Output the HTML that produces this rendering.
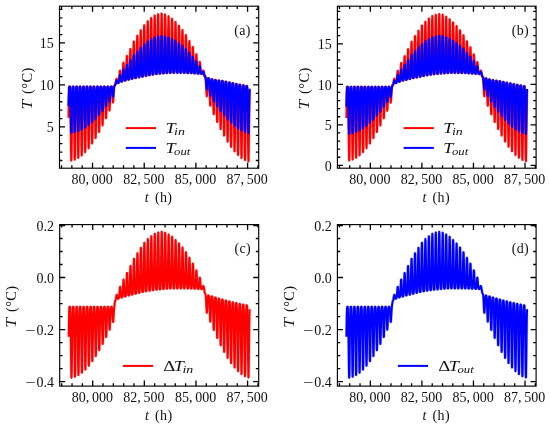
<!DOCTYPE html>
<html lang="en"><head><meta charset="utf-8"><title>Inlet and outlet temperatures</title>
<style>html,body{margin:0;padding:0;background:#fff;}svg{display:block;}text{font-family:"Liberation Serif", "DejaVu Serif", serif;font-size:14px;fill:#111;}.i{font-style:italic;}.ln{fill:none;stroke-width:2;stroke-linejoin:round;stroke-linecap:butt;}.halo{fill:none;stroke-width:3;stroke-opacity:0.22;stroke-linejoin:round;stroke-linecap:butt;}.fr{fill:none;stroke:#000;stroke-width:1.15;}.tk{stroke:#000;stroke-width:1.3;fill:none;}</style></head><body>
<svg width="550" height="428" viewBox="0 0 550 428">
<rect x="0" y="0" width="550" height="428" fill="#ffffff"/>
<defs><clipPath id="cpa"><rect x="59.50" y="6.20" width="199.20" height="162.00"/></clipPath><clipPath id="cpb"><rect x="337.40" y="6.20" width="198.70" height="162.00"/></clipPath><clipPath id="cpc"><rect x="59.70" y="224.60" width="199.00" height="161.50"/></clipPath><clipPath id="cpd"><rect x="337.40" y="224.60" width="198.70" height="161.50"/></clipPath></defs>
<g clip-path="url(#cpa)">
<polyline class="halo" stroke="#ff0000" points="68.55,117.84 68.68,108.13 68.80,100.11 68.93,94.12 69.05,90.17 69.17,87.95 69.30,86.96 69.42,86.66 69.55,86.62 69.67,86.63 69.79,86.71 69.92,87.18 70.04,88.53 70.17,91.27 70.29,95.87 70.42,102.54 70.54,111.17 70.66,121.27 70.79,132.04 70.91,142.42 71.04,151.30 71.16,157.63 71.28,160.67 71.41,160.03 71.53,155.79 71.66,148.48 71.78,138.96 71.90,128.32 72.03,117.68 72.15,108.01 72.28,100.03 72.40,94.08 72.52,90.15 72.65,87.94 72.77,86.95 72.90,86.66 73.02,86.62 73.14,86.63 73.27,86.71 73.39,87.18 73.52,88.51 73.64,91.23 73.76,95.78 73.89,102.37 74.01,110.90 74.14,120.88 74.26,131.50 74.38,141.74 74.51,150.49 74.63,156.72 74.76,159.68 74.88,159.02 75.00,154.82 75.13,147.59 75.25,138.19 75.38,127.69 75.50,117.20 75.62,107.67 75.75,99.81 75.87,93.95 76.00,90.09 76.12,87.92 76.24,86.95 76.37,86.66 76.49,86.62 76.62,86.63 76.74,86.71 76.86,87.17 76.99,88.47 77.11,91.13 77.24,95.59 77.36,102.04 77.49,110.37 77.61,120.12 77.73,130.50 77.86,140.49 77.98,149.01 78.11,155.07 78.23,157.94 78.35,157.27 78.48,153.14 78.60,146.06 78.73,136.88 78.85,126.63 78.97,116.40 79.10,107.11 79.22,99.45 79.35,93.75 79.47,89.99 79.59,87.88 79.72,86.94 79.84,86.66 79.97,86.62 80.09,86.62 80.21,86.71 80.34,87.15 80.46,88.41 80.59,90.99 80.71,95.30 80.83,101.54 80.96,109.60 81.08,119.02 81.21,129.04 81.33,138.67 81.45,146.88 81.58,152.70 81.70,155.44 81.83,154.76 81.95,150.75 82.07,143.90 82.20,135.03 82.32,125.15 82.45,115.28 82.57,106.34 82.69,98.96 82.82,93.47 82.94,89.86 83.07,87.83 83.19,86.93 83.31,86.66 83.44,86.62 83.56,86.62 83.69,86.70 83.81,87.13 83.93,88.34 84.06,90.80 84.18,94.92 84.31,100.88 84.43,108.58 84.56,117.56 84.68,127.11 84.80,136.28 84.93,144.08 85.05,149.61 85.18,152.19 85.30,151.51 85.42,147.66 85.55,141.12 85.67,132.65 85.80,123.24 85.92,113.85 86.04,105.34 86.17,98.33 86.29,93.12 86.42,89.69 86.54,87.77 86.66,86.91 86.79,86.65 86.91,86.62 87.04,86.62 87.16,86.70 87.28,87.10 87.41,88.24 87.53,90.57 87.66,94.45 87.78,100.07 87.90,107.31 88.03,115.76 88.15,124.73 88.28,133.34 88.40,140.65 88.52,145.81 88.65,148.20 88.77,147.53 88.90,143.89 89.02,137.72 89.14,129.76 89.27,120.91 89.39,112.10 89.52,104.13 89.64,97.57 89.76,92.70 89.89,89.49 90.01,87.69 90.14,86.89 90.26,86.65 90.38,86.62 90.51,86.62 90.63,86.69 90.76,87.07 90.88,88.13 91.00,90.29 91.13,93.89 91.25,99.10 91.38,105.80 91.50,113.62 91.63,121.91 91.75,129.85 91.87,136.58 92.00,141.32 92.12,143.49 92.25,142.84 92.37,139.44 92.49,133.72 92.62,126.35 92.74,118.19 92.87,110.06 92.99,102.72 93.11,96.68 93.24,92.20 93.36,89.25 93.49,87.60 93.61,86.87 93.73,86.65 93.86,86.62 93.98,86.62 94.11,86.69 94.23,87.03 94.35,87.99 94.48,89.96 94.60,93.24 94.73,97.97 94.85,104.06 94.97,111.15 95.10,118.66 95.22,125.84 95.35,131.91 95.47,136.16 95.59,138.09 95.72,137.46 95.84,134.35 95.97,129.14 96.09,122.46 96.21,115.07 96.34,107.73 96.46,101.11 96.59,95.66 96.71,91.63 96.83,88.98 96.96,87.50 97.08,86.84 97.21,86.65 97.33,86.62 97.45,86.62 97.58,86.68 97.70,86.99 97.83,87.84 97.95,89.60 98.07,92.51 98.20,96.71 98.32,102.10 98.45,108.37 98.57,115.00 98.70,121.33 98.82,126.66 98.94,130.38 99.07,132.04 99.19,131.43 99.32,128.64 99.44,124.02 99.56,118.12 99.69,111.59 99.81,105.13 99.94,99.31 100.06,94.53 100.18,91.00 100.31,88.68 100.43,87.39 100.56,86.81 100.68,86.64 100.80,86.62 100.93,86.62 101.05,86.67 101.18,86.94 101.30,87.68 101.42,89.19 101.55,91.70 101.67,95.31 101.80,99.94 101.92,105.31 102.04,110.97 102.17,116.36 102.29,120.89 102.42,124.02 102.54,125.38 102.66,124.81 102.79,122.38 102.91,118.40 103.04,113.35 103.16,107.78 103.28,102.28 103.41,97.34 103.53,93.30 103.66,90.31 103.78,88.36 103.90,87.27 104.03,86.78 104.15,86.64 104.28,86.62 104.40,86.62 104.52,86.66 104.65,86.88 104.77,87.50 104.90,88.75 105.02,90.82 105.14,93.79 105.27,97.59 105.39,101.99 105.52,106.61 105.64,110.99 105.77,114.64 105.89,117.14 106.01,118.19 106.14,117.66 106.26,115.63 106.39,112.34 106.51,108.20 106.63,103.67 106.76,99.21 106.88,95.22 107.01,91.96 107.13,89.57 107.25,88.00 107.38,87.13 107.50,86.75 107.63,86.64 107.75,86.62 107.87,86.62 108.00,86.66 108.12,86.83 108.25,87.31 108.37,88.28 108.49,89.88 108.62,92.17 108.74,95.09 108.87,98.45 108.99,101.96 109.11,105.26 109.24,107.98 109.36,109.81 109.49,110.53 109.61,110.05 109.73,108.44 109.86,105.91 109.98,102.75 110.11,99.31 110.23,95.96 110.35,92.97 110.48,90.55 110.60,88.78 110.73,87.63 110.85,86.99 110.97,86.72 111.10,86.63 111.22,86.62 111.35,86.62 111.47,86.65 111.59,86.77 111.72,87.10 111.84,87.78 111.97,88.89 112.09,90.47 112.21,92.46 112.34,94.73 112.46,97.07 112.59,99.24 112.71,101.00 112.83,102.14 112.96,102.51 113.08,102.09 113.21,100.93 113.33,99.17 113.46,97.04 113.58,94.76 113.70,92.56 113.83,90.63 113.95,89.04 114.08,87.81 114.20,86.93 114.32,86.33 114.45,85.93 114.57,85.64 114.70,85.40 114.82,85.18 114.94,85.00 115.07,84.84 115.19,84.68 115.32,84.45 115.44,84.12 115.56,83.67 115.69,83.08 115.81,82.38 115.94,81.59 116.06,80.78 116.18,80.01 116.31,79.36 116.43,78.90 116.56,78.67 116.68,78.70 116.80,78.99 116.93,79.48 117.05,80.12 117.18,80.81 117.30,81.49 117.42,82.07 117.55,82.52 117.67,82.81 117.80,82.95 117.92,82.99 118.04,82.96 118.17,82.90 118.29,82.85 118.42,82.78 118.54,82.67 118.66,82.45 118.79,82.05 118.91,81.39 119.04,80.43 119.16,79.17 119.28,77.65 119.41,75.96 119.53,74.27 119.66,72.73 119.78,71.52 119.90,70.77 120.03,70.59 120.15,70.98 120.28,71.91 120.40,73.25 120.53,74.84 120.65,76.51 120.77,78.07 120.90,79.39 121.02,80.40 121.15,81.07 121.27,81.43 121.39,81.57 121.52,81.58 121.64,81.55 121.77,81.50 121.89,81.44 122.01,81.30 122.14,80.97 122.26,80.33 122.39,79.26 122.51,77.70 122.63,75.66 122.76,73.23 122.88,70.58 123.01,67.95 123.13,65.62 123.25,63.85 123.38,62.85 123.50,62.74 123.63,63.55 123.75,65.16 123.87,67.38 124.00,69.95 124.12,72.58 124.25,75.02 124.37,77.06 124.49,78.60 124.62,79.62 124.74,80.19 124.87,80.42 124.99,80.47 125.11,80.44 125.24,80.41 125.36,80.35 125.49,80.18 125.61,79.74 125.73,78.89 125.86,77.46 125.98,75.38 126.11,72.67 126.23,69.45 126.35,65.96 126.48,62.53 126.60,59.51 126.73,57.26 126.85,56.03 126.97,55.98 127.10,57.13 127.22,59.31 127.35,62.29 127.47,65.70 127.60,69.17 127.72,72.38 127.84,75.06 127.97,77.08 128.09,78.41 128.22,79.16 128.34,79.48 128.46,79.56 128.59,79.54 128.71,79.51 128.84,79.45 128.96,79.24 129.08,78.71 129.21,77.63 129.33,75.83 129.46,73.19 129.58,69.76 129.70,65.69 129.83,61.29 129.95,56.98 130.08,53.21 130.20,50.40 130.32,48.90 130.45,48.89 130.57,50.38 130.70,53.17 130.82,56.95 130.94,61.26 131.07,65.65 131.19,69.69 131.32,73.06 131.44,75.60 131.56,77.28 131.69,78.23 131.81,78.64 131.94,78.74 132.06,78.73 132.18,78.70 132.31,78.63 132.43,78.38 132.56,77.73 132.68,76.40 132.80,74.17 132.93,70.93 133.05,66.70 133.18,61.71 133.30,56.32 133.42,51.07 133.55,46.49 133.67,43.13 133.80,41.38 133.92,41.46 134.04,43.37 134.17,46.86 134.29,51.52 134.42,56.80 134.54,62.15 134.67,67.05 134.79,71.13 134.91,74.18 135.04,76.20 135.16,77.34 135.29,77.83 135.41,77.96 135.53,77.95 135.66,77.93 135.78,77.85 135.91,77.57 136.03,76.82 136.15,75.29 136.28,72.74 136.40,69.04 136.53,64.22 136.65,58.54 136.77,52.45 136.90,46.52 137.02,41.38 137.15,37.63 137.27,35.71 137.39,35.87 137.52,38.08 137.64,42.07 137.77,47.37 137.89,53.36 138.01,59.41 138.14,64.94 138.26,69.54 138.39,72.98 138.51,75.26 138.63,76.53 138.76,77.09 138.88,77.25 139.01,77.24 139.13,77.22 139.25,77.14 139.38,76.83 139.50,75.99 139.63,74.29 139.75,71.45 139.87,67.32 140.00,61.95 140.12,55.63 140.25,48.86 140.37,42.27 140.49,36.57 140.62,32.42 140.74,30.31 140.87,30.52 140.99,33.00 141.11,37.46 141.24,43.37 141.36,50.03 141.49,56.76 141.61,62.90 141.74,68.01 141.86,71.83 141.98,74.35 142.11,75.77 142.23,76.39 142.36,76.56 142.48,76.56 142.60,76.53 142.73,76.45 142.85,76.11 142.98,75.19 143.10,73.32 143.22,70.19 143.35,65.65 143.47,59.75 143.60,52.81 143.72,45.37 143.84,38.16 143.97,31.93 144.09,27.42 144.22,25.16 144.34,25.43 144.46,28.20 144.59,33.12 144.71,39.62 144.84,46.93 144.96,54.29 145.08,61.00 145.21,66.56 145.33,70.72 145.46,73.46 145.58,75.00 145.70,75.67 145.83,75.86 145.95,75.86 146.08,75.83 146.20,75.74 146.32,75.38 146.45,74.39 146.57,72.39 146.70,69.04 146.82,64.19 146.94,57.91 147.07,50.52 147.19,42.63 147.32,34.98 147.44,28.40 147.56,23.65 147.69,21.29 147.81,21.62 147.94,24.59 148.06,29.85 148.18,36.75 148.31,44.51 148.43,52.31 148.56,59.42 148.68,65.30 148.81,69.70 148.93,72.60 149.05,74.22 149.18,74.93 149.30,75.13 149.43,75.13 149.55,75.10 149.67,75.01 149.80,74.63 149.92,73.60 150.05,71.50 150.17,68.00 150.29,62.91 150.42,56.33 150.54,48.61 150.67,40.35 150.79,32.36 150.91,25.50 151.04,20.55 151.16,18.11 151.29,18.48 151.41,21.62 151.53,27.13 151.66,34.36 151.78,42.48 151.91,50.64 152.03,58.06 152.15,64.21 152.28,68.80 152.40,71.83 152.53,73.52 152.65,74.27 152.77,74.48 152.90,74.49 153.02,74.47 153.15,74.38 153.27,73.99 153.39,72.93 153.52,70.75 153.64,67.12 153.77,61.85 153.89,55.04 154.01,47.04 154.14,38.50 154.26,30.25 154.39,23.17 154.51,18.09 154.63,15.61 154.76,16.04 154.88,19.32 155.01,25.06 155.13,32.56 155.25,40.97 155.38,49.40 155.50,57.07 155.63,63.41 155.75,68.14 155.88,71.26 156.00,73.01 156.12,73.79 156.25,74.01 156.37,74.02 156.50,74.00 156.62,73.92 156.74,73.53 156.87,72.44 156.99,70.23 157.12,66.53 157.24,61.17 157.36,54.24 157.49,46.11 157.61,37.44 157.74,29.07 157.86,21.90 157.98,16.76 158.11,14.27 158.23,14.74 158.36,18.10 158.48,23.94 158.60,31.57 158.73,40.11 158.85,48.66 158.98,56.44 159.10,62.87 159.22,67.67 159.35,70.83 159.47,72.60 159.60,73.39 159.72,73.62 159.84,73.63 159.97,73.62 160.09,73.54 160.22,73.14 160.34,72.05 160.46,69.82 160.59,66.09 160.71,60.70 160.84,53.71 160.96,45.53 161.08,36.81 161.21,28.40 161.33,21.20 161.46,16.05 161.58,13.56 161.70,14.06 161.83,17.47 161.95,23.37 162.08,31.06 162.20,39.66 162.32,48.26 162.45,56.08 162.57,62.53 162.70,67.34 162.82,70.51 162.95,72.28 163.07,73.07 163.19,73.30 163.32,73.32 163.44,73.31 163.57,73.23 163.69,72.84 163.81,71.76 163.94,69.56 164.06,65.88 164.19,60.56 164.31,53.68 164.43,45.64 164.56,37.08 164.68,28.84 164.81,21.81 164.93,16.80 165.05,14.41 165.18,14.95 165.30,18.34 165.43,24.17 165.55,31.73 165.67,40.17 165.80,48.60 165.92,56.24 166.05,62.55 166.17,67.24 166.29,70.33 166.42,72.07 166.54,72.84 166.67,73.06 166.79,73.08 166.91,73.07 167.04,73.00 167.16,72.62 167.29,71.57 167.41,69.44 167.53,65.89 167.66,60.75 167.78,54.11 167.91,46.35 168.03,38.11 168.15,30.18 168.28,23.42 168.40,18.63 168.53,16.36 168.65,16.91 168.77,20.20 168.90,25.83 169.02,33.12 169.15,41.24 169.27,49.35 169.39,56.70 169.52,62.75 169.64,67.26 169.77,70.23 169.89,71.89 170.02,72.63 170.14,72.84 170.26,72.86 170.39,72.85 170.51,72.78 170.64,72.42 170.76,71.42 170.88,69.39 171.01,65.99 171.13,61.07 171.26,54.73 171.38,47.32 171.50,39.45 171.63,31.88 171.75,25.45 171.88,20.89 172.00,18.76 172.12,19.31 172.25,22.47 172.37,27.86 172.50,34.83 172.62,42.59 172.74,50.32 172.87,57.32 172.99,63.09 173.12,67.37 173.24,70.19 173.36,71.77 173.49,72.47 173.61,72.68 173.74,72.70 173.86,72.70 173.98,72.63 174.11,72.30 174.23,71.36 174.36,69.44 174.48,66.25 174.60,61.64 174.73,55.69 174.85,48.75 174.98,41.38 175.10,34.31 175.22,28.31 175.35,24.07 175.47,22.10 175.60,22.64 175.72,25.63 175.84,30.69 175.97,37.22 176.09,44.49 176.22,51.72 176.34,58.27 176.46,63.66 176.59,67.67 176.71,70.30 176.84,71.78 176.96,72.44 177.09,72.64 177.21,72.66 177.33,72.66 177.46,72.61 177.58,72.30 177.71,71.43 177.83,69.65 177.95,66.67 178.08,62.38 178.20,56.84 178.33,50.38 178.45,43.53 178.57,36.96 178.70,31.39 178.82,27.46 178.95,25.65 179.07,26.19 179.19,28.99 179.32,33.72 179.44,39.81 179.57,46.56 179.69,53.29 179.81,59.37 179.94,64.37 180.06,68.08 180.19,70.53 180.31,71.90 180.43,72.51 180.56,72.69 180.68,72.72 180.81,72.72 180.93,72.67 181.05,72.39 181.18,71.59 181.30,69.96 181.43,67.24 181.55,63.32 181.67,58.27 181.80,52.39 181.92,46.16 182.05,40.21 182.17,35.16 182.29,31.63 182.42,30.03 182.54,30.55 182.67,33.13 182.79,37.45 182.91,43.00 183.04,49.14 183.16,55.24 183.29,60.75 183.41,65.27 183.53,68.63 183.66,70.83 183.78,72.07 183.91,72.62 184.03,72.79 184.16,72.81 184.28,72.81 184.40,72.77 184.53,72.52 184.65,71.81 184.78,70.36 184.90,67.93 185.02,64.44 185.15,59.95 185.27,54.72 185.40,49.20 185.52,43.93 185.64,39.49 185.77,36.39 185.89,35.02 186.02,35.53 186.14,37.86 186.26,41.71 186.39,46.64 186.51,52.09 186.64,57.48 186.76,62.34 186.88,66.32 187.01,69.26 187.13,71.20 187.26,72.28 187.38,72.76 187.50,72.90 187.63,72.93 187.75,72.93 187.88,72.89 188.00,72.68 188.12,72.07 188.25,70.82 188.37,68.75 188.50,65.77 188.62,61.95 188.74,57.51 188.87,52.84 188.99,48.40 189.12,44.67 189.24,42.10 189.36,40.98 189.49,41.46 189.61,43.48 189.74,46.77 189.86,50.95 189.98,55.55 190.11,60.10 190.23,64.19 190.36,67.54 190.48,70.01 190.60,71.63 190.73,72.54 190.85,72.95 190.98,73.07 191.10,73.09 191.23,73.10 191.35,73.07 191.47,72.90 191.60,72.40 191.72,71.37 191.85,69.66 191.97,67.20 192.09,64.06 192.22,60.42 192.34,56.60 192.47,52.98 192.59,49.96 192.71,47.89 192.84,47.04 192.96,47.49 193.09,49.19 193.21,51.92 193.33,55.37 193.46,59.13 193.58,62.84 193.71,66.15 193.83,68.86 193.95,70.85 194.08,72.15 194.20,72.87 194.33,73.20 194.45,73.30 194.57,73.32 194.70,73.33 194.82,73.31 194.95,73.18 195.07,72.79 195.19,72.01 195.32,70.71 195.44,68.86 195.57,66.50 195.69,63.79 195.81,60.97 195.94,58.32 196.06,56.15 196.19,54.70 196.31,54.16 196.43,54.58 196.56,55.91 196.68,57.99 196.81,60.55 196.93,63.33 197.05,66.04 197.18,68.44 197.30,70.39 197.43,71.81 197.55,72.74 197.67,73.25 197.80,73.48 197.92,73.55 198.05,73.57 198.17,73.58 198.30,73.57 198.42,73.49 198.54,73.23 198.67,72.72 198.79,71.87 198.92,70.67 199.04,69.16 199.16,67.45 199.29,65.70 199.41,64.10 199.54,62.84 199.66,62.06 199.78,61.87 199.91,62.30 200.03,63.27 200.16,64.67 200.28,66.32 200.40,68.03 200.53,69.64 200.65,71.02 200.78,72.11 200.90,72.87 201.02,73.35 201.15,73.61 201.27,73.73 201.40,73.77 201.52,73.78 201.64,73.79 201.77,73.79 201.89,73.77 202.02,73.68 202.14,73.52 202.26,73.24 202.39,72.87 202.51,72.42 202.64,71.92 202.76,71.43 202.88,70.98 203.01,70.64 203.13,70.46 203.26,70.45 203.38,70.63 203.50,70.96 203.63,71.41 203.75,71.92 203.88,72.49 204.00,73.12 204.12,73.73 204.25,74.31 204.37,74.84 204.50,76.03 204.62,75.97 204.74,76.10 204.87,76.31 204.99,76.53 205.12,76.69 205.24,76.80 205.37,76.96 205.49,77.31 205.61,77.97 205.74,79.04 205.86,80.61 205.99,82.68 206.11,85.15 206.23,87.86 206.36,90.57 206.48,92.99 206.61,94.87 206.73,95.98 206.85,96.18 206.98,95.45 207.10,93.88 207.23,91.66 207.35,89.06 207.47,86.37 207.60,83.86 207.72,81.75 207.85,80.15 207.97,79.09 208.09,78.51 208.22,78.27 208.34,78.23 208.47,78.26 208.59,78.31 208.71,78.38 208.84,78.58 208.96,79.06 209.09,80.00 209.21,81.57 209.33,83.87 209.46,86.87 209.58,90.45 209.71,94.33 209.83,98.17 209.95,101.56 210.08,104.11 210.20,105.52 210.33,105.62 210.45,104.39 210.57,101.98 210.70,98.68 210.82,94.89 210.95,91.00 211.07,87.41 211.19,84.40 211.32,82.13 211.44,80.63 211.57,79.78 211.69,79.42 211.81,79.33 211.94,79.35 212.06,79.38 212.19,79.44 212.31,79.67 212.43,80.28 212.56,81.50 212.68,83.55 212.81,86.53 212.93,90.44 213.06,95.07 213.18,100.07 213.30,104.97 213.43,109.27 213.55,112.46 213.68,114.17 213.80,114.17 213.92,112.47 214.05,109.27 214.17,104.96 214.30,100.03 214.42,95.02 214.54,90.41 214.67,86.56 214.79,83.67 214.92,81.75 215.04,80.66 215.16,80.19 215.29,80.06 215.41,80.06 215.54,80.08 215.66,80.15 215.78,80.42 215.91,81.15 216.03,82.63 216.16,85.13 216.28,88.77 216.40,93.51 216.53,99.13 216.65,105.17 216.78,111.08 216.90,116.23 217.02,120.02 217.15,121.99 217.27,121.91 217.40,119.77 217.52,115.84 217.64,110.59 217.77,104.62 217.89,98.57 218.02,93.02 218.14,88.39 218.26,84.92 218.39,82.62 218.51,81.32 218.64,80.75 218.76,80.59 218.88,80.58 219.01,80.60 219.13,80.67 219.26,80.98 219.38,81.83 219.50,83.56 219.63,86.48 219.75,90.72 219.88,96.25 220.00,102.77 220.13,109.78 220.25,116.61 220.37,122.54 220.50,126.88 220.62,129.10 220.75,128.94 220.87,126.40 220.99,121.80 221.12,115.69 221.24,108.77 221.37,101.78 221.49,95.38 221.61,90.05 221.74,86.06 221.86,83.42 221.99,81.93 222.11,81.27 222.23,81.08 222.36,81.08 222.48,81.10 222.61,81.18 222.73,81.53 222.85,82.50 222.98,84.46 223.10,87.76 223.23,92.56 223.35,98.79 223.47,106.14 223.60,114.02 223.72,121.69 223.85,128.32 223.97,133.16 224.09,135.61 224.22,135.38 224.34,132.48 224.47,127.29 224.59,120.41 224.71,112.64 224.84,104.81 224.96,97.65 225.09,91.70 225.21,87.25 225.33,84.31 225.46,82.65 225.58,81.93 225.71,81.73 225.83,81.73 225.95,81.76 226.08,81.85 226.20,82.24 226.33,83.32 226.45,85.49 226.57,89.13 226.70,94.42 226.82,101.28 226.95,109.36 227.07,118.01 227.20,126.42 227.32,133.67 227.44,138.94 227.57,141.59 227.69,141.29 227.82,138.08 227.94,132.36 228.06,124.80 228.19,116.28 228.31,107.70 228.44,99.87 228.56,93.37 228.68,88.51 228.81,85.30 228.93,83.50 229.06,82.71 229.18,82.49 229.30,82.48 229.43,82.51 229.55,82.61 229.68,83.04 229.80,84.19 229.92,86.54 230.05,90.47 230.17,96.18 230.30,103.58 230.42,112.28 230.54,121.59 230.67,130.63 230.79,138.41 230.92,144.04 231.04,146.85 231.16,146.49 231.29,143.00 231.41,136.81 231.54,128.67 231.66,119.50 231.78,110.27 231.91,101.86 232.03,94.89 232.16,89.69 232.28,86.25 232.40,84.32 232.53,83.47 232.65,83.23 232.78,83.22 232.90,83.25 233.02,83.35 233.15,83.80 233.27,85.03 233.40,87.53 233.52,91.70 233.64,97.76 233.77,105.61 233.89,114.83 234.02,124.70 234.14,134.25 234.27,142.47 234.39,148.40 234.51,151.34 234.64,150.92 234.76,147.19 234.89,140.61 235.01,131.97 235.13,122.27 235.26,112.51 235.38,103.62 235.51,96.26 235.63,90.76 235.75,87.14 235.88,85.10 236.00,84.21 236.13,83.95 236.25,83.95 236.37,83.97 236.50,84.08 236.62,84.55 236.75,85.84 236.87,88.45 236.99,92.82 237.12,99.16 237.24,107.37 237.37,117.01 237.49,127.31 237.61,137.28 237.74,145.84 237.86,152.01 237.99,155.04 238.11,154.57 238.23,150.64 238.36,143.75 238.48,134.72 238.61,124.58 238.73,114.41 238.85,105.14 238.98,97.47 239.10,91.75 239.23,87.97 239.35,85.85 239.47,84.92 239.60,84.66 239.72,84.65 239.85,84.68 239.97,84.78 240.09,85.27 240.22,86.60 240.34,89.30 240.47,93.82 240.59,100.38 240.71,108.86 240.84,118.81 240.96,129.43 241.09,139.70 241.21,148.52 241.34,154.85 241.46,157.95 241.58,157.43 241.71,153.35 241.83,146.23 241.96,136.90 242.08,126.44 242.20,115.96 242.33,106.41 242.45,98.52 242.58,92.63 242.70,88.75 242.82,86.57 242.95,85.61 243.07,85.34 243.20,85.33 243.32,85.36 243.44,85.47 243.57,85.96 243.69,87.32 243.82,90.09 243.94,94.71 244.06,101.40 244.19,110.07 244.31,120.22 244.44,131.06 244.56,141.52 244.68,150.50 244.81,156.93 244.93,160.06 245.06,159.50 245.18,155.32 245.30,148.03 245.43,138.51 245.55,127.85 245.68,117.16 245.80,107.44 245.92,99.41 246.05,93.42 246.17,89.47 246.30,87.26 246.42,86.28 246.54,86.00 246.67,85.99 246.79,86.02 246.92,86.13 247.04,86.63 247.16,88.00 247.29,90.80 247.41,95.48 247.54,102.24 247.66,111.00 247.78,121.25 247.91,132.18 248.03,142.74 248.16,151.78 248.28,158.25 248.41,161.38 248.53,160.78 248.65,156.54 248.78,149.16 248.90,139.55 249.03,128.79 249.15,118.01 249.27,108.22 249.40,100.13 249.52,94.10 249.65,90.13"/><polyline class="ln" stroke="#ff0000" points="68.55,117.84 68.68,108.13 68.80,100.11 68.93,94.12 69.05,90.17 69.17,87.95 69.30,86.96 69.42,86.66 69.55,86.62 69.67,86.63 69.79,86.71 69.92,87.18 70.04,88.53 70.17,91.27 70.29,95.87 70.42,102.54 70.54,111.17 70.66,121.27 70.79,132.04 70.91,142.42 71.04,151.30 71.16,157.63 71.28,160.67 71.41,160.03 71.53,155.79 71.66,148.48 71.78,138.96 71.90,128.32 72.03,117.68 72.15,108.01 72.28,100.03 72.40,94.08 72.52,90.15 72.65,87.94 72.77,86.95 72.90,86.66 73.02,86.62 73.14,86.63 73.27,86.71 73.39,87.18 73.52,88.51 73.64,91.23 73.76,95.78 73.89,102.37 74.01,110.90 74.14,120.88 74.26,131.50 74.38,141.74 74.51,150.49 74.63,156.72 74.76,159.68 74.88,159.02 75.00,154.82 75.13,147.59 75.25,138.19 75.38,127.69 75.50,117.20 75.62,107.67 75.75,99.81 75.87,93.95 76.00,90.09 76.12,87.92 76.24,86.95 76.37,86.66 76.49,86.62 76.62,86.63 76.74,86.71 76.86,87.17 76.99,88.47 77.11,91.13 77.24,95.59 77.36,102.04 77.49,110.37 77.61,120.12 77.73,130.50 77.86,140.49 77.98,149.01 78.11,155.07 78.23,157.94 78.35,157.27 78.48,153.14 78.60,146.06 78.73,136.88 78.85,126.63 78.97,116.40 79.10,107.11 79.22,99.45 79.35,93.75 79.47,89.99 79.59,87.88 79.72,86.94 79.84,86.66 79.97,86.62 80.09,86.62 80.21,86.71 80.34,87.15 80.46,88.41 80.59,90.99 80.71,95.30 80.83,101.54 80.96,109.60 81.08,119.02 81.21,129.04 81.33,138.67 81.45,146.88 81.58,152.70 81.70,155.44 81.83,154.76 81.95,150.75 82.07,143.90 82.20,135.03 82.32,125.15 82.45,115.28 82.57,106.34 82.69,98.96 82.82,93.47 82.94,89.86 83.07,87.83 83.19,86.93 83.31,86.66 83.44,86.62 83.56,86.62 83.69,86.70 83.81,87.13 83.93,88.34 84.06,90.80 84.18,94.92 84.31,100.88 84.43,108.58 84.56,117.56 84.68,127.11 84.80,136.28 84.93,144.08 85.05,149.61 85.18,152.19 85.30,151.51 85.42,147.66 85.55,141.12 85.67,132.65 85.80,123.24 85.92,113.85 86.04,105.34 86.17,98.33 86.29,93.12 86.42,89.69 86.54,87.77 86.66,86.91 86.79,86.65 86.91,86.62 87.04,86.62 87.16,86.70 87.28,87.10 87.41,88.24 87.53,90.57 87.66,94.45 87.78,100.07 87.90,107.31 88.03,115.76 88.15,124.73 88.28,133.34 88.40,140.65 88.52,145.81 88.65,148.20 88.77,147.53 88.90,143.89 89.02,137.72 89.14,129.76 89.27,120.91 89.39,112.10 89.52,104.13 89.64,97.57 89.76,92.70 89.89,89.49 90.01,87.69 90.14,86.89 90.26,86.65 90.38,86.62 90.51,86.62 90.63,86.69 90.76,87.07 90.88,88.13 91.00,90.29 91.13,93.89 91.25,99.10 91.38,105.80 91.50,113.62 91.63,121.91 91.75,129.85 91.87,136.58 92.00,141.32 92.12,143.49 92.25,142.84 92.37,139.44 92.49,133.72 92.62,126.35 92.74,118.19 92.87,110.06 92.99,102.72 93.11,96.68 93.24,92.20 93.36,89.25 93.49,87.60 93.61,86.87 93.73,86.65 93.86,86.62 93.98,86.62 94.11,86.69 94.23,87.03 94.35,87.99 94.48,89.96 94.60,93.24 94.73,97.97 94.85,104.06 94.97,111.15 95.10,118.66 95.22,125.84 95.35,131.91 95.47,136.16 95.59,138.09 95.72,137.46 95.84,134.35 95.97,129.14 96.09,122.46 96.21,115.07 96.34,107.73 96.46,101.11 96.59,95.66 96.71,91.63 96.83,88.98 96.96,87.50 97.08,86.84 97.21,86.65 97.33,86.62 97.45,86.62 97.58,86.68 97.70,86.99 97.83,87.84 97.95,89.60 98.07,92.51 98.20,96.71 98.32,102.10 98.45,108.37 98.57,115.00 98.70,121.33 98.82,126.66 98.94,130.38 99.07,132.04 99.19,131.43 99.32,128.64 99.44,124.02 99.56,118.12 99.69,111.59 99.81,105.13 99.94,99.31 100.06,94.53 100.18,91.00 100.31,88.68 100.43,87.39 100.56,86.81 100.68,86.64 100.80,86.62 100.93,86.62 101.05,86.67 101.18,86.94 101.30,87.68 101.42,89.19 101.55,91.70 101.67,95.31 101.80,99.94 101.92,105.31 102.04,110.97 102.17,116.36 102.29,120.89 102.42,124.02 102.54,125.38 102.66,124.81 102.79,122.38 102.91,118.40 103.04,113.35 103.16,107.78 103.28,102.28 103.41,97.34 103.53,93.30 103.66,90.31 103.78,88.36 103.90,87.27 104.03,86.78 104.15,86.64 104.28,86.62 104.40,86.62 104.52,86.66 104.65,86.88 104.77,87.50 104.90,88.75 105.02,90.82 105.14,93.79 105.27,97.59 105.39,101.99 105.52,106.61 105.64,110.99 105.77,114.64 105.89,117.14 106.01,118.19 106.14,117.66 106.26,115.63 106.39,112.34 106.51,108.20 106.63,103.67 106.76,99.21 106.88,95.22 107.01,91.96 107.13,89.57 107.25,88.00 107.38,87.13 107.50,86.75 107.63,86.64 107.75,86.62 107.87,86.62 108.00,86.66 108.12,86.83 108.25,87.31 108.37,88.28 108.49,89.88 108.62,92.17 108.74,95.09 108.87,98.45 108.99,101.96 109.11,105.26 109.24,107.98 109.36,109.81 109.49,110.53 109.61,110.05 109.73,108.44 109.86,105.91 109.98,102.75 110.11,99.31 110.23,95.96 110.35,92.97 110.48,90.55 110.60,88.78 110.73,87.63 110.85,86.99 110.97,86.72 111.10,86.63 111.22,86.62 111.35,86.62 111.47,86.65 111.59,86.77 111.72,87.10 111.84,87.78 111.97,88.89 112.09,90.47 112.21,92.46 112.34,94.73 112.46,97.07 112.59,99.24 112.71,101.00 112.83,102.14 112.96,102.51 113.08,102.09 113.21,100.93 113.33,99.17 113.46,97.04 113.58,94.76 113.70,92.56 113.83,90.63 113.95,89.04 114.08,87.81 114.20,86.93 114.32,86.33 114.45,85.93 114.57,85.64 114.70,85.40 114.82,85.18 114.94,85.00 115.07,84.84 115.19,84.68 115.32,84.45 115.44,84.12 115.56,83.67 115.69,83.08 115.81,82.38 115.94,81.59 116.06,80.78 116.18,80.01 116.31,79.36 116.43,78.90 116.56,78.67 116.68,78.70 116.80,78.99 116.93,79.48 117.05,80.12 117.18,80.81 117.30,81.49 117.42,82.07 117.55,82.52 117.67,82.81 117.80,82.95 117.92,82.99 118.04,82.96 118.17,82.90 118.29,82.85 118.42,82.78 118.54,82.67 118.66,82.45 118.79,82.05 118.91,81.39 119.04,80.43 119.16,79.17 119.28,77.65 119.41,75.96 119.53,74.27 119.66,72.73 119.78,71.52 119.90,70.77 120.03,70.59 120.15,70.98 120.28,71.91 120.40,73.25 120.53,74.84 120.65,76.51 120.77,78.07 120.90,79.39 121.02,80.40 121.15,81.07 121.27,81.43 121.39,81.57 121.52,81.58 121.64,81.55 121.77,81.50 121.89,81.44 122.01,81.30 122.14,80.97 122.26,80.33 122.39,79.26 122.51,77.70 122.63,75.66 122.76,73.23 122.88,70.58 123.01,67.95 123.13,65.62 123.25,63.85 123.38,62.85 123.50,62.74 123.63,63.55 123.75,65.16 123.87,67.38 124.00,69.95 124.12,72.58 124.25,75.02 124.37,77.06 124.49,78.60 124.62,79.62 124.74,80.19 124.87,80.42 124.99,80.47 125.11,80.44 125.24,80.41 125.36,80.35 125.49,80.18 125.61,79.74 125.73,78.89 125.86,77.46 125.98,75.38 126.11,72.67 126.23,69.45 126.35,65.96 126.48,62.53 126.60,59.51 126.73,57.26 126.85,56.03 126.97,55.98 127.10,57.13 127.22,59.31 127.35,62.29 127.47,65.70 127.60,69.17 127.72,72.38 127.84,75.06 127.97,77.08 128.09,78.41 128.22,79.16 128.34,79.48 128.46,79.56 128.59,79.54 128.71,79.51 128.84,79.45 128.96,79.24 129.08,78.71 129.21,77.63 129.33,75.83 129.46,73.19 129.58,69.76 129.70,65.69 129.83,61.29 129.95,56.98 130.08,53.21 130.20,50.40 130.32,48.90 130.45,48.89 130.57,50.38 130.70,53.17 130.82,56.95 130.94,61.26 131.07,65.65 131.19,69.69 131.32,73.06 131.44,75.60 131.56,77.28 131.69,78.23 131.81,78.64 131.94,78.74 132.06,78.73 132.18,78.70 132.31,78.63 132.43,78.38 132.56,77.73 132.68,76.40 132.80,74.17 132.93,70.93 133.05,66.70 133.18,61.71 133.30,56.32 133.42,51.07 133.55,46.49 133.67,43.13 133.80,41.38 133.92,41.46 134.04,43.37 134.17,46.86 134.29,51.52 134.42,56.80 134.54,62.15 134.67,67.05 134.79,71.13 134.91,74.18 135.04,76.20 135.16,77.34 135.29,77.83 135.41,77.96 135.53,77.95 135.66,77.93 135.78,77.85 135.91,77.57 136.03,76.82 136.15,75.29 136.28,72.74 136.40,69.04 136.53,64.22 136.65,58.54 136.77,52.45 136.90,46.52 137.02,41.38 137.15,37.63 137.27,35.71 137.39,35.87 137.52,38.08 137.64,42.07 137.77,47.37 137.89,53.36 138.01,59.41 138.14,64.94 138.26,69.54 138.39,72.98 138.51,75.26 138.63,76.53 138.76,77.09 138.88,77.25 139.01,77.24 139.13,77.22 139.25,77.14 139.38,76.83 139.50,75.99 139.63,74.29 139.75,71.45 139.87,67.32 140.00,61.95 140.12,55.63 140.25,48.86 140.37,42.27 140.49,36.57 140.62,32.42 140.74,30.31 140.87,30.52 140.99,33.00 141.11,37.46 141.24,43.37 141.36,50.03 141.49,56.76 141.61,62.90 141.74,68.01 141.86,71.83 141.98,74.35 142.11,75.77 142.23,76.39 142.36,76.56 142.48,76.56 142.60,76.53 142.73,76.45 142.85,76.11 142.98,75.19 143.10,73.32 143.22,70.19 143.35,65.65 143.47,59.75 143.60,52.81 143.72,45.37 143.84,38.16 143.97,31.93 144.09,27.42 144.22,25.16 144.34,25.43 144.46,28.20 144.59,33.12 144.71,39.62 144.84,46.93 144.96,54.29 145.08,61.00 145.21,66.56 145.33,70.72 145.46,73.46 145.58,75.00 145.70,75.67 145.83,75.86 145.95,75.86 146.08,75.83 146.20,75.74 146.32,75.38 146.45,74.39 146.57,72.39 146.70,69.04 146.82,64.19 146.94,57.91 147.07,50.52 147.19,42.63 147.32,34.98 147.44,28.40 147.56,23.65 147.69,21.29 147.81,21.62 147.94,24.59 148.06,29.85 148.18,36.75 148.31,44.51 148.43,52.31 148.56,59.42 148.68,65.30 148.81,69.70 148.93,72.60 149.05,74.22 149.18,74.93 149.30,75.13 149.43,75.13 149.55,75.10 149.67,75.01 149.80,74.63 149.92,73.60 150.05,71.50 150.17,68.00 150.29,62.91 150.42,56.33 150.54,48.61 150.67,40.35 150.79,32.36 150.91,25.50 151.04,20.55 151.16,18.11 151.29,18.48 151.41,21.62 151.53,27.13 151.66,34.36 151.78,42.48 151.91,50.64 152.03,58.06 152.15,64.21 152.28,68.80 152.40,71.83 152.53,73.52 152.65,74.27 152.77,74.48 152.90,74.49 153.02,74.47 153.15,74.38 153.27,73.99 153.39,72.93 153.52,70.75 153.64,67.12 153.77,61.85 153.89,55.04 154.01,47.04 154.14,38.50 154.26,30.25 154.39,23.17 154.51,18.09 154.63,15.61 154.76,16.04 154.88,19.32 155.01,25.06 155.13,32.56 155.25,40.97 155.38,49.40 155.50,57.07 155.63,63.41 155.75,68.14 155.88,71.26 156.00,73.01 156.12,73.79 156.25,74.01 156.37,74.02 156.50,74.00 156.62,73.92 156.74,73.53 156.87,72.44 156.99,70.23 157.12,66.53 157.24,61.17 157.36,54.24 157.49,46.11 157.61,37.44 157.74,29.07 157.86,21.90 157.98,16.76 158.11,14.27 158.23,14.74 158.36,18.10 158.48,23.94 158.60,31.57 158.73,40.11 158.85,48.66 158.98,56.44 159.10,62.87 159.22,67.67 159.35,70.83 159.47,72.60 159.60,73.39 159.72,73.62 159.84,73.63 159.97,73.62 160.09,73.54 160.22,73.14 160.34,72.05 160.46,69.82 160.59,66.09 160.71,60.70 160.84,53.71 160.96,45.53 161.08,36.81 161.21,28.40 161.33,21.20 161.46,16.05 161.58,13.56 161.70,14.06 161.83,17.47 161.95,23.37 162.08,31.06 162.20,39.66 162.32,48.26 162.45,56.08 162.57,62.53 162.70,67.34 162.82,70.51 162.95,72.28 163.07,73.07 163.19,73.30 163.32,73.32 163.44,73.31 163.57,73.23 163.69,72.84 163.81,71.76 163.94,69.56 164.06,65.88 164.19,60.56 164.31,53.68 164.43,45.64 164.56,37.08 164.68,28.84 164.81,21.81 164.93,16.80 165.05,14.41 165.18,14.95 165.30,18.34 165.43,24.17 165.55,31.73 165.67,40.17 165.80,48.60 165.92,56.24 166.05,62.55 166.17,67.24 166.29,70.33 166.42,72.07 166.54,72.84 166.67,73.06 166.79,73.08 166.91,73.07 167.04,73.00 167.16,72.62 167.29,71.57 167.41,69.44 167.53,65.89 167.66,60.75 167.78,54.11 167.91,46.35 168.03,38.11 168.15,30.18 168.28,23.42 168.40,18.63 168.53,16.36 168.65,16.91 168.77,20.20 168.90,25.83 169.02,33.12 169.15,41.24 169.27,49.35 169.39,56.70 169.52,62.75 169.64,67.26 169.77,70.23 169.89,71.89 170.02,72.63 170.14,72.84 170.26,72.86 170.39,72.85 170.51,72.78 170.64,72.42 170.76,71.42 170.88,69.39 171.01,65.99 171.13,61.07 171.26,54.73 171.38,47.32 171.50,39.45 171.63,31.88 171.75,25.45 171.88,20.89 172.00,18.76 172.12,19.31 172.25,22.47 172.37,27.86 172.50,34.83 172.62,42.59 172.74,50.32 172.87,57.32 172.99,63.09 173.12,67.37 173.24,70.19 173.36,71.77 173.49,72.47 173.61,72.68 173.74,72.70 173.86,72.70 173.98,72.63 174.11,72.30 174.23,71.36 174.36,69.44 174.48,66.25 174.60,61.64 174.73,55.69 174.85,48.75 174.98,41.38 175.10,34.31 175.22,28.31 175.35,24.07 175.47,22.10 175.60,22.64 175.72,25.63 175.84,30.69 175.97,37.22 176.09,44.49 176.22,51.72 176.34,58.27 176.46,63.66 176.59,67.67 176.71,70.30 176.84,71.78 176.96,72.44 177.09,72.64 177.21,72.66 177.33,72.66 177.46,72.61 177.58,72.30 177.71,71.43 177.83,69.65 177.95,66.67 178.08,62.38 178.20,56.84 178.33,50.38 178.45,43.53 178.57,36.96 178.70,31.39 178.82,27.46 178.95,25.65 179.07,26.19 179.19,28.99 179.32,33.72 179.44,39.81 179.57,46.56 179.69,53.29 179.81,59.37 179.94,64.37 180.06,68.08 180.19,70.53 180.31,71.90 180.43,72.51 180.56,72.69 180.68,72.72 180.81,72.72 180.93,72.67 181.05,72.39 181.18,71.59 181.30,69.96 181.43,67.24 181.55,63.32 181.67,58.27 181.80,52.39 181.92,46.16 182.05,40.21 182.17,35.16 182.29,31.63 182.42,30.03 182.54,30.55 182.67,33.13 182.79,37.45 182.91,43.00 183.04,49.14 183.16,55.24 183.29,60.75 183.41,65.27 183.53,68.63 183.66,70.83 183.78,72.07 183.91,72.62 184.03,72.79 184.16,72.81 184.28,72.81 184.40,72.77 184.53,72.52 184.65,71.81 184.78,70.36 184.90,67.93 185.02,64.44 185.15,59.95 185.27,54.72 185.40,49.20 185.52,43.93 185.64,39.49 185.77,36.39 185.89,35.02 186.02,35.53 186.14,37.86 186.26,41.71 186.39,46.64 186.51,52.09 186.64,57.48 186.76,62.34 186.88,66.32 187.01,69.26 187.13,71.20 187.26,72.28 187.38,72.76 187.50,72.90 187.63,72.93 187.75,72.93 187.88,72.89 188.00,72.68 188.12,72.07 188.25,70.82 188.37,68.75 188.50,65.77 188.62,61.95 188.74,57.51 188.87,52.84 188.99,48.40 189.12,44.67 189.24,42.10 189.36,40.98 189.49,41.46 189.61,43.48 189.74,46.77 189.86,50.95 189.98,55.55 190.11,60.10 190.23,64.19 190.36,67.54 190.48,70.01 190.60,71.63 190.73,72.54 190.85,72.95 190.98,73.07 191.10,73.09 191.23,73.10 191.35,73.07 191.47,72.90 191.60,72.40 191.72,71.37 191.85,69.66 191.97,67.20 192.09,64.06 192.22,60.42 192.34,56.60 192.47,52.98 192.59,49.96 192.71,47.89 192.84,47.04 192.96,47.49 193.09,49.19 193.21,51.92 193.33,55.37 193.46,59.13 193.58,62.84 193.71,66.15 193.83,68.86 193.95,70.85 194.08,72.15 194.20,72.87 194.33,73.20 194.45,73.30 194.57,73.32 194.70,73.33 194.82,73.31 194.95,73.18 195.07,72.79 195.19,72.01 195.32,70.71 195.44,68.86 195.57,66.50 195.69,63.79 195.81,60.97 195.94,58.32 196.06,56.15 196.19,54.70 196.31,54.16 196.43,54.58 196.56,55.91 196.68,57.99 196.81,60.55 196.93,63.33 197.05,66.04 197.18,68.44 197.30,70.39 197.43,71.81 197.55,72.74 197.67,73.25 197.80,73.48 197.92,73.55 198.05,73.57 198.17,73.58 198.30,73.57 198.42,73.49 198.54,73.23 198.67,72.72 198.79,71.87 198.92,70.67 199.04,69.16 199.16,67.45 199.29,65.70 199.41,64.10 199.54,62.84 199.66,62.06 199.78,61.87 199.91,62.30 200.03,63.27 200.16,64.67 200.28,66.32 200.40,68.03 200.53,69.64 200.65,71.02 200.78,72.11 200.90,72.87 201.02,73.35 201.15,73.61 201.27,73.73 201.40,73.77 201.52,73.78 201.64,73.79 201.77,73.79 201.89,73.77 202.02,73.68 202.14,73.52 202.26,73.24 202.39,72.87 202.51,72.42 202.64,71.92 202.76,71.43 202.88,70.98 203.01,70.64 203.13,70.46 203.26,70.45 203.38,70.63 203.50,70.96 203.63,71.41 203.75,71.92 203.88,72.49 204.00,73.12 204.12,73.73 204.25,74.31 204.37,74.84 204.50,76.03 204.62,75.97 204.74,76.10 204.87,76.31 204.99,76.53 205.12,76.69 205.24,76.80 205.37,76.96 205.49,77.31 205.61,77.97 205.74,79.04 205.86,80.61 205.99,82.68 206.11,85.15 206.23,87.86 206.36,90.57 206.48,92.99 206.61,94.87 206.73,95.98 206.85,96.18 206.98,95.45 207.10,93.88 207.23,91.66 207.35,89.06 207.47,86.37 207.60,83.86 207.72,81.75 207.85,80.15 207.97,79.09 208.09,78.51 208.22,78.27 208.34,78.23 208.47,78.26 208.59,78.31 208.71,78.38 208.84,78.58 208.96,79.06 209.09,80.00 209.21,81.57 209.33,83.87 209.46,86.87 209.58,90.45 209.71,94.33 209.83,98.17 209.95,101.56 210.08,104.11 210.20,105.52 210.33,105.62 210.45,104.39 210.57,101.98 210.70,98.68 210.82,94.89 210.95,91.00 211.07,87.41 211.19,84.40 211.32,82.13 211.44,80.63 211.57,79.78 211.69,79.42 211.81,79.33 211.94,79.35 212.06,79.38 212.19,79.44 212.31,79.67 212.43,80.28 212.56,81.50 212.68,83.55 212.81,86.53 212.93,90.44 213.06,95.07 213.18,100.07 213.30,104.97 213.43,109.27 213.55,112.46 213.68,114.17 213.80,114.17 213.92,112.47 214.05,109.27 214.17,104.96 214.30,100.03 214.42,95.02 214.54,90.41 214.67,86.56 214.79,83.67 214.92,81.75 215.04,80.66 215.16,80.19 215.29,80.06 215.41,80.06 215.54,80.08 215.66,80.15 215.78,80.42 215.91,81.15 216.03,82.63 216.16,85.13 216.28,88.77 216.40,93.51 216.53,99.13 216.65,105.17 216.78,111.08 216.90,116.23 217.02,120.02 217.15,121.99 217.27,121.91 217.40,119.77 217.52,115.84 217.64,110.59 217.77,104.62 217.89,98.57 218.02,93.02 218.14,88.39 218.26,84.92 218.39,82.62 218.51,81.32 218.64,80.75 218.76,80.59 218.88,80.58 219.01,80.60 219.13,80.67 219.26,80.98 219.38,81.83 219.50,83.56 219.63,86.48 219.75,90.72 219.88,96.25 220.00,102.77 220.13,109.78 220.25,116.61 220.37,122.54 220.50,126.88 220.62,129.10 220.75,128.94 220.87,126.40 220.99,121.80 221.12,115.69 221.24,108.77 221.37,101.78 221.49,95.38 221.61,90.05 221.74,86.06 221.86,83.42 221.99,81.93 222.11,81.27 222.23,81.08 222.36,81.08 222.48,81.10 222.61,81.18 222.73,81.53 222.85,82.50 222.98,84.46 223.10,87.76 223.23,92.56 223.35,98.79 223.47,106.14 223.60,114.02 223.72,121.69 223.85,128.32 223.97,133.16 224.09,135.61 224.22,135.38 224.34,132.48 224.47,127.29 224.59,120.41 224.71,112.64 224.84,104.81 224.96,97.65 225.09,91.70 225.21,87.25 225.33,84.31 225.46,82.65 225.58,81.93 225.71,81.73 225.83,81.73 225.95,81.76 226.08,81.85 226.20,82.24 226.33,83.32 226.45,85.49 226.57,89.13 226.70,94.42 226.82,101.28 226.95,109.36 227.07,118.01 227.20,126.42 227.32,133.67 227.44,138.94 227.57,141.59 227.69,141.29 227.82,138.08 227.94,132.36 228.06,124.80 228.19,116.28 228.31,107.70 228.44,99.87 228.56,93.37 228.68,88.51 228.81,85.30 228.93,83.50 229.06,82.71 229.18,82.49 229.30,82.48 229.43,82.51 229.55,82.61 229.68,83.04 229.80,84.19 229.92,86.54 230.05,90.47 230.17,96.18 230.30,103.58 230.42,112.28 230.54,121.59 230.67,130.63 230.79,138.41 230.92,144.04 231.04,146.85 231.16,146.49 231.29,143.00 231.41,136.81 231.54,128.67 231.66,119.50 231.78,110.27 231.91,101.86 232.03,94.89 232.16,89.69 232.28,86.25 232.40,84.32 232.53,83.47 232.65,83.23 232.78,83.22 232.90,83.25 233.02,83.35 233.15,83.80 233.27,85.03 233.40,87.53 233.52,91.70 233.64,97.76 233.77,105.61 233.89,114.83 234.02,124.70 234.14,134.25 234.27,142.47 234.39,148.40 234.51,151.34 234.64,150.92 234.76,147.19 234.89,140.61 235.01,131.97 235.13,122.27 235.26,112.51 235.38,103.62 235.51,96.26 235.63,90.76 235.75,87.14 235.88,85.10 236.00,84.21 236.13,83.95 236.25,83.95 236.37,83.97 236.50,84.08 236.62,84.55 236.75,85.84 236.87,88.45 236.99,92.82 237.12,99.16 237.24,107.37 237.37,117.01 237.49,127.31 237.61,137.28 237.74,145.84 237.86,152.01 237.99,155.04 238.11,154.57 238.23,150.64 238.36,143.75 238.48,134.72 238.61,124.58 238.73,114.41 238.85,105.14 238.98,97.47 239.10,91.75 239.23,87.97 239.35,85.85 239.47,84.92 239.60,84.66 239.72,84.65 239.85,84.68 239.97,84.78 240.09,85.27 240.22,86.60 240.34,89.30 240.47,93.82 240.59,100.38 240.71,108.86 240.84,118.81 240.96,129.43 241.09,139.70 241.21,148.52 241.34,154.85 241.46,157.95 241.58,157.43 241.71,153.35 241.83,146.23 241.96,136.90 242.08,126.44 242.20,115.96 242.33,106.41 242.45,98.52 242.58,92.63 242.70,88.75 242.82,86.57 242.95,85.61 243.07,85.34 243.20,85.33 243.32,85.36 243.44,85.47 243.57,85.96 243.69,87.32 243.82,90.09 243.94,94.71 244.06,101.40 244.19,110.07 244.31,120.22 244.44,131.06 244.56,141.52 244.68,150.50 244.81,156.93 244.93,160.06 245.06,159.50 245.18,155.32 245.30,148.03 245.43,138.51 245.55,127.85 245.68,117.16 245.80,107.44 245.92,99.41 246.05,93.42 246.17,89.47 246.30,87.26 246.42,86.28 246.54,86.00 246.67,85.99 246.79,86.02 246.92,86.13 247.04,86.63 247.16,88.00 247.29,90.80 247.41,95.48 247.54,102.24 247.66,111.00 247.78,121.25 247.91,132.18 248.03,142.74 248.16,151.78 248.28,158.25 248.41,161.38 248.53,160.78 248.65,156.54 248.78,149.16 248.90,139.55 249.03,128.79 249.15,118.01 249.27,108.22 249.40,100.13 249.52,94.10 249.65,90.13"/>
<polyline class="halo" stroke="#0000ff" points="68.55,106.13 68.68,100.07 68.80,95.05 68.93,91.31 69.05,88.84 69.17,87.45 69.30,86.83 69.42,86.65 69.55,86.62 69.67,86.62 69.79,86.68 69.92,86.97 70.04,87.81 70.17,89.53 70.29,92.40 70.42,96.57 70.54,101.96 70.66,108.28 70.79,115.01 70.91,121.50 71.04,127.04 71.16,131.00 71.28,132.90 71.41,132.50 71.53,129.85 71.66,125.28 71.78,119.33 71.90,112.68 72.03,106.03 72.15,99.99 72.28,95.00 72.40,91.28 72.52,88.83 72.65,87.45 72.77,86.83 72.90,86.65 73.02,86.62 73.14,86.62 73.27,86.68 73.39,86.97 73.52,87.80 73.64,89.50 73.76,92.34 73.89,96.47 74.01,101.79 74.14,108.03 74.26,114.67 74.38,121.07 74.51,126.54 74.63,130.43 74.76,132.29 74.88,131.87 75.00,129.25 75.13,124.72 75.25,118.85 75.38,112.29 75.50,105.73 75.62,99.78 75.75,94.86 75.87,91.20 76.00,88.79 76.12,87.43 76.24,86.83 76.37,86.65 76.49,86.62 76.62,86.62 76.74,86.68 76.86,86.96 76.99,87.78 77.11,89.44 77.24,92.23 77.36,96.26 77.49,101.47 77.61,107.56 77.73,114.05 77.86,120.29 77.98,125.62 78.11,129.40 78.23,131.20 78.35,130.78 78.48,128.20 78.60,123.77 78.73,118.03 78.85,111.63 78.97,105.23 79.10,99.43 79.22,94.64 79.35,91.08 79.47,88.73 79.59,87.41 79.72,86.82 79.84,86.64 79.97,86.62 80.09,86.62 80.21,86.68 80.34,86.95 80.46,87.74 80.59,89.35 80.71,92.05 80.83,95.95 80.96,100.98 81.08,106.87 81.21,113.13 81.33,119.15 81.45,124.28 81.58,127.92 81.70,129.63 81.83,129.21 81.95,126.70 82.07,122.42 82.20,116.88 82.32,110.70 82.45,104.53 82.57,98.94 82.69,94.33 82.82,90.91 82.94,88.65 83.07,87.38 83.19,86.81 83.31,86.64 83.44,86.62 83.56,86.62 83.69,86.67 83.81,86.94 83.93,87.69 84.06,89.24 84.18,91.81 84.31,95.54 84.43,100.34 84.56,105.96 84.68,111.93 84.80,117.66 84.93,122.54 85.05,125.99 85.18,127.60 85.30,127.18 85.42,124.77 85.55,120.68 85.67,115.39 85.80,109.51 85.92,103.64 86.04,98.32 86.17,93.94 86.29,90.69 86.42,88.54 86.54,87.34 86.66,86.80 86.79,86.64 86.91,86.62 87.04,86.62 87.16,86.67 87.28,86.92 87.41,87.63 87.53,89.09 87.66,91.52 87.78,95.03 87.90,99.55 88.03,104.83 88.15,110.44 88.28,115.82 88.40,120.39 88.52,123.61 88.65,125.11 88.77,124.69 88.90,122.41 89.02,118.56 89.14,113.58 89.27,108.05 89.39,102.55 89.52,97.57 89.64,93.47 89.76,90.42 89.89,88.41 90.01,87.29 90.14,86.79 90.26,86.64 90.38,86.62 90.51,86.62 90.63,86.67 90.76,86.90 90.88,87.56 91.00,88.91 91.13,91.17 91.25,94.42 91.38,98.61 91.50,103.49 91.63,108.67 91.75,113.64 91.87,117.85 92.00,120.81 92.12,122.17 92.25,121.76 92.37,119.63 92.49,116.06 92.62,111.45 92.74,106.35 92.87,101.27 92.99,96.68 93.11,92.91 93.24,90.11 93.36,88.27 93.49,87.24 93.61,86.78 93.73,86.64 93.86,86.62 93.98,86.62 94.11,86.66 94.23,86.88 94.35,87.48 94.48,88.71 94.60,90.76 94.73,93.72 94.85,97.52 94.97,101.95 95.10,106.64 95.22,111.13 95.35,114.93 95.47,117.59 95.59,118.79 95.72,118.39 95.84,116.45 95.97,113.20 96.09,109.02 96.21,104.40 96.34,99.82 96.46,95.67 96.59,92.27 96.71,89.75 96.83,88.10 96.96,87.17 97.08,86.76 97.21,86.64 97.33,86.62 97.45,86.62 97.58,86.66 97.70,86.85 97.83,87.39 97.95,88.48 98.07,90.30 98.20,92.93 98.32,96.30 98.45,100.22 98.57,104.36 98.70,108.31 98.82,111.65 98.94,113.97 99.07,115.01 99.19,114.63 99.32,112.89 99.44,110.00 99.56,106.31 99.69,102.23 99.81,98.19 99.94,94.55 100.06,91.57 100.18,89.36 100.31,87.91 100.43,87.10 100.56,86.74 100.68,86.64 100.80,86.62 100.93,86.62 101.05,86.65 101.18,86.82 101.30,87.28 101.42,88.23 101.55,89.80 101.67,92.05 101.80,94.95 101.92,98.30 102.04,101.84 102.17,105.21 102.29,108.04 102.42,110.00 102.54,110.85 102.66,110.49 102.79,108.97 102.91,106.49 103.04,103.33 103.16,99.85 103.28,96.41 103.41,93.32 103.53,90.79 103.66,88.93 103.78,87.71 103.90,87.02 104.03,86.72 104.15,86.63 104.28,86.62 104.40,86.62 104.52,86.65 104.65,86.79 104.77,87.17 104.90,87.95 105.02,89.25 105.14,91.10 105.27,93.48 105.39,96.23 105.52,99.11 105.64,101.85 105.77,104.13 105.89,105.69 106.01,106.35 106.14,106.02 106.26,104.75 106.39,102.70 106.51,100.11 106.63,97.28 106.76,94.49 106.88,92.00 107.01,89.96 107.13,88.46 107.25,87.49 107.38,86.94 107.50,86.70 107.63,86.63 107.75,86.62 107.87,86.62 108.00,86.64 108.12,86.75 108.25,87.05 108.37,87.66 108.49,88.66 108.62,90.09 108.74,91.92 108.87,94.01 108.99,96.21 109.11,98.27 109.24,99.97 109.36,101.12 109.49,101.57 109.61,101.27 109.73,100.26 109.86,98.68 109.98,96.70 110.11,94.55 110.23,92.46 110.35,90.59 110.48,89.08 110.60,87.97 110.73,87.25 110.85,86.85 110.97,86.68 111.10,86.63 111.22,86.62 111.35,86.62 111.47,86.64 111.59,86.71 111.72,86.92 111.84,87.35 111.97,88.04 112.09,89.03 112.21,90.27 112.34,91.69 112.46,93.15 112.59,94.51 112.71,95.61 112.83,96.32 112.96,96.55 113.08,96.29 113.21,95.56 113.33,94.47 113.46,93.13 113.58,91.71 113.70,90.33 113.83,89.13 113.95,88.12 114.08,87.31 114.20,86.70 114.32,86.25 114.45,85.91 114.57,85.64 114.70,85.40 114.82,85.18 114.94,85.00 115.07,84.85 115.19,84.71 115.32,84.53 115.44,84.29 115.56,83.97 115.69,83.57 115.81,83.10 115.94,82.57 116.06,82.03 116.18,81.52 116.31,81.08 116.43,80.76 116.56,80.59 116.68,80.58 116.80,80.73 116.93,81.01 117.05,81.38 117.18,81.79 117.30,82.19 117.42,82.53 117.55,82.78 117.67,82.94 117.80,83.00 117.92,83.00 118.04,82.96 118.17,82.90 118.29,82.85 118.42,82.78 118.54,82.69 118.66,82.54 118.79,82.26 118.91,81.83 119.04,81.22 119.16,80.41 119.28,79.44 119.41,78.37 119.53,77.29 119.66,76.31 119.78,75.53 119.90,75.05 120.03,74.92 120.15,75.15 120.28,75.71 120.40,76.53 120.53,77.51 120.65,78.53 120.77,79.49 120.90,80.30 121.02,80.91 121.15,81.31 121.27,81.52 121.39,81.60 121.52,81.59 121.64,81.55 121.77,81.50 121.89,81.45 122.01,81.34 122.14,81.12 122.26,80.70 122.39,80.02 122.51,79.03 122.63,77.74 122.76,76.20 122.88,74.53 123.01,72.87 123.13,71.40 123.25,70.28 123.38,69.64 123.50,69.56 123.63,70.05 123.75,71.04 123.87,72.41 124.00,74.01 124.12,75.64 124.25,77.15 124.37,78.41 124.49,79.36 124.62,79.98 124.74,80.32 124.87,80.46 124.99,80.47 125.11,80.44 125.24,80.41 125.36,80.36 125.49,80.24 125.61,79.95 125.73,79.41 125.86,78.50 125.98,77.19 126.11,75.48 126.23,73.45 126.35,71.26 126.48,69.11 126.60,67.21 126.73,65.79 126.85,65.01 126.97,64.97 127.10,65.67 127.22,67.03 127.35,68.87 127.47,70.99 127.60,73.15 127.72,75.14 127.84,76.81 127.97,78.06 128.09,78.88 128.22,79.34 128.34,79.53 128.46,79.56 128.59,79.54 128.71,79.51 128.84,79.46 128.96,79.32 129.08,78.98 129.21,78.29 129.33,77.15 129.46,75.50 129.58,73.34 129.70,70.79 129.83,68.03 129.95,65.32 130.08,62.95 130.20,61.19 130.32,60.24 130.45,60.22 130.57,61.14 130.70,62.88 130.82,65.22 130.94,67.91 131.07,70.64 131.19,73.15 131.32,75.25 131.44,76.83 131.56,77.87 131.69,78.45 131.81,78.70 131.94,78.75 132.06,78.73 132.18,78.70 132.31,78.65 132.43,78.48 132.56,78.06 132.68,77.22 132.80,75.82 132.93,73.78 133.05,71.13 133.18,67.99 133.30,64.62 133.42,61.32 133.55,58.45 133.67,56.34 133.80,55.24 133.92,55.28 134.04,56.46 134.17,58.63 134.29,61.53 134.42,64.82 134.54,68.16 134.67,71.21 134.79,73.75 134.91,75.65 135.04,76.90 135.16,77.60 135.29,77.90 135.41,77.97 135.53,77.95 135.66,77.93 135.78,77.87 135.91,77.69 136.03,77.20 136.15,76.24 136.28,74.64 136.40,72.31 136.53,69.29 136.65,65.73 136.77,61.92 136.90,58.20 137.02,54.98 137.15,52.62 137.27,51.42 137.39,51.50 137.52,52.88 137.64,55.36 137.77,58.66 137.89,62.40 138.01,66.17 138.14,69.62 138.26,72.48 138.39,74.63 138.51,76.04 138.63,76.83 138.76,77.17 138.88,77.25 139.01,77.24 139.13,77.22 139.25,77.16 139.38,76.96 139.50,76.42 139.63,75.35 139.75,73.57 139.87,70.98 140.00,67.61 140.12,63.65 140.25,59.41 140.37,55.28 140.49,51.71 140.62,49.11 140.74,47.78 140.87,47.90 140.99,49.44 141.11,52.22 141.24,55.90 141.36,60.06 141.49,64.26 141.61,68.09 141.74,71.27 141.86,73.65 141.98,75.22 142.11,76.09 142.23,76.47 142.36,76.57 142.48,76.56 142.60,76.53 142.73,76.47 142.85,76.25 142.98,75.67 143.10,74.49 143.22,72.53 143.35,69.67 143.47,65.98 143.60,61.63 143.72,56.98 143.84,52.46 143.97,48.56 144.09,45.73 144.22,44.30 144.34,44.46 144.46,46.19 144.59,49.26 144.71,53.30 144.84,57.86 144.96,62.45 145.08,66.64 145.21,70.11 145.33,72.69 145.46,74.40 145.58,75.35 145.70,75.76 145.83,75.87 145.95,75.86 146.08,75.83 146.20,75.76 146.32,75.53 146.45,74.90 146.57,73.64 146.70,71.54 146.82,68.50 146.94,64.56 147.07,59.94 147.19,54.99 147.32,50.20 147.44,46.08 147.56,43.10 147.69,41.61 147.81,41.81 147.94,43.66 148.06,46.93 148.18,51.24 148.31,56.08 148.43,60.94 148.56,65.38 148.68,69.05 148.81,71.78 148.93,73.58 149.05,74.59 149.18,75.03 149.30,75.14 149.43,75.13 149.55,75.11 149.67,75.04 149.80,74.79 149.92,74.14 150.05,72.82 150.17,70.62 150.29,67.43 150.42,63.31 150.54,58.47 150.67,53.30 150.79,48.30 150.91,44.00 151.04,40.90 151.16,39.37 151.29,39.59 151.41,41.54 151.53,44.98 151.66,49.49 151.78,54.56 151.91,59.65 152.03,64.28 152.15,68.11 152.28,70.97 152.40,72.86 152.53,73.91 152.65,74.37 152.77,74.49 152.90,74.49 153.02,74.47 153.15,74.41 153.27,74.16 153.39,73.48 153.52,72.12 153.64,69.84 153.77,66.54 153.89,62.28 154.01,57.27 154.14,51.93 154.26,46.76 154.39,42.33 154.51,39.15 154.63,37.60 154.76,37.86 154.88,39.91 155.01,43.48 155.13,48.17 155.25,53.41 155.38,58.68 155.50,63.46 155.63,67.42 155.75,70.37 155.88,72.32 156.00,73.41 156.12,73.88 156.25,74.02 156.37,74.02 156.50,74.00 156.62,73.95 156.74,73.70 156.87,73.01 156.99,71.62 157.12,69.31 157.24,65.95 157.36,61.61 157.49,56.53 157.61,51.10 157.74,45.87 157.86,41.38 157.98,38.16 158.11,36.60 158.23,36.89 158.36,38.98 158.48,42.63 158.60,47.39 158.73,52.72 158.85,58.07 158.98,62.92 159.10,66.94 159.22,69.93 159.35,71.90 159.47,73.00 159.60,73.49 159.72,73.63 159.84,73.63 159.97,73.62 160.09,73.56 160.22,73.31 160.34,72.62 160.46,71.23 160.59,68.89 160.71,65.52 160.84,61.15 160.96,56.03 161.08,50.58 161.21,45.31 161.33,40.81 161.46,37.58 161.58,36.03 161.70,36.33 161.83,38.46 161.95,42.14 162.08,46.95 162.20,52.32 162.32,57.69 162.45,62.57 162.57,66.60 162.70,69.60 162.82,71.58 162.95,72.68 163.07,73.17 163.19,73.31 163.32,73.32 163.44,73.31 163.57,73.26 163.69,73.01 163.81,72.33 163.94,70.95 164.06,68.65 164.19,65.32 164.31,61.02 164.43,55.99 164.56,50.64 164.68,45.48 164.81,41.08 164.93,37.95 165.05,36.46 165.18,36.79 165.30,38.91 165.43,42.54 165.55,47.27 165.67,52.54 165.80,57.80 165.92,62.58 166.05,66.52 166.17,69.45 166.29,71.38 166.42,72.46 166.54,72.93 166.67,73.07 166.79,73.08 166.91,73.07 167.04,73.02 167.16,72.78 167.29,72.13 167.41,70.79 167.53,68.57 167.66,65.35 167.78,61.20 167.91,56.35 168.03,51.19 168.15,46.23 168.28,42.01 168.40,39.01 168.53,37.59 168.65,37.93 168.77,39.98 168.90,43.50 169.02,48.05 169.15,53.12 169.27,58.19 169.39,62.78 169.52,66.56 169.64,69.37 169.77,71.23 169.89,72.26 170.02,72.72 170.14,72.85 170.26,72.86 170.39,72.85 170.51,72.81 170.64,72.58 170.76,71.95 170.88,70.68 171.01,68.55 171.13,65.47 171.26,61.51 171.38,56.87 171.50,51.95 171.63,47.22 171.75,43.20 171.88,40.35 172.00,39.01 172.12,39.35 172.25,41.33 172.37,44.70 172.50,49.05 172.62,53.89 172.74,58.73 172.87,63.10 172.99,66.70 173.12,69.38 173.24,71.14 173.36,72.13 173.49,72.56 173.61,72.69 173.74,72.70 173.86,72.70 173.98,72.66 174.11,72.45 174.23,71.86 174.36,70.66 174.48,68.66 174.60,65.78 174.73,62.06 174.85,57.72 174.98,53.11 175.10,48.70 175.22,44.94 175.35,42.29 175.47,41.06 175.60,41.40 175.72,43.27 175.84,46.43 175.97,50.51 176.09,55.05 176.22,59.57 176.34,63.67 176.46,67.04 176.59,69.54 176.71,71.19 176.84,72.11 176.96,72.53 177.09,72.65 177.21,72.66 177.33,72.66 177.46,72.63 177.58,72.44 177.71,71.89 177.83,70.78 177.95,68.92 178.08,66.24 178.20,62.78 178.33,58.74 178.45,54.46 178.57,50.35 178.70,46.87 178.82,44.42 178.95,43.29 179.07,43.62 179.19,45.38 179.32,48.33 179.44,52.14 179.57,56.36 179.69,60.57 179.81,64.37 179.94,67.49 180.06,69.82 180.19,71.34 180.31,72.20 180.43,72.58 180.56,72.70 180.68,72.72 180.81,72.72 180.93,72.69 181.05,72.51 181.18,72.02 181.30,71.00 181.43,69.30 181.55,66.85 181.67,63.70 181.80,60.02 181.92,56.13 182.05,52.41 182.17,49.26 182.29,47.05 182.42,46.05 182.54,46.38 182.67,48.00 182.79,50.70 182.91,54.16 183.04,58.00 183.16,61.82 183.29,65.26 183.41,68.09 183.53,70.19 183.66,71.57 183.78,72.34 183.91,72.69 184.03,72.80 184.16,72.81 184.28,72.81 184.40,72.79 184.53,72.64 184.65,72.19 184.78,71.28 184.90,69.77 185.02,67.59 185.15,64.78 185.27,61.52 185.40,58.07 185.52,54.78 185.64,52.00 185.77,50.07 185.89,49.21 186.02,49.53 186.14,50.99 186.26,53.40 186.39,56.48 186.51,59.89 186.64,63.26 186.76,66.30 186.88,68.79 187.01,70.63 187.13,71.84 187.26,72.52 187.38,72.82 187.50,72.91 187.63,72.93 187.75,72.93 187.88,72.91 188.00,72.78 188.12,72.40 188.25,71.62 188.37,70.33 188.50,68.47 188.62,66.08 188.74,63.31 188.87,60.39 188.99,57.62 189.12,55.29 189.24,53.68 189.36,52.99 189.49,53.29 189.61,54.55 189.74,56.61 189.86,59.23 189.98,62.11 190.11,64.95 190.23,67.51 190.36,69.61 190.48,71.15 190.60,72.17 190.73,72.74 190.85,73.00 190.98,73.08 191.10,73.09 191.23,73.10 191.35,73.09 191.47,72.98 191.60,72.67 191.72,72.03 191.85,70.96 191.97,69.43 192.09,67.47 192.22,65.20 192.34,62.81 192.47,60.55 192.59,58.67 192.71,57.38 192.84,56.85 192.96,57.13 193.09,58.20 193.21,59.91 193.33,62.07 193.46,64.42 193.58,66.74 193.71,68.82 193.83,70.51 193.95,71.76 194.08,72.57 194.20,73.03 194.33,73.24 194.45,73.30 194.57,73.32 194.70,73.33 194.82,73.32 194.95,73.24 195.07,73.00 195.19,72.52 195.32,71.71 195.44,70.55 195.57,69.08 195.69,67.39 195.81,65.63 195.94,63.98 196.06,62.63 196.19,61.73 196.31,61.39 196.43,61.66 196.56,62.49 196.68,63.79 196.81,65.40 196.93,67.14 197.05,68.84 197.18,70.34 197.30,71.56 197.43,72.45 197.55,73.04 197.67,73.36 197.80,73.51 197.92,73.56 198.05,73.57 198.17,73.58 198.30,73.58 198.42,73.53 198.54,73.37 198.67,73.05 198.79,72.52 198.92,71.78 199.04,70.84 199.16,69.77 199.29,68.68 199.41,67.69 199.54,66.90 199.66,66.41 199.78,66.30 199.91,66.57 200.03,67.18 200.16,68.05 200.28,69.08 200.40,70.16 200.53,71.17 200.65,72.03 200.78,72.71 200.90,73.19 201.02,73.50 201.15,73.66 201.27,73.74 201.40,73.77 201.52,73.78 201.64,73.79 201.77,73.80 201.89,73.78 202.02,73.74 202.14,73.64 202.26,73.47 202.39,73.24 202.51,72.97 202.64,72.66 202.76,72.36 202.88,72.08 203.01,71.88 203.13,71.77 203.26,71.78 203.38,71.90 203.50,72.11 203.63,72.40 203.75,72.73 203.88,73.12 204.00,73.56 204.12,74.03 204.25,74.49 204.37,74.93 204.50,75.80 204.62,75.88 204.74,76.07 204.87,76.31 204.99,76.53 205.12,76.69 205.24,76.79 205.37,76.92 205.49,77.16 205.61,77.60 205.74,78.29 205.86,79.30 205.99,80.61 206.11,82.18 206.23,83.90 206.36,85.61 206.48,87.15 206.61,88.35 206.73,89.06 206.85,89.21 206.98,88.77 207.10,87.81 207.23,86.44 207.35,84.84 207.47,83.18 207.60,81.63 207.72,80.33 207.85,79.35 207.97,78.71 208.09,78.36 208.22,78.23 208.34,78.22 208.47,78.26 208.59,78.31 208.71,78.37 208.84,78.51 208.96,78.83 209.09,79.43 209.21,80.43 209.33,81.88 209.46,83.78 209.58,86.03 209.71,88.47 209.83,90.89 209.95,93.02 210.08,94.63 210.20,95.52 210.33,95.60 210.45,94.84 210.57,93.35 210.70,91.31 210.82,88.95 210.95,86.53 211.07,84.30 211.19,82.43 211.32,81.03 211.44,80.10 211.57,79.58 211.69,79.37 211.81,79.32 211.94,79.35 212.06,79.38 212.19,79.43 212.31,79.58 212.43,79.97 212.56,80.75 212.68,82.04 212.81,83.92 212.93,86.37 213.06,89.27 213.18,92.40 213.30,95.48 213.43,98.18 213.55,100.18 213.68,101.25 213.80,101.27 213.92,100.21 214.05,98.22 214.17,95.54 214.30,92.47 214.42,89.35 214.54,86.47 214.67,84.08 214.79,82.28 214.92,81.08 215.04,80.41 215.16,80.12 215.29,80.05 215.41,80.06 215.54,80.08 215.66,80.13 215.78,80.31 215.91,80.77 216.03,81.71 216.16,83.27 216.28,85.55 216.40,88.53 216.53,92.04 216.65,95.83 216.78,99.53 216.90,102.75 217.02,105.13 217.15,106.37 217.27,106.32 217.40,104.99 217.52,102.54 217.64,99.27 217.77,95.54 217.89,91.77 218.02,88.31 218.14,85.43 218.26,83.26 218.39,81.83 218.51,81.02 218.64,80.67 218.76,80.58 218.88,80.58 219.01,80.60 219.13,80.65 219.26,80.85 219.38,81.39 219.50,82.48 219.63,84.30 219.75,86.96 219.88,90.42 220.00,94.51 220.13,98.89 220.25,103.17 220.37,106.88 220.50,109.60 220.62,111.00 220.75,110.90 220.87,109.32 220.99,106.45 221.12,102.64 221.24,98.32 221.37,93.96 221.49,89.97 221.61,86.64 221.74,84.16 221.86,82.51 221.99,81.59 222.11,81.18 222.23,81.08 222.36,81.08 222.48,81.10 222.61,81.16 222.73,81.38 222.85,81.99 222.98,83.23 223.10,85.30 223.23,88.30 223.35,92.21 223.47,96.81 223.60,101.74 223.72,106.54 223.85,110.70 223.97,113.73 224.09,115.27 224.22,115.13 224.34,113.34 224.47,110.10 224.59,105.81 224.71,100.96 224.84,96.07 224.96,91.61 225.09,87.90 225.21,85.13 225.33,83.30 225.46,82.27 225.58,81.83 225.71,81.72 225.83,81.73 225.95,81.76 226.08,81.82 226.20,82.08 226.33,82.76 226.45,84.13 226.57,86.41 226.70,89.73 226.82,94.03 226.95,99.09 227.07,104.51 227.20,109.77 227.32,114.32 227.44,117.62 227.57,119.28 227.69,119.11 227.82,117.11 227.94,113.54 228.06,108.83 228.19,103.52 228.31,98.16 228.44,93.28 228.56,89.23 228.68,86.20 228.81,84.20 228.93,83.09 229.06,82.60 229.18,82.48 229.30,82.48 229.43,82.51 229.55,82.58 229.68,82.86 229.80,83.59 229.92,85.07 230.05,87.54 230.17,91.11 230.30,95.75 230.42,101.20 230.54,107.03 230.67,112.68 230.79,117.56 230.92,121.09 231.04,122.85 231.16,122.64 231.29,120.46 231.41,116.61 231.54,111.53 231.66,105.81 231.78,100.05 231.91,94.81 232.03,90.46 232.16,87.21 232.28,85.07 232.40,83.88 232.53,83.36 232.65,83.22 232.78,83.22 232.90,83.25 233.02,83.33 233.15,83.62 233.27,84.39 233.40,85.96 233.52,88.58 233.64,92.38 233.77,97.29 233.89,103.07 234.02,109.24 234.14,115.22 234.27,120.37 234.39,124.09 234.51,125.93 234.64,125.68 234.76,123.36 234.89,119.26 235.01,113.87 235.13,107.81 235.26,101.72 235.38,96.18 235.51,91.59 235.63,88.16 235.75,85.90 235.88,84.64 236.00,84.09 236.13,83.94 236.25,83.95 236.37,83.97 236.50,84.05 236.62,84.35 236.75,85.17 236.87,86.81 236.99,89.55 237.12,93.52 237.24,98.66 237.37,104.70 237.49,111.14 237.61,117.38 237.74,122.74 237.86,126.61 237.99,128.51 238.11,128.22 238.23,125.78 238.36,121.49 238.48,115.85 238.61,109.52 238.73,103.17 238.85,97.39 238.98,92.61 239.10,89.04 239.23,86.69 239.35,85.37 239.47,84.80 239.60,84.65 239.72,84.65 239.85,84.67 239.97,84.75 240.09,85.06 240.22,85.90 240.34,87.60 240.47,90.44 240.59,94.54 240.71,99.85 240.84,106.08 240.96,112.73 241.09,119.16 241.21,124.68 241.34,128.65 241.46,130.59 241.58,130.27 241.71,127.74 241.83,123.29 241.96,117.47 242.08,110.95 242.20,104.40 242.33,98.44 242.45,93.52 242.58,89.85 242.70,87.43 242.82,86.08 242.95,85.49 243.07,85.33 243.20,85.33 243.32,85.36 243.44,85.43 243.57,85.75 243.69,86.61 243.82,88.35 243.94,91.25 244.06,95.44 244.19,100.86 244.31,107.22 244.44,114.00 244.56,120.55 244.68,126.17 244.81,130.20 244.93,132.16 245.06,131.82 245.18,129.22 245.30,124.67 245.43,118.73 245.55,112.07 245.68,105.40 245.80,99.34 245.92,94.32 246.05,90.59 246.17,88.13 246.30,86.76 246.42,86.15 246.54,85.99 246.67,85.99 246.79,86.02 246.92,86.09 247.04,86.41 247.16,87.28 247.29,89.04 247.41,91.97 247.54,96.21 247.66,101.69 247.78,108.11 247.91,114.95 248.03,121.55 248.16,127.21 248.28,131.26 248.41,133.23 248.53,132.86 248.65,130.22 248.78,125.62 248.90,119.62 249.03,112.90 249.15,106.18 249.27,100.06 249.40,95.02 249.52,91.26 249.65,88.78"/><polyline class="ln" stroke="#0000ff" points="68.55,106.13 68.68,100.07 68.80,95.05 68.93,91.31 69.05,88.84 69.17,87.45 69.30,86.83 69.42,86.65 69.55,86.62 69.67,86.62 69.79,86.68 69.92,86.97 70.04,87.81 70.17,89.53 70.29,92.40 70.42,96.57 70.54,101.96 70.66,108.28 70.79,115.01 70.91,121.50 71.04,127.04 71.16,131.00 71.28,132.90 71.41,132.50 71.53,129.85 71.66,125.28 71.78,119.33 71.90,112.68 72.03,106.03 72.15,99.99 72.28,95.00 72.40,91.28 72.52,88.83 72.65,87.45 72.77,86.83 72.90,86.65 73.02,86.62 73.14,86.62 73.27,86.68 73.39,86.97 73.52,87.80 73.64,89.50 73.76,92.34 73.89,96.47 74.01,101.79 74.14,108.03 74.26,114.67 74.38,121.07 74.51,126.54 74.63,130.43 74.76,132.29 74.88,131.87 75.00,129.25 75.13,124.72 75.25,118.85 75.38,112.29 75.50,105.73 75.62,99.78 75.75,94.86 75.87,91.20 76.00,88.79 76.12,87.43 76.24,86.83 76.37,86.65 76.49,86.62 76.62,86.62 76.74,86.68 76.86,86.96 76.99,87.78 77.11,89.44 77.24,92.23 77.36,96.26 77.49,101.47 77.61,107.56 77.73,114.05 77.86,120.29 77.98,125.62 78.11,129.40 78.23,131.20 78.35,130.78 78.48,128.20 78.60,123.77 78.73,118.03 78.85,111.63 78.97,105.23 79.10,99.43 79.22,94.64 79.35,91.08 79.47,88.73 79.59,87.41 79.72,86.82 79.84,86.64 79.97,86.62 80.09,86.62 80.21,86.68 80.34,86.95 80.46,87.74 80.59,89.35 80.71,92.05 80.83,95.95 80.96,100.98 81.08,106.87 81.21,113.13 81.33,119.15 81.45,124.28 81.58,127.92 81.70,129.63 81.83,129.21 81.95,126.70 82.07,122.42 82.20,116.88 82.32,110.70 82.45,104.53 82.57,98.94 82.69,94.33 82.82,90.91 82.94,88.65 83.07,87.38 83.19,86.81 83.31,86.64 83.44,86.62 83.56,86.62 83.69,86.67 83.81,86.94 83.93,87.69 84.06,89.24 84.18,91.81 84.31,95.54 84.43,100.34 84.56,105.96 84.68,111.93 84.80,117.66 84.93,122.54 85.05,125.99 85.18,127.60 85.30,127.18 85.42,124.77 85.55,120.68 85.67,115.39 85.80,109.51 85.92,103.64 86.04,98.32 86.17,93.94 86.29,90.69 86.42,88.54 86.54,87.34 86.66,86.80 86.79,86.64 86.91,86.62 87.04,86.62 87.16,86.67 87.28,86.92 87.41,87.63 87.53,89.09 87.66,91.52 87.78,95.03 87.90,99.55 88.03,104.83 88.15,110.44 88.28,115.82 88.40,120.39 88.52,123.61 88.65,125.11 88.77,124.69 88.90,122.41 89.02,118.56 89.14,113.58 89.27,108.05 89.39,102.55 89.52,97.57 89.64,93.47 89.76,90.42 89.89,88.41 90.01,87.29 90.14,86.79 90.26,86.64 90.38,86.62 90.51,86.62 90.63,86.67 90.76,86.90 90.88,87.56 91.00,88.91 91.13,91.17 91.25,94.42 91.38,98.61 91.50,103.49 91.63,108.67 91.75,113.64 91.87,117.85 92.00,120.81 92.12,122.17 92.25,121.76 92.37,119.63 92.49,116.06 92.62,111.45 92.74,106.35 92.87,101.27 92.99,96.68 93.11,92.91 93.24,90.11 93.36,88.27 93.49,87.24 93.61,86.78 93.73,86.64 93.86,86.62 93.98,86.62 94.11,86.66 94.23,86.88 94.35,87.48 94.48,88.71 94.60,90.76 94.73,93.72 94.85,97.52 94.97,101.95 95.10,106.64 95.22,111.13 95.35,114.93 95.47,117.59 95.59,118.79 95.72,118.39 95.84,116.45 95.97,113.20 96.09,109.02 96.21,104.40 96.34,99.82 96.46,95.67 96.59,92.27 96.71,89.75 96.83,88.10 96.96,87.17 97.08,86.76 97.21,86.64 97.33,86.62 97.45,86.62 97.58,86.66 97.70,86.85 97.83,87.39 97.95,88.48 98.07,90.30 98.20,92.93 98.32,96.30 98.45,100.22 98.57,104.36 98.70,108.31 98.82,111.65 98.94,113.97 99.07,115.01 99.19,114.63 99.32,112.89 99.44,110.00 99.56,106.31 99.69,102.23 99.81,98.19 99.94,94.55 100.06,91.57 100.18,89.36 100.31,87.91 100.43,87.10 100.56,86.74 100.68,86.64 100.80,86.62 100.93,86.62 101.05,86.65 101.18,86.82 101.30,87.28 101.42,88.23 101.55,89.80 101.67,92.05 101.80,94.95 101.92,98.30 102.04,101.84 102.17,105.21 102.29,108.04 102.42,110.00 102.54,110.85 102.66,110.49 102.79,108.97 102.91,106.49 103.04,103.33 103.16,99.85 103.28,96.41 103.41,93.32 103.53,90.79 103.66,88.93 103.78,87.71 103.90,87.02 104.03,86.72 104.15,86.63 104.28,86.62 104.40,86.62 104.52,86.65 104.65,86.79 104.77,87.17 104.90,87.95 105.02,89.25 105.14,91.10 105.27,93.48 105.39,96.23 105.52,99.11 105.64,101.85 105.77,104.13 105.89,105.69 106.01,106.35 106.14,106.02 106.26,104.75 106.39,102.70 106.51,100.11 106.63,97.28 106.76,94.49 106.88,92.00 107.01,89.96 107.13,88.46 107.25,87.49 107.38,86.94 107.50,86.70 107.63,86.63 107.75,86.62 107.87,86.62 108.00,86.64 108.12,86.75 108.25,87.05 108.37,87.66 108.49,88.66 108.62,90.09 108.74,91.92 108.87,94.01 108.99,96.21 109.11,98.27 109.24,99.97 109.36,101.12 109.49,101.57 109.61,101.27 109.73,100.26 109.86,98.68 109.98,96.70 110.11,94.55 110.23,92.46 110.35,90.59 110.48,89.08 110.60,87.97 110.73,87.25 110.85,86.85 110.97,86.68 111.10,86.63 111.22,86.62 111.35,86.62 111.47,86.64 111.59,86.71 111.72,86.92 111.84,87.35 111.97,88.04 112.09,89.03 112.21,90.27 112.34,91.69 112.46,93.15 112.59,94.51 112.71,95.61 112.83,96.32 112.96,96.55 113.08,96.29 113.21,95.56 113.33,94.47 113.46,93.13 113.58,91.71 113.70,90.33 113.83,89.13 113.95,88.12 114.08,87.31 114.20,86.70 114.32,86.25 114.45,85.91 114.57,85.64 114.70,85.40 114.82,85.18 114.94,85.00 115.07,84.85 115.19,84.71 115.32,84.53 115.44,84.29 115.56,83.97 115.69,83.57 115.81,83.10 115.94,82.57 116.06,82.03 116.18,81.52 116.31,81.08 116.43,80.76 116.56,80.59 116.68,80.58 116.80,80.73 116.93,81.01 117.05,81.38 117.18,81.79 117.30,82.19 117.42,82.53 117.55,82.78 117.67,82.94 117.80,83.00 117.92,83.00 118.04,82.96 118.17,82.90 118.29,82.85 118.42,82.78 118.54,82.69 118.66,82.54 118.79,82.26 118.91,81.83 119.04,81.22 119.16,80.41 119.28,79.44 119.41,78.37 119.53,77.29 119.66,76.31 119.78,75.53 119.90,75.05 120.03,74.92 120.15,75.15 120.28,75.71 120.40,76.53 120.53,77.51 120.65,78.53 120.77,79.49 120.90,80.30 121.02,80.91 121.15,81.31 121.27,81.52 121.39,81.60 121.52,81.59 121.64,81.55 121.77,81.50 121.89,81.45 122.01,81.34 122.14,81.12 122.26,80.70 122.39,80.02 122.51,79.03 122.63,77.74 122.76,76.20 122.88,74.53 123.01,72.87 123.13,71.40 123.25,70.28 123.38,69.64 123.50,69.56 123.63,70.05 123.75,71.04 123.87,72.41 124.00,74.01 124.12,75.64 124.25,77.15 124.37,78.41 124.49,79.36 124.62,79.98 124.74,80.32 124.87,80.46 124.99,80.47 125.11,80.44 125.24,80.41 125.36,80.36 125.49,80.24 125.61,79.95 125.73,79.41 125.86,78.50 125.98,77.19 126.11,75.48 126.23,73.45 126.35,71.26 126.48,69.11 126.60,67.21 126.73,65.79 126.85,65.01 126.97,64.97 127.10,65.67 127.22,67.03 127.35,68.87 127.47,70.99 127.60,73.15 127.72,75.14 127.84,76.81 127.97,78.06 128.09,78.88 128.22,79.34 128.34,79.53 128.46,79.56 128.59,79.54 128.71,79.51 128.84,79.46 128.96,79.32 129.08,78.98 129.21,78.29 129.33,77.15 129.46,75.50 129.58,73.34 129.70,70.79 129.83,68.03 129.95,65.32 130.08,62.95 130.20,61.19 130.32,60.24 130.45,60.22 130.57,61.14 130.70,62.88 130.82,65.22 130.94,67.91 131.07,70.64 131.19,73.15 131.32,75.25 131.44,76.83 131.56,77.87 131.69,78.45 131.81,78.70 131.94,78.75 132.06,78.73 132.18,78.70 132.31,78.65 132.43,78.48 132.56,78.06 132.68,77.22 132.80,75.82 132.93,73.78 133.05,71.13 133.18,67.99 133.30,64.62 133.42,61.32 133.55,58.45 133.67,56.34 133.80,55.24 133.92,55.28 134.04,56.46 134.17,58.63 134.29,61.53 134.42,64.82 134.54,68.16 134.67,71.21 134.79,73.75 134.91,75.65 135.04,76.90 135.16,77.60 135.29,77.90 135.41,77.97 135.53,77.95 135.66,77.93 135.78,77.87 135.91,77.69 136.03,77.20 136.15,76.24 136.28,74.64 136.40,72.31 136.53,69.29 136.65,65.73 136.77,61.92 136.90,58.20 137.02,54.98 137.15,52.62 137.27,51.42 137.39,51.50 137.52,52.88 137.64,55.36 137.77,58.66 137.89,62.40 138.01,66.17 138.14,69.62 138.26,72.48 138.39,74.63 138.51,76.04 138.63,76.83 138.76,77.17 138.88,77.25 139.01,77.24 139.13,77.22 139.25,77.16 139.38,76.96 139.50,76.42 139.63,75.35 139.75,73.57 139.87,70.98 140.00,67.61 140.12,63.65 140.25,59.41 140.37,55.28 140.49,51.71 140.62,49.11 140.74,47.78 140.87,47.90 140.99,49.44 141.11,52.22 141.24,55.90 141.36,60.06 141.49,64.26 141.61,68.09 141.74,71.27 141.86,73.65 141.98,75.22 142.11,76.09 142.23,76.47 142.36,76.57 142.48,76.56 142.60,76.53 142.73,76.47 142.85,76.25 142.98,75.67 143.10,74.49 143.22,72.53 143.35,69.67 143.47,65.98 143.60,61.63 143.72,56.98 143.84,52.46 143.97,48.56 144.09,45.73 144.22,44.30 144.34,44.46 144.46,46.19 144.59,49.26 144.71,53.30 144.84,57.86 144.96,62.45 145.08,66.64 145.21,70.11 145.33,72.69 145.46,74.40 145.58,75.35 145.70,75.76 145.83,75.87 145.95,75.86 146.08,75.83 146.20,75.76 146.32,75.53 146.45,74.90 146.57,73.64 146.70,71.54 146.82,68.50 146.94,64.56 147.07,59.94 147.19,54.99 147.32,50.20 147.44,46.08 147.56,43.10 147.69,41.61 147.81,41.81 147.94,43.66 148.06,46.93 148.18,51.24 148.31,56.08 148.43,60.94 148.56,65.38 148.68,69.05 148.81,71.78 148.93,73.58 149.05,74.59 149.18,75.03 149.30,75.14 149.43,75.13 149.55,75.11 149.67,75.04 149.80,74.79 149.92,74.14 150.05,72.82 150.17,70.62 150.29,67.43 150.42,63.31 150.54,58.47 150.67,53.30 150.79,48.30 150.91,44.00 151.04,40.90 151.16,39.37 151.29,39.59 151.41,41.54 151.53,44.98 151.66,49.49 151.78,54.56 151.91,59.65 152.03,64.28 152.15,68.11 152.28,70.97 152.40,72.86 152.53,73.91 152.65,74.37 152.77,74.49 152.90,74.49 153.02,74.47 153.15,74.41 153.27,74.16 153.39,73.48 153.52,72.12 153.64,69.84 153.77,66.54 153.89,62.28 154.01,57.27 154.14,51.93 154.26,46.76 154.39,42.33 154.51,39.15 154.63,37.60 154.76,37.86 154.88,39.91 155.01,43.48 155.13,48.17 155.25,53.41 155.38,58.68 155.50,63.46 155.63,67.42 155.75,70.37 155.88,72.32 156.00,73.41 156.12,73.88 156.25,74.02 156.37,74.02 156.50,74.00 156.62,73.95 156.74,73.70 156.87,73.01 156.99,71.62 157.12,69.31 157.24,65.95 157.36,61.61 157.49,56.53 157.61,51.10 157.74,45.87 157.86,41.38 157.98,38.16 158.11,36.60 158.23,36.89 158.36,38.98 158.48,42.63 158.60,47.39 158.73,52.72 158.85,58.07 158.98,62.92 159.10,66.94 159.22,69.93 159.35,71.90 159.47,73.00 159.60,73.49 159.72,73.63 159.84,73.63 159.97,73.62 160.09,73.56 160.22,73.31 160.34,72.62 160.46,71.23 160.59,68.89 160.71,65.52 160.84,61.15 160.96,56.03 161.08,50.58 161.21,45.31 161.33,40.81 161.46,37.58 161.58,36.03 161.70,36.33 161.83,38.46 161.95,42.14 162.08,46.95 162.20,52.32 162.32,57.69 162.45,62.57 162.57,66.60 162.70,69.60 162.82,71.58 162.95,72.68 163.07,73.17 163.19,73.31 163.32,73.32 163.44,73.31 163.57,73.26 163.69,73.01 163.81,72.33 163.94,70.95 164.06,68.65 164.19,65.32 164.31,61.02 164.43,55.99 164.56,50.64 164.68,45.48 164.81,41.08 164.93,37.95 165.05,36.46 165.18,36.79 165.30,38.91 165.43,42.54 165.55,47.27 165.67,52.54 165.80,57.80 165.92,62.58 166.05,66.52 166.17,69.45 166.29,71.38 166.42,72.46 166.54,72.93 166.67,73.07 166.79,73.08 166.91,73.07 167.04,73.02 167.16,72.78 167.29,72.13 167.41,70.79 167.53,68.57 167.66,65.35 167.78,61.20 167.91,56.35 168.03,51.19 168.15,46.23 168.28,42.01 168.40,39.01 168.53,37.59 168.65,37.93 168.77,39.98 168.90,43.50 169.02,48.05 169.15,53.12 169.27,58.19 169.39,62.78 169.52,66.56 169.64,69.37 169.77,71.23 169.89,72.26 170.02,72.72 170.14,72.85 170.26,72.86 170.39,72.85 170.51,72.81 170.64,72.58 170.76,71.95 170.88,70.68 171.01,68.55 171.13,65.47 171.26,61.51 171.38,56.87 171.50,51.95 171.63,47.22 171.75,43.20 171.88,40.35 172.00,39.01 172.12,39.35 172.25,41.33 172.37,44.70 172.50,49.05 172.62,53.89 172.74,58.73 172.87,63.10 172.99,66.70 173.12,69.38 173.24,71.14 173.36,72.13 173.49,72.56 173.61,72.69 173.74,72.70 173.86,72.70 173.98,72.66 174.11,72.45 174.23,71.86 174.36,70.66 174.48,68.66 174.60,65.78 174.73,62.06 174.85,57.72 174.98,53.11 175.10,48.70 175.22,44.94 175.35,42.29 175.47,41.06 175.60,41.40 175.72,43.27 175.84,46.43 175.97,50.51 176.09,55.05 176.22,59.57 176.34,63.67 176.46,67.04 176.59,69.54 176.71,71.19 176.84,72.11 176.96,72.53 177.09,72.65 177.21,72.66 177.33,72.66 177.46,72.63 177.58,72.44 177.71,71.89 177.83,70.78 177.95,68.92 178.08,66.24 178.20,62.78 178.33,58.74 178.45,54.46 178.57,50.35 178.70,46.87 178.82,44.42 178.95,43.29 179.07,43.62 179.19,45.38 179.32,48.33 179.44,52.14 179.57,56.36 179.69,60.57 179.81,64.37 179.94,67.49 180.06,69.82 180.19,71.34 180.31,72.20 180.43,72.58 180.56,72.70 180.68,72.72 180.81,72.72 180.93,72.69 181.05,72.51 181.18,72.02 181.30,71.00 181.43,69.30 181.55,66.85 181.67,63.70 181.80,60.02 181.92,56.13 182.05,52.41 182.17,49.26 182.29,47.05 182.42,46.05 182.54,46.38 182.67,48.00 182.79,50.70 182.91,54.16 183.04,58.00 183.16,61.82 183.29,65.26 183.41,68.09 183.53,70.19 183.66,71.57 183.78,72.34 183.91,72.69 184.03,72.80 184.16,72.81 184.28,72.81 184.40,72.79 184.53,72.64 184.65,72.19 184.78,71.28 184.90,69.77 185.02,67.59 185.15,64.78 185.27,61.52 185.40,58.07 185.52,54.78 185.64,52.00 185.77,50.07 185.89,49.21 186.02,49.53 186.14,50.99 186.26,53.40 186.39,56.48 186.51,59.89 186.64,63.26 186.76,66.30 186.88,68.79 187.01,70.63 187.13,71.84 187.26,72.52 187.38,72.82 187.50,72.91 187.63,72.93 187.75,72.93 187.88,72.91 188.00,72.78 188.12,72.40 188.25,71.62 188.37,70.33 188.50,68.47 188.62,66.08 188.74,63.31 188.87,60.39 188.99,57.62 189.12,55.29 189.24,53.68 189.36,52.99 189.49,53.29 189.61,54.55 189.74,56.61 189.86,59.23 189.98,62.11 190.11,64.95 190.23,67.51 190.36,69.61 190.48,71.15 190.60,72.17 190.73,72.74 190.85,73.00 190.98,73.08 191.10,73.09 191.23,73.10 191.35,73.09 191.47,72.98 191.60,72.67 191.72,72.03 191.85,70.96 191.97,69.43 192.09,67.47 192.22,65.20 192.34,62.81 192.47,60.55 192.59,58.67 192.71,57.38 192.84,56.85 192.96,57.13 193.09,58.20 193.21,59.91 193.33,62.07 193.46,64.42 193.58,66.74 193.71,68.82 193.83,70.51 193.95,71.76 194.08,72.57 194.20,73.03 194.33,73.24 194.45,73.30 194.57,73.32 194.70,73.33 194.82,73.32 194.95,73.24 195.07,73.00 195.19,72.52 195.32,71.71 195.44,70.55 195.57,69.08 195.69,67.39 195.81,65.63 195.94,63.98 196.06,62.63 196.19,61.73 196.31,61.39 196.43,61.66 196.56,62.49 196.68,63.79 196.81,65.40 196.93,67.14 197.05,68.84 197.18,70.34 197.30,71.56 197.43,72.45 197.55,73.04 197.67,73.36 197.80,73.51 197.92,73.56 198.05,73.57 198.17,73.58 198.30,73.58 198.42,73.53 198.54,73.37 198.67,73.05 198.79,72.52 198.92,71.78 199.04,70.84 199.16,69.77 199.29,68.68 199.41,67.69 199.54,66.90 199.66,66.41 199.78,66.30 199.91,66.57 200.03,67.18 200.16,68.05 200.28,69.08 200.40,70.16 200.53,71.17 200.65,72.03 200.78,72.71 200.90,73.19 201.02,73.50 201.15,73.66 201.27,73.74 201.40,73.77 201.52,73.78 201.64,73.79 201.77,73.80 201.89,73.78 202.02,73.74 202.14,73.64 202.26,73.47 202.39,73.24 202.51,72.97 202.64,72.66 202.76,72.36 202.88,72.08 203.01,71.88 203.13,71.77 203.26,71.78 203.38,71.90 203.50,72.11 203.63,72.40 203.75,72.73 203.88,73.12 204.00,73.56 204.12,74.03 204.25,74.49 204.37,74.93 204.50,75.80 204.62,75.88 204.74,76.07 204.87,76.31 204.99,76.53 205.12,76.69 205.24,76.79 205.37,76.92 205.49,77.16 205.61,77.60 205.74,78.29 205.86,79.30 205.99,80.61 206.11,82.18 206.23,83.90 206.36,85.61 206.48,87.15 206.61,88.35 206.73,89.06 206.85,89.21 206.98,88.77 207.10,87.81 207.23,86.44 207.35,84.84 207.47,83.18 207.60,81.63 207.72,80.33 207.85,79.35 207.97,78.71 208.09,78.36 208.22,78.23 208.34,78.22 208.47,78.26 208.59,78.31 208.71,78.37 208.84,78.51 208.96,78.83 209.09,79.43 209.21,80.43 209.33,81.88 209.46,83.78 209.58,86.03 209.71,88.47 209.83,90.89 209.95,93.02 210.08,94.63 210.20,95.52 210.33,95.60 210.45,94.84 210.57,93.35 210.70,91.31 210.82,88.95 210.95,86.53 211.07,84.30 211.19,82.43 211.32,81.03 211.44,80.10 211.57,79.58 211.69,79.37 211.81,79.32 211.94,79.35 212.06,79.38 212.19,79.43 212.31,79.58 212.43,79.97 212.56,80.75 212.68,82.04 212.81,83.92 212.93,86.37 213.06,89.27 213.18,92.40 213.30,95.48 213.43,98.18 213.55,100.18 213.68,101.25 213.80,101.27 213.92,100.21 214.05,98.22 214.17,95.54 214.30,92.47 214.42,89.35 214.54,86.47 214.67,84.08 214.79,82.28 214.92,81.08 215.04,80.41 215.16,80.12 215.29,80.05 215.41,80.06 215.54,80.08 215.66,80.13 215.78,80.31 215.91,80.77 216.03,81.71 216.16,83.27 216.28,85.55 216.40,88.53 216.53,92.04 216.65,95.83 216.78,99.53 216.90,102.75 217.02,105.13 217.15,106.37 217.27,106.32 217.40,104.99 217.52,102.54 217.64,99.27 217.77,95.54 217.89,91.77 218.02,88.31 218.14,85.43 218.26,83.26 218.39,81.83 218.51,81.02 218.64,80.67 218.76,80.58 218.88,80.58 219.01,80.60 219.13,80.65 219.26,80.85 219.38,81.39 219.50,82.48 219.63,84.30 219.75,86.96 219.88,90.42 220.00,94.51 220.13,98.89 220.25,103.17 220.37,106.88 220.50,109.60 220.62,111.00 220.75,110.90 220.87,109.32 220.99,106.45 221.12,102.64 221.24,98.32 221.37,93.96 221.49,89.97 221.61,86.64 221.74,84.16 221.86,82.51 221.99,81.59 222.11,81.18 222.23,81.08 222.36,81.08 222.48,81.10 222.61,81.16 222.73,81.38 222.85,81.99 222.98,83.23 223.10,85.30 223.23,88.30 223.35,92.21 223.47,96.81 223.60,101.74 223.72,106.54 223.85,110.70 223.97,113.73 224.09,115.27 224.22,115.13 224.34,113.34 224.47,110.10 224.59,105.81 224.71,100.96 224.84,96.07 224.96,91.61 225.09,87.90 225.21,85.13 225.33,83.30 225.46,82.27 225.58,81.83 225.71,81.72 225.83,81.73 225.95,81.76 226.08,81.82 226.20,82.08 226.33,82.76 226.45,84.13 226.57,86.41 226.70,89.73 226.82,94.03 226.95,99.09 227.07,104.51 227.20,109.77 227.32,114.32 227.44,117.62 227.57,119.28 227.69,119.11 227.82,117.11 227.94,113.54 228.06,108.83 228.19,103.52 228.31,98.16 228.44,93.28 228.56,89.23 228.68,86.20 228.81,84.20 228.93,83.09 229.06,82.60 229.18,82.48 229.30,82.48 229.43,82.51 229.55,82.58 229.68,82.86 229.80,83.59 229.92,85.07 230.05,87.54 230.17,91.11 230.30,95.75 230.42,101.20 230.54,107.03 230.67,112.68 230.79,117.56 230.92,121.09 231.04,122.85 231.16,122.64 231.29,120.46 231.41,116.61 231.54,111.53 231.66,105.81 231.78,100.05 231.91,94.81 232.03,90.46 232.16,87.21 232.28,85.07 232.40,83.88 232.53,83.36 232.65,83.22 232.78,83.22 232.90,83.25 233.02,83.33 233.15,83.62 233.27,84.39 233.40,85.96 233.52,88.58 233.64,92.38 233.77,97.29 233.89,103.07 234.02,109.24 234.14,115.22 234.27,120.37 234.39,124.09 234.51,125.93 234.64,125.68 234.76,123.36 234.89,119.26 235.01,113.87 235.13,107.81 235.26,101.72 235.38,96.18 235.51,91.59 235.63,88.16 235.75,85.90 235.88,84.64 236.00,84.09 236.13,83.94 236.25,83.95 236.37,83.97 236.50,84.05 236.62,84.35 236.75,85.17 236.87,86.81 236.99,89.55 237.12,93.52 237.24,98.66 237.37,104.70 237.49,111.14 237.61,117.38 237.74,122.74 237.86,126.61 237.99,128.51 238.11,128.22 238.23,125.78 238.36,121.49 238.48,115.85 238.61,109.52 238.73,103.17 238.85,97.39 238.98,92.61 239.10,89.04 239.23,86.69 239.35,85.37 239.47,84.80 239.60,84.65 239.72,84.65 239.85,84.67 239.97,84.75 240.09,85.06 240.22,85.90 240.34,87.60 240.47,90.44 240.59,94.54 240.71,99.85 240.84,106.08 240.96,112.73 241.09,119.16 241.21,124.68 241.34,128.65 241.46,130.59 241.58,130.27 241.71,127.74 241.83,123.29 241.96,117.47 242.08,110.95 242.20,104.40 242.33,98.44 242.45,93.52 242.58,89.85 242.70,87.43 242.82,86.08 242.95,85.49 243.07,85.33 243.20,85.33 243.32,85.36 243.44,85.43 243.57,85.75 243.69,86.61 243.82,88.35 243.94,91.25 244.06,95.44 244.19,100.86 244.31,107.22 244.44,114.00 244.56,120.55 244.68,126.17 244.81,130.20 244.93,132.16 245.06,131.82 245.18,129.22 245.30,124.67 245.43,118.73 245.55,112.07 245.68,105.40 245.80,99.34 245.92,94.32 246.05,90.59 246.17,88.13 246.30,86.76 246.42,86.15 246.54,85.99 246.67,85.99 246.79,86.02 246.92,86.09 247.04,86.41 247.16,87.28 247.29,89.04 247.41,91.97 247.54,96.21 247.66,101.69 247.78,108.11 247.91,114.95 248.03,121.55 248.16,127.21 248.28,131.26 248.41,133.23 248.53,132.86 248.65,130.22 248.78,125.62 248.90,119.62 249.03,112.90 249.15,106.18 249.27,100.06 249.40,95.02 249.52,91.26 249.65,88.78"/>
</g>
<g clip-path="url(#cpb)">
<polyline class="halo" stroke="#ff0000" points="346.43,117.92 346.56,108.26 346.68,100.27 346.80,94.32 346.93,90.39 347.05,88.17 347.17,87.19 347.30,86.89 347.42,86.85 347.55,86.86 347.67,86.94 347.79,87.41 347.92,88.75 348.04,91.48 348.16,96.06 348.29,102.70 348.41,111.28 348.54,121.34 348.66,132.05 348.78,142.38 348.91,151.21 349.03,157.52 349.15,160.54 349.28,159.90 349.40,155.69 349.52,148.41 349.65,138.94 349.77,128.35 349.90,117.76 350.02,108.14 350.14,100.19 350.27,94.27 350.39,90.36 350.51,88.16 350.64,87.18 350.76,86.89 350.89,86.85 351.01,86.86 351.13,86.94 351.26,87.41 351.38,88.73 351.50,91.44 351.63,95.96 351.75,102.53 351.88,111.01 352.00,120.94 352.12,131.52 352.25,141.71 352.37,150.41 352.49,156.61 352.62,159.56 352.74,158.91 352.87,154.72 352.99,147.52 353.11,138.17 353.24,127.72 353.36,117.28 353.48,107.80 353.61,99.98 353.73,94.15 353.86,90.30 353.98,88.14 354.10,87.18 354.23,86.89 354.35,86.85 354.47,86.86 354.60,86.94 354.72,87.40 354.85,88.69 354.97,91.34 355.09,95.78 355.22,102.20 355.34,110.49 355.46,120.19 355.59,130.52 355.71,140.46 355.83,148.94 355.96,154.97 356.08,157.83 356.21,157.16 356.33,153.05 356.45,146.01 356.58,136.87 356.70,126.67 356.82,116.49 356.95,107.25 357.07,99.62 357.20,93.95 357.32,90.21 357.44,88.11 357.57,87.17 357.69,86.89 357.81,86.85 357.94,86.86 358.06,86.94 358.19,87.38 358.31,88.63 358.43,91.20 358.56,95.49 358.68,101.70 358.80,109.72 358.93,119.09 359.05,129.06 359.18,138.65 359.30,146.82 359.42,152.61 359.55,155.34 359.67,154.67 359.79,150.67 359.92,143.86 360.04,135.03 360.17,125.19 360.29,115.37 360.41,106.47 360.54,99.13 360.66,93.67 360.78,90.08 360.91,88.06 361.03,87.16 361.15,86.89 361.28,86.85 361.40,86.86 361.53,86.93 361.65,87.36 361.77,88.56 361.90,91.01 362.02,95.11 362.14,101.05 362.27,108.70 362.39,117.64 362.52,127.14 362.64,136.27 362.76,144.04 362.89,149.54 363.01,152.11 363.13,151.43 363.26,147.60 363.38,141.09 363.51,132.66 363.63,123.29 363.75,113.95 363.88,105.48 364.00,98.51 364.12,93.32 364.25,89.91 364.37,87.99 364.50,87.14 364.62,86.88 364.74,86.85 364.87,86.86 364.99,86.93 365.11,87.33 365.24,88.46 365.36,90.78 365.49,94.65 365.61,100.23 365.73,107.44 365.86,115.85 365.98,124.78 366.10,133.34 366.23,140.62 366.35,145.76 366.48,148.14 366.60,147.47 366.72,143.84 366.85,137.70 366.97,129.78 367.09,120.98 367.22,112.21 367.34,104.28 367.46,97.75 367.59,92.90 367.71,89.71 367.84,87.92 367.96,87.12 368.08,86.88 368.21,86.85 368.33,86.86 368.45,86.92 368.58,87.30 368.70,88.35 368.83,90.50 368.95,94.09 369.07,99.27 369.20,105.94 369.32,113.72 369.44,121.97 369.57,129.87 369.69,136.57 369.82,141.29 369.94,143.45 370.06,142.80 370.19,139.41 370.31,133.72 370.43,126.39 370.56,118.26 370.68,110.18 370.81,102.87 370.93,96.86 371.05,92.40 371.18,89.47 371.30,87.83 371.42,87.10 371.55,86.88 371.67,86.85 371.80,86.86 371.92,86.92 372.04,87.26 372.17,88.22 372.29,90.18 372.41,93.44 372.54,98.15 372.66,104.21 372.78,111.26 372.91,118.73 373.03,125.88 373.16,131.92 373.28,136.16 373.40,138.07 373.53,137.44 373.65,134.35 373.77,129.17 373.90,122.52 374.02,115.17 374.15,107.86 374.27,101.27 374.39,95.85 374.52,91.84 374.64,89.20 374.76,87.73 374.89,87.07 375.01,86.88 375.14,86.85 375.26,86.86 375.38,86.91 375.51,87.21 375.63,88.07 375.75,89.81 375.88,92.71 376.00,96.89 376.13,102.26 376.25,108.50 376.37,115.10 376.50,121.39 376.62,126.70 376.74,130.40 376.87,132.05 376.99,131.45 377.12,128.67 377.24,124.07 377.36,118.20 377.49,111.70 377.61,105.27 377.73,99.48 377.86,94.73 377.98,91.21 378.11,88.90 378.23,87.62 378.35,87.04 378.48,86.87 378.60,86.85 378.72,86.85 378.85,86.90 378.97,87.17 379.09,87.90 379.22,89.41 379.34,91.91 379.47,95.50 379.59,100.11 379.71,105.45 379.84,111.09 379.96,116.45 380.08,120.95 380.21,124.07 380.33,125.42 380.46,124.86 380.58,122.44 380.70,118.48 380.83,113.45 380.95,107.91 381.07,102.44 381.20,97.52 381.32,93.49 381.45,90.52 381.57,88.58 381.69,87.49 381.82,87.01 381.94,86.87 382.06,86.85 382.19,86.85 382.31,86.89 382.44,87.11 382.56,87.73 382.68,88.97 382.81,91.03 382.93,93.99 383.05,97.77 383.18,102.15 383.30,106.74 383.43,111.10 383.55,114.73 383.67,117.22 383.80,118.26 383.92,117.74 384.04,115.72 384.17,112.45 384.29,108.33 384.41,103.82 384.54,99.38 384.66,95.41 384.79,92.17 384.91,89.78 385.03,88.23 385.16,87.36 385.28,86.98 385.40,86.87 385.53,86.85 385.65,86.85 385.78,86.89 385.90,87.06 386.02,87.53 386.15,88.50 386.27,90.10 386.39,92.38 386.52,95.28 386.64,98.62 386.77,102.11 386.89,105.40 387.01,108.11 387.14,109.93 387.26,110.65 387.38,110.17 387.51,108.57 387.63,106.05 387.76,102.90 387.88,99.48 388.00,96.15 388.13,93.17 388.25,90.76 388.37,89.00 388.50,87.86 388.62,87.22 388.75,86.95 388.87,86.86 388.99,86.85 389.12,86.85 389.24,86.88 389.36,87.00 389.49,87.33 389.61,88.01 389.74,89.11 389.86,90.68 389.98,92.66 390.11,94.92 390.23,97.25 390.35,99.41 390.48,101.16 390.60,102.29 390.72,102.67 390.85,102.25 390.97,101.09 391.10,99.34 391.22,97.22 391.34,94.95 391.47,92.76 391.59,90.84 391.71,89.26 391.84,88.02 391.96,87.13 392.09,86.52 392.21,86.10 392.33,85.79 392.46,85.54 392.58,85.31 392.70,85.11 392.83,84.95 392.95,84.79 393.08,84.56 393.20,84.23 393.32,83.78 393.45,83.20 393.57,82.50 393.69,81.71 393.82,80.90 393.94,80.14 394.07,79.49 394.19,79.03 394.31,78.80 394.44,78.83 394.56,79.11 394.68,79.60 394.81,80.24 394.93,80.93 395.06,81.60 395.18,82.19 395.30,82.63 395.43,82.92 395.55,83.06 395.67,83.10 395.80,83.07 395.92,83.01 396.04,82.95 396.17,82.89 396.29,82.77 396.42,82.56 396.54,82.16 396.66,81.50 396.79,80.55 396.91,79.29 397.03,77.78 397.16,76.10 397.28,74.41 397.41,72.88 397.53,71.68 397.65,70.94 397.78,70.75 397.90,71.15 398.02,72.07 398.15,73.40 398.27,74.99 398.40,76.64 398.52,78.20 398.64,79.52 398.77,80.52 398.89,81.18 399.01,81.54 399.14,81.69 399.26,81.70 399.39,81.66 399.51,81.62 399.63,81.56 399.76,81.42 399.88,81.09 400.00,80.45 400.13,79.39 400.25,77.84 400.38,75.81 400.50,73.39 400.62,70.75 400.75,68.13 400.87,65.81 400.99,64.05 401.12,63.06 401.24,62.95 401.37,63.75 401.49,65.35 401.61,67.57 401.74,70.12 401.86,72.74 401.98,75.17 402.11,77.20 402.23,78.73 402.35,79.75 402.48,80.31 402.60,80.55 402.73,80.59 402.85,80.57 402.97,80.53 403.10,80.47 403.22,80.30 403.34,79.87 403.47,79.02 403.59,77.60 403.72,75.53 403.84,72.83 403.96,69.62 404.09,66.15 404.21,62.74 404.33,59.74 404.46,57.49 404.58,56.27 404.71,56.22 404.83,57.36 404.95,59.54 405.08,62.50 405.20,65.89 405.32,69.35 405.45,72.54 405.57,75.21 405.70,77.21 405.82,78.54 405.94,79.29 406.07,79.61 406.19,79.68 406.31,79.67 406.44,79.64 406.56,79.58 406.69,79.37 406.81,78.84 406.93,77.76 407.06,75.97 407.18,73.35 407.30,69.93 407.43,65.88 407.55,61.50 407.67,57.21 407.80,53.46 407.92,50.66 408.05,49.17 408.17,49.16 408.29,50.64 408.42,53.42 408.54,57.18 408.66,61.47 408.79,65.84 408.91,69.86 409.04,73.22 409.16,75.74 409.28,77.42 409.41,78.36 409.53,78.77 409.65,78.87 409.78,78.86 409.90,78.83 410.03,78.76 410.15,78.51 410.27,77.86 410.40,76.54 410.52,74.32 410.64,71.09 410.77,66.89 410.89,61.91 411.02,56.56 411.14,51.32 411.26,46.77 411.39,43.43 411.51,41.69 411.63,41.77 411.76,43.66 411.88,47.14 412.01,51.77 412.13,57.03 412.25,62.36 412.38,67.23 412.50,71.29 412.62,74.33 412.75,76.34 412.87,77.47 413.00,77.96 413.12,78.09 413.24,78.08 413.37,78.05 413.49,77.98 413.61,77.70 413.74,76.95 413.86,75.43 413.98,72.89 414.11,69.20 414.23,64.41 414.36,58.76 414.48,52.70 414.60,46.79 414.73,41.68 414.85,37.95 414.97,36.04 415.10,36.19 415.22,38.39 415.35,42.36 415.47,47.64 415.59,53.60 415.72,59.62 415.84,65.13 415.96,69.70 416.09,73.13 416.21,75.39 416.34,76.66 416.46,77.22 416.58,77.37 416.71,77.37 416.83,77.34 416.95,77.26 417.08,76.95 417.20,76.12 417.33,74.43 417.45,71.60 417.57,67.49 417.70,62.15 417.82,55.86 417.94,49.11 418.07,42.55 418.19,36.88 418.32,32.75 418.44,30.66 418.56,30.86 418.69,33.33 418.81,37.77 418.93,43.65 419.06,50.28 419.18,56.98 419.30,63.09 419.43,68.17 419.55,71.97 419.68,74.48 419.80,75.89 419.92,76.51 420.05,76.68 420.17,76.68 420.29,76.66 420.42,76.57 420.54,76.24 420.67,75.32 420.79,73.46 420.91,70.34 421.04,65.82 421.16,59.95 421.28,53.04 421.41,45.64 421.53,38.46 421.66,32.27 421.78,27.77 421.90,25.52 422.03,25.79 422.15,28.55 422.27,33.45 422.40,39.91 422.52,47.19 422.65,54.51 422.77,61.19 422.89,66.73 423.02,70.86 423.14,73.59 423.26,75.13 423.39,75.80 423.51,75.98 423.64,75.98 423.76,75.95 423.88,75.86 424.01,75.50 424.13,74.52 424.25,72.53 424.38,69.20 424.50,64.37 424.63,58.12 424.75,50.77 424.87,42.91 425.00,35.30 425.12,28.75 425.24,24.02 425.37,21.68 425.49,22.01 425.61,24.97 425.74,30.19 425.86,37.06 425.99,44.79 426.11,52.55 426.23,59.62 426.36,65.48 426.48,69.85 426.60,72.74 426.73,74.35 426.85,75.06 426.98,75.26 427.10,75.26 427.22,75.23 427.35,75.15 427.47,74.77 427.59,73.74 427.72,71.65 427.84,68.16 427.97,63.10 428.09,56.55 428.21,48.87 428.34,40.65 428.46,32.70 428.58,25.87 428.71,20.94 428.83,18.52 428.96,18.89 429.08,22.01 429.20,27.50 429.33,34.69 429.45,42.77 429.57,50.89 429.70,58.28 429.82,64.40 429.95,68.96 430.07,71.98 430.19,73.67 430.32,74.41 430.44,74.62 430.56,74.63 430.69,74.61 430.81,74.52 430.93,74.13 431.06,73.07 431.18,70.91 431.31,67.29 431.43,62.05 431.55,55.27 431.68,47.31 431.80,38.81 431.92,30.60 432.05,23.55 432.17,18.50 432.30,16.03 432.42,16.46 432.54,19.73 432.67,25.43 432.79,32.90 432.91,41.26 433.04,49.65 433.16,57.29 433.29,63.60 433.41,68.31 433.53,71.41 433.66,73.15 433.78,73.93 433.90,74.15 434.03,74.16 434.15,74.14 434.28,74.06 434.40,73.67 434.52,72.59 434.65,70.38 434.77,66.70 434.89,61.37 435.02,54.47 435.14,46.38 435.27,37.76 435.39,29.42 435.51,22.29 435.64,17.17 435.76,14.70 435.88,15.16 436.01,18.51 436.13,24.32 436.26,31.91 436.38,40.41 436.50,48.92 436.63,56.67 436.75,63.07 436.87,67.84 437.00,70.98 437.12,72.75 437.24,73.53 437.37,73.76 437.49,73.77 437.62,73.76 437.74,73.68 437.86,73.29 437.99,72.20 438.11,69.98 438.23,66.27 438.36,60.90 438.48,53.95 438.61,45.81 438.73,37.13 438.85,28.76 438.98,21.59 439.10,16.46 439.22,13.99 439.35,14.48 439.47,17.88 439.60,23.75 439.72,31.40 439.84,39.96 439.97,48.52 440.09,56.30 440.21,62.72 440.34,67.51 440.46,70.66 440.59,72.43 440.71,73.21 440.83,73.44 440.96,73.46 441.08,73.45 441.20,73.37 441.33,72.98 441.45,71.91 441.58,69.72 441.70,66.06 441.82,60.76 441.95,53.92 442.07,45.91 442.19,37.40 442.32,29.19 442.44,22.19 442.57,17.21 442.69,14.84 442.81,15.37 442.94,18.75 443.06,24.55 443.18,32.07 443.31,40.47 443.43,48.86 443.55,56.47 443.68,62.74 443.80,67.41 443.93,70.49 444.05,72.21 444.17,72.98 444.30,73.20 444.42,73.22 444.54,73.21 444.67,73.14 444.79,72.76 444.92,71.72 445.04,69.60 445.16,66.06 445.29,60.95 445.41,54.34 445.53,46.62 445.66,38.42 445.78,30.53 445.91,23.80 446.03,19.03 446.15,16.78 446.28,17.32 446.40,20.60 446.52,26.20 446.65,33.45 446.77,41.53 446.90,49.60 447.02,56.91 447.14,62.94 447.27,67.43 447.39,70.38 447.51,72.04 447.64,72.77 447.76,72.98 447.89,73.00 448.01,72.99 448.13,72.92 448.26,72.57 448.38,71.57 448.50,69.54 448.63,66.16 448.75,61.27 448.87,54.95 449.00,47.58 449.12,39.75 449.25,32.22 449.37,25.82 449.49,21.28 449.62,19.16 449.74,19.71 449.86,22.86 449.99,28.22 450.11,35.15 450.24,42.87 450.36,50.57 450.48,57.54 450.61,63.28 450.73,67.54 450.85,70.35 450.98,71.92 451.10,72.62 451.23,72.82 451.35,72.84 451.47,72.84 451.60,72.78 451.72,72.44 451.84,71.51 451.97,69.60 452.09,66.42 452.22,61.83 452.34,55.91 452.46,49.00 452.59,41.67 452.71,34.64 452.83,28.66 452.96,24.44 453.08,22.49 453.21,23.03 453.33,26.00 453.45,31.04 453.58,37.54 453.70,44.77 453.82,51.96 453.95,58.48 454.07,63.85 454.20,67.83 454.32,70.46 454.44,71.93 454.57,72.59 454.69,72.78 454.81,72.81 454.94,72.81 455.06,72.75 455.18,72.45 455.31,71.58 455.43,69.80 455.56,66.85 455.68,62.57 455.80,57.06 455.93,50.63 456.05,43.81 456.17,37.27 456.30,31.73 456.42,27.82 456.55,26.02 456.67,26.55 456.79,29.34 456.92,34.05 457.04,40.11 457.16,46.83 457.29,53.52 457.41,59.58 457.54,64.55 457.66,68.25 457.78,70.68 457.91,72.04 458.03,72.65 458.15,72.83 458.28,72.86 458.40,72.86 458.53,72.81 458.65,72.53 458.77,71.74 458.90,70.12 459.02,67.41 459.14,63.51 459.27,58.48 459.39,52.63 459.52,46.43 459.64,40.50 459.76,35.49 459.89,31.97 460.01,30.37 460.13,30.89 460.26,33.46 460.38,37.76 460.50,43.28 460.63,49.39 460.75,55.46 460.88,60.94 461.00,65.45 461.12,68.79 461.25,70.98 461.37,72.21 461.49,72.76 461.62,72.93 461.74,72.95 461.87,72.95 461.99,72.91 462.11,72.66 462.24,71.95 462.36,70.51 462.48,68.09 462.61,64.62 462.73,60.15 462.86,54.95 462.98,49.45 463.10,44.21 463.23,39.79 463.35,36.71 463.47,35.34 463.60,35.84 463.72,38.16 463.85,42.00 463.97,46.91 464.09,52.32 464.22,57.69 464.34,62.52 464.46,66.48 464.59,69.42 464.71,71.34 464.84,72.42 464.96,72.89 465.08,73.04 465.21,73.06 465.33,73.07 465.45,73.03 465.58,72.82 465.70,72.21 465.83,70.97 465.95,68.91 466.07,65.94 466.20,62.14 466.32,57.72 466.44,53.07 466.57,48.65 466.69,44.94 466.81,42.38 466.94,41.27 467.06,41.75 467.19,43.75 467.31,47.03 467.43,51.19 467.56,55.77 467.68,60.30 467.80,64.37 467.93,67.70 468.05,70.16 468.18,71.77 468.30,72.68 468.42,73.08 468.55,73.21 468.67,73.23 468.79,73.23 468.92,73.21 469.04,73.03 469.17,72.53 469.29,71.51 469.41,69.81 469.54,67.36 469.66,64.23 469.78,60.61 469.91,56.81 470.03,53.21 470.16,50.20 470.28,48.15 470.40,47.30 470.53,47.74 470.65,49.44 470.77,52.16 470.90,55.58 471.02,59.33 471.15,63.02 471.27,66.32 471.39,69.01 471.52,70.99 471.64,72.28 471.76,73.00 471.89,73.33 472.01,73.43 472.13,73.45 472.26,73.46 472.38,73.44 472.51,73.31 472.63,72.93 472.75,72.15 472.88,70.86 473.00,69.01 473.12,66.66 473.25,63.97 473.37,61.15 473.50,58.52 473.62,56.36 473.74,54.92 473.87,54.38 473.99,54.80 474.11,56.13 474.24,58.19 474.36,60.74 474.49,63.51 474.61,66.20 474.73,68.59 474.86,70.53 474.98,71.95 475.10,72.87 475.23,73.38 475.35,73.61 475.48,73.68 475.60,73.70 475.72,73.71 475.85,73.70 475.97,73.61 476.09,73.36 476.22,72.84 476.34,72.00 476.47,70.81 476.59,69.30 476.71,67.60 476.84,65.87 476.96,64.28 477.08,63.02 477.21,62.24 477.33,62.06 477.46,62.48 477.58,63.45 477.70,64.84 477.83,66.48 477.95,68.18 478.07,69.78 478.20,71.16 478.32,72.24 478.44,73.00 478.57,73.48 478.69,73.74 478.82,73.85 478.94,73.89 479.06,73.90 479.19,73.91 479.31,73.92 479.43,73.89 479.56,73.81 479.68,73.64 479.81,73.37 479.93,73.00 480.05,72.55 480.18,72.06 480.30,71.56 480.42,71.11 480.55,70.78 480.67,70.60 480.80,70.59 480.92,70.77 481.04,71.10 481.17,71.54 481.29,72.06 481.41,72.63 481.54,73.25 481.66,73.87 481.79,74.45 481.91,74.98 482.03,76.17 482.16,76.12 482.28,76.25 482.40,76.47 482.53,76.70 482.65,76.86 482.78,76.97 482.90,77.13 483.02,77.48 483.15,78.13 483.27,79.20 483.39,80.77 483.52,82.82 483.64,85.28 483.76,87.98 483.89,90.67 484.01,93.09 484.14,94.96 484.26,96.06 484.38,96.26 484.51,95.53 484.63,93.97 484.75,91.76 484.88,89.18 485.00,86.50 485.13,84.01 485.25,81.90 485.37,80.31 485.50,79.26 485.62,78.68 485.74,78.44 485.87,78.40 485.99,78.43 486.12,78.48 486.24,78.55 486.36,78.75 486.49,79.22 486.61,80.16 486.73,81.72 486.86,84.01 486.98,87.00 487.11,90.56 487.23,94.42 487.35,98.24 487.48,101.61 487.60,104.15 487.72,105.56 487.85,105.65 487.97,104.43 488.10,102.03 488.22,98.75 488.34,94.97 488.47,91.11 488.59,87.53 488.71,84.54 488.84,82.28 488.96,80.78 489.09,79.94 489.21,79.58 489.33,79.49 489.46,79.50 489.58,79.54 489.70,79.60 489.83,79.83 489.95,80.43 490.07,81.65 490.20,83.69 490.32,86.66 490.45,90.55 490.57,95.15 490.69,100.13 490.82,105.01 490.94,109.29 491.06,112.47 491.19,114.16 491.31,114.16 491.44,112.47 491.56,109.29 491.68,105.00 491.81,100.10 491.93,95.11 492.05,90.53 492.18,86.70 492.30,83.82 492.43,81.90 492.55,80.83 492.67,80.35 492.80,80.22 492.92,80.23 493.04,80.25 493.17,80.32 493.29,80.58 493.42,81.31 493.54,82.79 493.66,85.27 493.79,88.90 493.91,93.62 494.03,99.21 494.16,105.23 494.28,111.11 494.41,116.23 494.53,120.00 494.65,121.97 494.78,121.88 494.90,119.76 495.02,115.84 495.15,110.62 495.27,104.68 495.39,98.66 495.52,93.14 495.64,88.54 495.77,85.08 495.89,82.79 496.01,81.50 496.14,80.93 496.26,80.77 496.38,80.76 496.51,80.78 496.63,80.85 496.76,81.16 496.88,82.01 497.00,83.73 497.13,86.63 497.25,90.86 497.37,96.36 497.50,102.85 497.62,109.83 497.75,116.63 497.87,122.53 497.99,126.84 498.12,129.06 498.24,128.90 498.36,126.37 498.49,121.80 498.61,115.72 498.74,108.83 498.86,101.87 498.98,95.50 499.11,90.20 499.23,86.23 499.35,83.60 499.48,82.12 499.60,81.46 499.73,81.28 499.85,81.28 499.97,81.30 500.10,81.38 500.22,81.73 500.34,82.69 500.47,84.65 500.59,87.93 500.72,92.70 500.84,98.91 500.96,106.22 501.09,114.06 501.21,121.69 501.33,128.30 501.46,133.11 501.58,135.55 501.70,135.32 501.83,132.44 501.95,127.27 502.08,120.43 502.20,112.70 502.32,104.90 502.45,97.77 502.57,91.85 502.69,87.42 502.82,84.50 502.94,82.85 503.07,82.13 503.19,81.93 503.31,81.93 503.44,81.96 503.56,82.05 503.68,82.45 503.81,83.51 503.93,85.68 504.06,89.30 504.18,94.56 504.30,101.39 504.43,109.43 504.55,118.04 504.67,126.41 504.80,133.63 504.92,138.87 505.05,141.51 505.17,141.21 505.29,138.02 505.42,132.32 505.54,124.80 505.66,116.32 505.79,107.78 505.91,99.99 506.04,93.52 506.16,88.69 506.28,85.49 506.41,83.70 506.53,82.91 506.65,82.69 506.78,82.69 506.90,82.72 507.02,82.82 507.15,83.24 507.27,84.39 507.40,86.73 507.52,90.64 507.64,96.32 507.77,103.68 507.89,112.34 508.01,121.61 508.14,130.60 508.26,138.35 508.39,143.95 508.51,146.75 508.63,146.39 508.76,142.91 508.88,136.76 509.00,128.65 509.13,119.53 509.25,110.35 509.38,101.98 509.50,95.04 509.62,89.86 509.75,86.44 509.87,84.52 509.99,83.67 510.12,83.44 510.24,83.43 510.37,83.46 510.49,83.56 510.61,84.01 510.74,85.23 510.86,87.72 510.98,91.87 511.11,97.90 511.23,105.71 511.36,114.89 511.48,124.70 511.60,134.21 511.73,142.39 511.85,148.30 511.97,151.22 512.10,150.80 512.22,147.09 512.35,140.54 512.47,131.95 512.59,122.29 512.72,112.58 512.84,103.73 512.96,96.41 513.09,90.94 513.21,87.33 513.33,85.30 513.46,84.41 513.58,84.16 513.71,84.15 513.83,84.18 513.95,84.29 514.08,84.75 514.20,86.03 514.32,88.64 514.45,92.99 514.57,99.30 514.70,107.47 514.82,117.06 514.94,127.31 515.07,137.23 515.19,145.75 515.31,151.89 515.44,154.91 515.56,154.43 515.69,150.53 515.81,143.67 515.93,134.69 516.06,124.60 516.18,114.47 516.30,105.25 516.43,97.62 516.55,91.92 516.68,88.16 516.80,86.06 516.92,85.13 517.05,84.87 517.17,84.86 517.29,84.88 517.42,84.99 517.54,85.47 517.67,86.80 517.79,89.49 517.91,93.99 518.04,100.51 518.16,108.95 518.28,118.85 518.41,129.42 518.53,139.65 518.65,148.42 518.78,154.72 518.90,157.81 519.03,157.29 519.15,153.23 519.27,146.14 519.40,136.86 519.52,126.45 519.64,116.02 519.77,106.52 519.89,98.66 520.02,92.80 520.14,88.94 520.26,86.77 520.39,85.82 520.51,85.55 520.63,85.54 520.76,85.56 520.88,85.67 521.01,86.17 521.13,87.52 521.25,90.27 521.38,94.87 521.50,101.53 521.62,110.16 521.75,120.26 521.87,131.04 522.00,141.46 522.12,150.39 522.24,156.80 522.37,159.91 522.49,159.35 522.61,155.19 522.74,147.94 522.86,138.47 522.99,127.85 523.11,117.22 523.23,107.54 523.36,99.55 523.48,93.59 523.60,89.66 523.73,87.46 523.85,86.49 523.98,86.21 524.10,86.20 524.22,86.22 524.35,86.33 524.47,86.83 524.59,88.20 524.72,90.99 524.84,95.64 524.96,102.37 525.09,111.08 525.21,121.29 525.34,132.17 525.46,142.67 525.58,151.67 525.71,158.11 525.83,161.22 525.95,160.63 526.08,156.40 526.20,149.07 526.33,139.50 526.45,128.79 526.57,118.07 526.70,108.32 526.82,100.27 526.94,94.27 527.07,90.32"/><polyline class="ln" stroke="#ff0000" points="346.43,117.92 346.56,108.26 346.68,100.27 346.80,94.32 346.93,90.39 347.05,88.17 347.17,87.19 347.30,86.89 347.42,86.85 347.55,86.86 347.67,86.94 347.79,87.41 347.92,88.75 348.04,91.48 348.16,96.06 348.29,102.70 348.41,111.28 348.54,121.34 348.66,132.05 348.78,142.38 348.91,151.21 349.03,157.52 349.15,160.54 349.28,159.90 349.40,155.69 349.52,148.41 349.65,138.94 349.77,128.35 349.90,117.76 350.02,108.14 350.14,100.19 350.27,94.27 350.39,90.36 350.51,88.16 350.64,87.18 350.76,86.89 350.89,86.85 351.01,86.86 351.13,86.94 351.26,87.41 351.38,88.73 351.50,91.44 351.63,95.96 351.75,102.53 351.88,111.01 352.00,120.94 352.12,131.52 352.25,141.71 352.37,150.41 352.49,156.61 352.62,159.56 352.74,158.91 352.87,154.72 352.99,147.52 353.11,138.17 353.24,127.72 353.36,117.28 353.48,107.80 353.61,99.98 353.73,94.15 353.86,90.30 353.98,88.14 354.10,87.18 354.23,86.89 354.35,86.85 354.47,86.86 354.60,86.94 354.72,87.40 354.85,88.69 354.97,91.34 355.09,95.78 355.22,102.20 355.34,110.49 355.46,120.19 355.59,130.52 355.71,140.46 355.83,148.94 355.96,154.97 356.08,157.83 356.21,157.16 356.33,153.05 356.45,146.01 356.58,136.87 356.70,126.67 356.82,116.49 356.95,107.25 357.07,99.62 357.20,93.95 357.32,90.21 357.44,88.11 357.57,87.17 357.69,86.89 357.81,86.85 357.94,86.86 358.06,86.94 358.19,87.38 358.31,88.63 358.43,91.20 358.56,95.49 358.68,101.70 358.80,109.72 358.93,119.09 359.05,129.06 359.18,138.65 359.30,146.82 359.42,152.61 359.55,155.34 359.67,154.67 359.79,150.67 359.92,143.86 360.04,135.03 360.17,125.19 360.29,115.37 360.41,106.47 360.54,99.13 360.66,93.67 360.78,90.08 360.91,88.06 361.03,87.16 361.15,86.89 361.28,86.85 361.40,86.86 361.53,86.93 361.65,87.36 361.77,88.56 361.90,91.01 362.02,95.11 362.14,101.05 362.27,108.70 362.39,117.64 362.52,127.14 362.64,136.27 362.76,144.04 362.89,149.54 363.01,152.11 363.13,151.43 363.26,147.60 363.38,141.09 363.51,132.66 363.63,123.29 363.75,113.95 363.88,105.48 364.00,98.51 364.12,93.32 364.25,89.91 364.37,87.99 364.50,87.14 364.62,86.88 364.74,86.85 364.87,86.86 364.99,86.93 365.11,87.33 365.24,88.46 365.36,90.78 365.49,94.65 365.61,100.23 365.73,107.44 365.86,115.85 365.98,124.78 366.10,133.34 366.23,140.62 366.35,145.76 366.48,148.14 366.60,147.47 366.72,143.84 366.85,137.70 366.97,129.78 367.09,120.98 367.22,112.21 367.34,104.28 367.46,97.75 367.59,92.90 367.71,89.71 367.84,87.92 367.96,87.12 368.08,86.88 368.21,86.85 368.33,86.86 368.45,86.92 368.58,87.30 368.70,88.35 368.83,90.50 368.95,94.09 369.07,99.27 369.20,105.94 369.32,113.72 369.44,121.97 369.57,129.87 369.69,136.57 369.82,141.29 369.94,143.45 370.06,142.80 370.19,139.41 370.31,133.72 370.43,126.39 370.56,118.26 370.68,110.18 370.81,102.87 370.93,96.86 371.05,92.40 371.18,89.47 371.30,87.83 371.42,87.10 371.55,86.88 371.67,86.85 371.80,86.86 371.92,86.92 372.04,87.26 372.17,88.22 372.29,90.18 372.41,93.44 372.54,98.15 372.66,104.21 372.78,111.26 372.91,118.73 373.03,125.88 373.16,131.92 373.28,136.16 373.40,138.07 373.53,137.44 373.65,134.35 373.77,129.17 373.90,122.52 374.02,115.17 374.15,107.86 374.27,101.27 374.39,95.85 374.52,91.84 374.64,89.20 374.76,87.73 374.89,87.07 375.01,86.88 375.14,86.85 375.26,86.86 375.38,86.91 375.51,87.21 375.63,88.07 375.75,89.81 375.88,92.71 376.00,96.89 376.13,102.26 376.25,108.50 376.37,115.10 376.50,121.39 376.62,126.70 376.74,130.40 376.87,132.05 376.99,131.45 377.12,128.67 377.24,124.07 377.36,118.20 377.49,111.70 377.61,105.27 377.73,99.48 377.86,94.73 377.98,91.21 378.11,88.90 378.23,87.62 378.35,87.04 378.48,86.87 378.60,86.85 378.72,86.85 378.85,86.90 378.97,87.17 379.09,87.90 379.22,89.41 379.34,91.91 379.47,95.50 379.59,100.11 379.71,105.45 379.84,111.09 379.96,116.45 380.08,120.95 380.21,124.07 380.33,125.42 380.46,124.86 380.58,122.44 380.70,118.48 380.83,113.45 380.95,107.91 381.07,102.44 381.20,97.52 381.32,93.49 381.45,90.52 381.57,88.58 381.69,87.49 381.82,87.01 381.94,86.87 382.06,86.85 382.19,86.85 382.31,86.89 382.44,87.11 382.56,87.73 382.68,88.97 382.81,91.03 382.93,93.99 383.05,97.77 383.18,102.15 383.30,106.74 383.43,111.10 383.55,114.73 383.67,117.22 383.80,118.26 383.92,117.74 384.04,115.72 384.17,112.45 384.29,108.33 384.41,103.82 384.54,99.38 384.66,95.41 384.79,92.17 384.91,89.78 385.03,88.23 385.16,87.36 385.28,86.98 385.40,86.87 385.53,86.85 385.65,86.85 385.78,86.89 385.90,87.06 386.02,87.53 386.15,88.50 386.27,90.10 386.39,92.38 386.52,95.28 386.64,98.62 386.77,102.11 386.89,105.40 387.01,108.11 387.14,109.93 387.26,110.65 387.38,110.17 387.51,108.57 387.63,106.05 387.76,102.90 387.88,99.48 388.00,96.15 388.13,93.17 388.25,90.76 388.37,89.00 388.50,87.86 388.62,87.22 388.75,86.95 388.87,86.86 388.99,86.85 389.12,86.85 389.24,86.88 389.36,87.00 389.49,87.33 389.61,88.01 389.74,89.11 389.86,90.68 389.98,92.66 390.11,94.92 390.23,97.25 390.35,99.41 390.48,101.16 390.60,102.29 390.72,102.67 390.85,102.25 390.97,101.09 391.10,99.34 391.22,97.22 391.34,94.95 391.47,92.76 391.59,90.84 391.71,89.26 391.84,88.02 391.96,87.13 392.09,86.52 392.21,86.10 392.33,85.79 392.46,85.54 392.58,85.31 392.70,85.11 392.83,84.95 392.95,84.79 393.08,84.56 393.20,84.23 393.32,83.78 393.45,83.20 393.57,82.50 393.69,81.71 393.82,80.90 393.94,80.14 394.07,79.49 394.19,79.03 394.31,78.80 394.44,78.83 394.56,79.11 394.68,79.60 394.81,80.24 394.93,80.93 395.06,81.60 395.18,82.19 395.30,82.63 395.43,82.92 395.55,83.06 395.67,83.10 395.80,83.07 395.92,83.01 396.04,82.95 396.17,82.89 396.29,82.77 396.42,82.56 396.54,82.16 396.66,81.50 396.79,80.55 396.91,79.29 397.03,77.78 397.16,76.10 397.28,74.41 397.41,72.88 397.53,71.68 397.65,70.94 397.78,70.75 397.90,71.15 398.02,72.07 398.15,73.40 398.27,74.99 398.40,76.64 398.52,78.20 398.64,79.52 398.77,80.52 398.89,81.18 399.01,81.54 399.14,81.69 399.26,81.70 399.39,81.66 399.51,81.62 399.63,81.56 399.76,81.42 399.88,81.09 400.00,80.45 400.13,79.39 400.25,77.84 400.38,75.81 400.50,73.39 400.62,70.75 400.75,68.13 400.87,65.81 400.99,64.05 401.12,63.06 401.24,62.95 401.37,63.75 401.49,65.35 401.61,67.57 401.74,70.12 401.86,72.74 401.98,75.17 402.11,77.20 402.23,78.73 402.35,79.75 402.48,80.31 402.60,80.55 402.73,80.59 402.85,80.57 402.97,80.53 403.10,80.47 403.22,80.30 403.34,79.87 403.47,79.02 403.59,77.60 403.72,75.53 403.84,72.83 403.96,69.62 404.09,66.15 404.21,62.74 404.33,59.74 404.46,57.49 404.58,56.27 404.71,56.22 404.83,57.36 404.95,59.54 405.08,62.50 405.20,65.89 405.32,69.35 405.45,72.54 405.57,75.21 405.70,77.21 405.82,78.54 405.94,79.29 406.07,79.61 406.19,79.68 406.31,79.67 406.44,79.64 406.56,79.58 406.69,79.37 406.81,78.84 406.93,77.76 407.06,75.97 407.18,73.35 407.30,69.93 407.43,65.88 407.55,61.50 407.67,57.21 407.80,53.46 407.92,50.66 408.05,49.17 408.17,49.16 408.29,50.64 408.42,53.42 408.54,57.18 408.66,61.47 408.79,65.84 408.91,69.86 409.04,73.22 409.16,75.74 409.28,77.42 409.41,78.36 409.53,78.77 409.65,78.87 409.78,78.86 409.90,78.83 410.03,78.76 410.15,78.51 410.27,77.86 410.40,76.54 410.52,74.32 410.64,71.09 410.77,66.89 410.89,61.91 411.02,56.56 411.14,51.32 411.26,46.77 411.39,43.43 411.51,41.69 411.63,41.77 411.76,43.66 411.88,47.14 412.01,51.77 412.13,57.03 412.25,62.36 412.38,67.23 412.50,71.29 412.62,74.33 412.75,76.34 412.87,77.47 413.00,77.96 413.12,78.09 413.24,78.08 413.37,78.05 413.49,77.98 413.61,77.70 413.74,76.95 413.86,75.43 413.98,72.89 414.11,69.20 414.23,64.41 414.36,58.76 414.48,52.70 414.60,46.79 414.73,41.68 414.85,37.95 414.97,36.04 415.10,36.19 415.22,38.39 415.35,42.36 415.47,47.64 415.59,53.60 415.72,59.62 415.84,65.13 415.96,69.70 416.09,73.13 416.21,75.39 416.34,76.66 416.46,77.22 416.58,77.37 416.71,77.37 416.83,77.34 416.95,77.26 417.08,76.95 417.20,76.12 417.33,74.43 417.45,71.60 417.57,67.49 417.70,62.15 417.82,55.86 417.94,49.11 418.07,42.55 418.19,36.88 418.32,32.75 418.44,30.66 418.56,30.86 418.69,33.33 418.81,37.77 418.93,43.65 419.06,50.28 419.18,56.98 419.30,63.09 419.43,68.17 419.55,71.97 419.68,74.48 419.80,75.89 419.92,76.51 420.05,76.68 420.17,76.68 420.29,76.66 420.42,76.57 420.54,76.24 420.67,75.32 420.79,73.46 420.91,70.34 421.04,65.82 421.16,59.95 421.28,53.04 421.41,45.64 421.53,38.46 421.66,32.27 421.78,27.77 421.90,25.52 422.03,25.79 422.15,28.55 422.27,33.45 422.40,39.91 422.52,47.19 422.65,54.51 422.77,61.19 422.89,66.73 423.02,70.86 423.14,73.59 423.26,75.13 423.39,75.80 423.51,75.98 423.64,75.98 423.76,75.95 423.88,75.86 424.01,75.50 424.13,74.52 424.25,72.53 424.38,69.20 424.50,64.37 424.63,58.12 424.75,50.77 424.87,42.91 425.00,35.30 425.12,28.75 425.24,24.02 425.37,21.68 425.49,22.01 425.61,24.97 425.74,30.19 425.86,37.06 425.99,44.79 426.11,52.55 426.23,59.62 426.36,65.48 426.48,69.85 426.60,72.74 426.73,74.35 426.85,75.06 426.98,75.26 427.10,75.26 427.22,75.23 427.35,75.15 427.47,74.77 427.59,73.74 427.72,71.65 427.84,68.16 427.97,63.10 428.09,56.55 428.21,48.87 428.34,40.65 428.46,32.70 428.58,25.87 428.71,20.94 428.83,18.52 428.96,18.89 429.08,22.01 429.20,27.50 429.33,34.69 429.45,42.77 429.57,50.89 429.70,58.28 429.82,64.40 429.95,68.96 430.07,71.98 430.19,73.67 430.32,74.41 430.44,74.62 430.56,74.63 430.69,74.61 430.81,74.52 430.93,74.13 431.06,73.07 431.18,70.91 431.31,67.29 431.43,62.05 431.55,55.27 431.68,47.31 431.80,38.81 431.92,30.60 432.05,23.55 432.17,18.50 432.30,16.03 432.42,16.46 432.54,19.73 432.67,25.43 432.79,32.90 432.91,41.26 433.04,49.65 433.16,57.29 433.29,63.60 433.41,68.31 433.53,71.41 433.66,73.15 433.78,73.93 433.90,74.15 434.03,74.16 434.15,74.14 434.28,74.06 434.40,73.67 434.52,72.59 434.65,70.38 434.77,66.70 434.89,61.37 435.02,54.47 435.14,46.38 435.27,37.76 435.39,29.42 435.51,22.29 435.64,17.17 435.76,14.70 435.88,15.16 436.01,18.51 436.13,24.32 436.26,31.91 436.38,40.41 436.50,48.92 436.63,56.67 436.75,63.07 436.87,67.84 437.00,70.98 437.12,72.75 437.24,73.53 437.37,73.76 437.49,73.77 437.62,73.76 437.74,73.68 437.86,73.29 437.99,72.20 438.11,69.98 438.23,66.27 438.36,60.90 438.48,53.95 438.61,45.81 438.73,37.13 438.85,28.76 438.98,21.59 439.10,16.46 439.22,13.99 439.35,14.48 439.47,17.88 439.60,23.75 439.72,31.40 439.84,39.96 439.97,48.52 440.09,56.30 440.21,62.72 440.34,67.51 440.46,70.66 440.59,72.43 440.71,73.21 440.83,73.44 440.96,73.46 441.08,73.45 441.20,73.37 441.33,72.98 441.45,71.91 441.58,69.72 441.70,66.06 441.82,60.76 441.95,53.92 442.07,45.91 442.19,37.40 442.32,29.19 442.44,22.19 442.57,17.21 442.69,14.84 442.81,15.37 442.94,18.75 443.06,24.55 443.18,32.07 443.31,40.47 443.43,48.86 443.55,56.47 443.68,62.74 443.80,67.41 443.93,70.49 444.05,72.21 444.17,72.98 444.30,73.20 444.42,73.22 444.54,73.21 444.67,73.14 444.79,72.76 444.92,71.72 445.04,69.60 445.16,66.06 445.29,60.95 445.41,54.34 445.53,46.62 445.66,38.42 445.78,30.53 445.91,23.80 446.03,19.03 446.15,16.78 446.28,17.32 446.40,20.60 446.52,26.20 446.65,33.45 446.77,41.53 446.90,49.60 447.02,56.91 447.14,62.94 447.27,67.43 447.39,70.38 447.51,72.04 447.64,72.77 447.76,72.98 447.89,73.00 448.01,72.99 448.13,72.92 448.26,72.57 448.38,71.57 448.50,69.54 448.63,66.16 448.75,61.27 448.87,54.95 449.00,47.58 449.12,39.75 449.25,32.22 449.37,25.82 449.49,21.28 449.62,19.16 449.74,19.71 449.86,22.86 449.99,28.22 450.11,35.15 450.24,42.87 450.36,50.57 450.48,57.54 450.61,63.28 450.73,67.54 450.85,70.35 450.98,71.92 451.10,72.62 451.23,72.82 451.35,72.84 451.47,72.84 451.60,72.78 451.72,72.44 451.84,71.51 451.97,69.60 452.09,66.42 452.22,61.83 452.34,55.91 452.46,49.00 452.59,41.67 452.71,34.64 452.83,28.66 452.96,24.44 453.08,22.49 453.21,23.03 453.33,26.00 453.45,31.04 453.58,37.54 453.70,44.77 453.82,51.96 453.95,58.48 454.07,63.85 454.20,67.83 454.32,70.46 454.44,71.93 454.57,72.59 454.69,72.78 454.81,72.81 454.94,72.81 455.06,72.75 455.18,72.45 455.31,71.58 455.43,69.80 455.56,66.85 455.68,62.57 455.80,57.06 455.93,50.63 456.05,43.81 456.17,37.27 456.30,31.73 456.42,27.82 456.55,26.02 456.67,26.55 456.79,29.34 456.92,34.05 457.04,40.11 457.16,46.83 457.29,53.52 457.41,59.58 457.54,64.55 457.66,68.25 457.78,70.68 457.91,72.04 458.03,72.65 458.15,72.83 458.28,72.86 458.40,72.86 458.53,72.81 458.65,72.53 458.77,71.74 458.90,70.12 459.02,67.41 459.14,63.51 459.27,58.48 459.39,52.63 459.52,46.43 459.64,40.50 459.76,35.49 459.89,31.97 460.01,30.37 460.13,30.89 460.26,33.46 460.38,37.76 460.50,43.28 460.63,49.39 460.75,55.46 460.88,60.94 461.00,65.45 461.12,68.79 461.25,70.98 461.37,72.21 461.49,72.76 461.62,72.93 461.74,72.95 461.87,72.95 461.99,72.91 462.11,72.66 462.24,71.95 462.36,70.51 462.48,68.09 462.61,64.62 462.73,60.15 462.86,54.95 462.98,49.45 463.10,44.21 463.23,39.79 463.35,36.71 463.47,35.34 463.60,35.84 463.72,38.16 463.85,42.00 463.97,46.91 464.09,52.32 464.22,57.69 464.34,62.52 464.46,66.48 464.59,69.42 464.71,71.34 464.84,72.42 464.96,72.89 465.08,73.04 465.21,73.06 465.33,73.07 465.45,73.03 465.58,72.82 465.70,72.21 465.83,70.97 465.95,68.91 466.07,65.94 466.20,62.14 466.32,57.72 466.44,53.07 466.57,48.65 466.69,44.94 466.81,42.38 466.94,41.27 467.06,41.75 467.19,43.75 467.31,47.03 467.43,51.19 467.56,55.77 467.68,60.30 467.80,64.37 467.93,67.70 468.05,70.16 468.18,71.77 468.30,72.68 468.42,73.08 468.55,73.21 468.67,73.23 468.79,73.23 468.92,73.21 469.04,73.03 469.17,72.53 469.29,71.51 469.41,69.81 469.54,67.36 469.66,64.23 469.78,60.61 469.91,56.81 470.03,53.21 470.16,50.20 470.28,48.15 470.40,47.30 470.53,47.74 470.65,49.44 470.77,52.16 470.90,55.58 471.02,59.33 471.15,63.02 471.27,66.32 471.39,69.01 471.52,70.99 471.64,72.28 471.76,73.00 471.89,73.33 472.01,73.43 472.13,73.45 472.26,73.46 472.38,73.44 472.51,73.31 472.63,72.93 472.75,72.15 472.88,70.86 473.00,69.01 473.12,66.66 473.25,63.97 473.37,61.15 473.50,58.52 473.62,56.36 473.74,54.92 473.87,54.38 473.99,54.80 474.11,56.13 474.24,58.19 474.36,60.74 474.49,63.51 474.61,66.20 474.73,68.59 474.86,70.53 474.98,71.95 475.10,72.87 475.23,73.38 475.35,73.61 475.48,73.68 475.60,73.70 475.72,73.71 475.85,73.70 475.97,73.61 476.09,73.36 476.22,72.84 476.34,72.00 476.47,70.81 476.59,69.30 476.71,67.60 476.84,65.87 476.96,64.28 477.08,63.02 477.21,62.24 477.33,62.06 477.46,62.48 477.58,63.45 477.70,64.84 477.83,66.48 477.95,68.18 478.07,69.78 478.20,71.16 478.32,72.24 478.44,73.00 478.57,73.48 478.69,73.74 478.82,73.85 478.94,73.89 479.06,73.90 479.19,73.91 479.31,73.92 479.43,73.89 479.56,73.81 479.68,73.64 479.81,73.37 479.93,73.00 480.05,72.55 480.18,72.06 480.30,71.56 480.42,71.11 480.55,70.78 480.67,70.60 480.80,70.59 480.92,70.77 481.04,71.10 481.17,71.54 481.29,72.06 481.41,72.63 481.54,73.25 481.66,73.87 481.79,74.45 481.91,74.98 482.03,76.17 482.16,76.12 482.28,76.25 482.40,76.47 482.53,76.70 482.65,76.86 482.78,76.97 482.90,77.13 483.02,77.48 483.15,78.13 483.27,79.20 483.39,80.77 483.52,82.82 483.64,85.28 483.76,87.98 483.89,90.67 484.01,93.09 484.14,94.96 484.26,96.06 484.38,96.26 484.51,95.53 484.63,93.97 484.75,91.76 484.88,89.18 485.00,86.50 485.13,84.01 485.25,81.90 485.37,80.31 485.50,79.26 485.62,78.68 485.74,78.44 485.87,78.40 485.99,78.43 486.12,78.48 486.24,78.55 486.36,78.75 486.49,79.22 486.61,80.16 486.73,81.72 486.86,84.01 486.98,87.00 487.11,90.56 487.23,94.42 487.35,98.24 487.48,101.61 487.60,104.15 487.72,105.56 487.85,105.65 487.97,104.43 488.10,102.03 488.22,98.75 488.34,94.97 488.47,91.11 488.59,87.53 488.71,84.54 488.84,82.28 488.96,80.78 489.09,79.94 489.21,79.58 489.33,79.49 489.46,79.50 489.58,79.54 489.70,79.60 489.83,79.83 489.95,80.43 490.07,81.65 490.20,83.69 490.32,86.66 490.45,90.55 490.57,95.15 490.69,100.13 490.82,105.01 490.94,109.29 491.06,112.47 491.19,114.16 491.31,114.16 491.44,112.47 491.56,109.29 491.68,105.00 491.81,100.10 491.93,95.11 492.05,90.53 492.18,86.70 492.30,83.82 492.43,81.90 492.55,80.83 492.67,80.35 492.80,80.22 492.92,80.23 493.04,80.25 493.17,80.32 493.29,80.58 493.42,81.31 493.54,82.79 493.66,85.27 493.79,88.90 493.91,93.62 494.03,99.21 494.16,105.23 494.28,111.11 494.41,116.23 494.53,120.00 494.65,121.97 494.78,121.88 494.90,119.76 495.02,115.84 495.15,110.62 495.27,104.68 495.39,98.66 495.52,93.14 495.64,88.54 495.77,85.08 495.89,82.79 496.01,81.50 496.14,80.93 496.26,80.77 496.38,80.76 496.51,80.78 496.63,80.85 496.76,81.16 496.88,82.01 497.00,83.73 497.13,86.63 497.25,90.86 497.37,96.36 497.50,102.85 497.62,109.83 497.75,116.63 497.87,122.53 497.99,126.84 498.12,129.06 498.24,128.90 498.36,126.37 498.49,121.80 498.61,115.72 498.74,108.83 498.86,101.87 498.98,95.50 499.11,90.20 499.23,86.23 499.35,83.60 499.48,82.12 499.60,81.46 499.73,81.28 499.85,81.28 499.97,81.30 500.10,81.38 500.22,81.73 500.34,82.69 500.47,84.65 500.59,87.93 500.72,92.70 500.84,98.91 500.96,106.22 501.09,114.06 501.21,121.69 501.33,128.30 501.46,133.11 501.58,135.55 501.70,135.32 501.83,132.44 501.95,127.27 502.08,120.43 502.20,112.70 502.32,104.90 502.45,97.77 502.57,91.85 502.69,87.42 502.82,84.50 502.94,82.85 503.07,82.13 503.19,81.93 503.31,81.93 503.44,81.96 503.56,82.05 503.68,82.45 503.81,83.51 503.93,85.68 504.06,89.30 504.18,94.56 504.30,101.39 504.43,109.43 504.55,118.04 504.67,126.41 504.80,133.63 504.92,138.87 505.05,141.51 505.17,141.21 505.29,138.02 505.42,132.32 505.54,124.80 505.66,116.32 505.79,107.78 505.91,99.99 506.04,93.52 506.16,88.69 506.28,85.49 506.41,83.70 506.53,82.91 506.65,82.69 506.78,82.69 506.90,82.72 507.02,82.82 507.15,83.24 507.27,84.39 507.40,86.73 507.52,90.64 507.64,96.32 507.77,103.68 507.89,112.34 508.01,121.61 508.14,130.60 508.26,138.35 508.39,143.95 508.51,146.75 508.63,146.39 508.76,142.91 508.88,136.76 509.00,128.65 509.13,119.53 509.25,110.35 509.38,101.98 509.50,95.04 509.62,89.86 509.75,86.44 509.87,84.52 509.99,83.67 510.12,83.44 510.24,83.43 510.37,83.46 510.49,83.56 510.61,84.01 510.74,85.23 510.86,87.72 510.98,91.87 511.11,97.90 511.23,105.71 511.36,114.89 511.48,124.70 511.60,134.21 511.73,142.39 511.85,148.30 511.97,151.22 512.10,150.80 512.22,147.09 512.35,140.54 512.47,131.95 512.59,122.29 512.72,112.58 512.84,103.73 512.96,96.41 513.09,90.94 513.21,87.33 513.33,85.30 513.46,84.41 513.58,84.16 513.71,84.15 513.83,84.18 513.95,84.29 514.08,84.75 514.20,86.03 514.32,88.64 514.45,92.99 514.57,99.30 514.70,107.47 514.82,117.06 514.94,127.31 515.07,137.23 515.19,145.75 515.31,151.89 515.44,154.91 515.56,154.43 515.69,150.53 515.81,143.67 515.93,134.69 516.06,124.60 516.18,114.47 516.30,105.25 516.43,97.62 516.55,91.92 516.68,88.16 516.80,86.06 516.92,85.13 517.05,84.87 517.17,84.86 517.29,84.88 517.42,84.99 517.54,85.47 517.67,86.80 517.79,89.49 517.91,93.99 518.04,100.51 518.16,108.95 518.28,118.85 518.41,129.42 518.53,139.65 518.65,148.42 518.78,154.72 518.90,157.81 519.03,157.29 519.15,153.23 519.27,146.14 519.40,136.86 519.52,126.45 519.64,116.02 519.77,106.52 519.89,98.66 520.02,92.80 520.14,88.94 520.26,86.77 520.39,85.82 520.51,85.55 520.63,85.54 520.76,85.56 520.88,85.67 521.01,86.17 521.13,87.52 521.25,90.27 521.38,94.87 521.50,101.53 521.62,110.16 521.75,120.26 521.87,131.04 522.00,141.46 522.12,150.39 522.24,156.80 522.37,159.91 522.49,159.35 522.61,155.19 522.74,147.94 522.86,138.47 522.99,127.85 523.11,117.22 523.23,107.54 523.36,99.55 523.48,93.59 523.60,89.66 523.73,87.46 523.85,86.49 523.98,86.21 524.10,86.20 524.22,86.22 524.35,86.33 524.47,86.83 524.59,88.20 524.72,90.99 524.84,95.64 524.96,102.37 525.09,111.08 525.21,121.29 525.34,132.17 525.46,142.67 525.58,151.67 525.71,158.11 525.83,161.22 525.95,160.63 526.08,156.40 526.20,149.07 526.33,139.50 526.45,128.79 526.57,118.07 526.70,108.32 526.82,100.27 526.94,94.27 527.07,90.32"/>
<polyline class="halo" stroke="#0000ff" points="346.43,106.62 346.56,100.47 346.68,95.39 346.80,91.60 346.93,89.10 347.05,87.69 347.17,87.07 347.30,86.88 347.42,86.85 347.55,86.85 347.67,86.91 347.79,87.21 347.92,88.06 348.04,89.80 348.16,92.71 348.29,96.93 348.41,102.40 348.54,108.79 348.66,115.61 348.78,122.18 348.91,127.80 349.03,131.82 349.15,133.74 349.28,133.33 349.40,130.65 349.52,126.02 349.65,119.99 349.77,113.26 349.90,106.52 350.02,100.40 350.14,95.34 350.27,91.57 350.39,89.09 350.51,87.69 350.64,87.06 350.76,86.88 350.89,86.85 351.01,86.85 351.13,86.91 351.26,87.21 351.38,88.05 351.50,89.77 351.63,92.65 351.75,96.83 351.88,102.22 352.00,108.54 352.12,115.27 352.25,121.76 352.37,127.29 352.49,131.24 352.62,133.12 352.74,132.70 352.87,130.04 352.99,125.45 353.11,119.50 353.24,112.86 353.36,106.21 353.48,100.18 353.61,95.20 353.73,91.49 353.86,89.05 353.98,87.67 354.10,87.06 354.23,86.88 354.35,86.85 354.47,86.85 354.60,86.91 354.72,87.20 354.85,88.02 354.97,89.71 355.09,92.53 355.22,96.61 355.34,101.89 355.46,108.07 355.59,114.64 355.71,120.96 355.83,126.36 355.96,130.19 356.08,132.01 356.21,131.59 356.33,128.97 356.45,124.49 356.58,118.67 356.70,112.19 356.82,105.71 356.95,99.83 357.07,94.98 357.20,91.37 357.32,88.99 357.44,87.65 357.57,87.05 357.69,86.88 357.81,86.85 357.94,86.85 358.06,86.91 358.19,87.19 358.31,87.99 358.43,89.62 358.56,92.35 358.68,96.30 358.80,101.40 358.93,107.37 359.05,113.71 359.18,119.81 359.30,125.01 359.42,128.69 359.55,130.43 359.67,130.00 359.79,127.46 359.92,123.12 360.04,117.50 360.17,111.25 360.29,105.00 360.41,99.34 360.54,94.67 360.66,91.19 360.78,88.90 360.91,87.62 361.03,87.05 361.15,86.87 361.28,86.85 361.40,86.85 361.53,86.90 361.65,87.17 361.77,87.94 361.90,89.50 362.02,92.11 362.14,95.88 362.27,100.75 362.39,106.44 362.52,112.49 362.64,118.30 362.76,123.24 362.89,126.74 363.01,128.37 363.13,127.94 363.26,125.50 363.38,121.36 363.51,116.00 363.63,110.04 363.75,104.09 363.88,98.71 364.00,94.27 364.12,90.97 364.25,88.80 364.37,87.58 364.50,87.04 364.62,86.87 364.74,86.85 364.87,86.85 364.99,86.90 365.11,87.16 365.24,87.88 365.36,89.35 365.49,91.81 365.61,95.37 365.73,99.95 365.86,105.30 365.98,110.98 366.10,116.43 366.23,121.06 366.35,124.33 366.48,125.84 366.60,125.42 366.72,123.11 366.85,119.21 366.97,114.17 367.09,108.57 367.22,102.99 367.34,97.94 367.46,93.79 367.59,90.70 367.71,88.67 367.84,87.53 367.96,87.02 368.08,86.87 368.21,86.85 368.33,86.85 368.45,86.90 368.58,87.14 368.70,87.81 368.83,89.17 368.95,91.46 369.07,94.75 369.20,99.00 369.32,103.95 369.44,109.19 369.57,114.22 369.69,118.49 369.82,121.49 369.94,122.86 370.06,122.45 370.19,120.30 370.31,116.67 370.43,112.01 370.56,106.84 370.68,101.69 370.81,97.04 370.93,93.22 371.05,90.38 371.18,88.52 371.30,87.47 371.42,87.01 371.55,86.87 371.67,86.85 371.80,86.85 371.92,86.89 372.04,87.11 372.17,87.72 372.29,88.97 372.41,91.04 372.54,94.04 372.66,97.90 372.78,102.38 372.91,107.14 373.03,111.68 373.16,115.53 373.28,118.22 373.40,119.44 373.53,119.04 373.65,117.07 373.77,113.78 373.90,109.55 374.02,104.87 374.15,100.22 374.27,96.02 374.39,92.58 374.52,90.02 374.64,88.35 374.76,87.41 374.89,86.99 375.01,86.87 375.14,86.85 375.26,86.85 375.38,86.89 375.51,87.08 375.63,87.63 375.75,88.74 375.88,90.58 376.00,93.24 376.13,96.65 376.25,100.63 376.37,104.82 376.50,108.83 376.62,112.21 376.74,114.56 376.87,115.61 376.99,115.23 377.12,113.46 377.24,110.53 377.36,106.79 377.49,102.66 377.61,98.57 377.73,94.89 377.86,91.86 377.98,89.62 378.11,88.16 378.23,87.34 378.35,86.97 378.48,86.87 378.60,86.85 378.72,86.85 378.85,86.89 378.97,87.05 379.09,87.52 379.22,88.48 379.34,90.07 379.47,92.35 379.59,95.29 379.71,98.69 379.84,102.27 379.96,105.69 380.08,108.55 380.21,110.53 380.33,111.39 380.46,111.03 380.58,109.50 380.70,106.98 380.83,103.78 380.95,100.25 381.07,96.77 381.20,93.64 381.32,91.08 381.45,89.19 381.57,87.95 381.69,87.26 381.82,86.96 381.94,86.86 382.06,86.85 382.19,86.85 382.31,86.88 382.44,87.02 382.56,87.41 382.68,88.20 382.81,89.51 382.93,91.39 383.05,93.80 383.18,96.58 383.30,99.51 383.43,102.28 383.55,104.59 383.67,106.18 383.80,106.84 383.92,106.50 384.04,105.22 384.17,103.14 384.29,100.52 384.41,97.65 384.54,94.83 384.66,92.30 384.79,90.24 384.91,88.72 385.03,87.73 385.16,87.18 385.28,86.93 385.40,86.86 385.53,86.85 385.65,86.85 385.78,86.87 385.90,86.98 386.02,87.29 386.15,87.90 386.27,88.92 386.39,90.37 386.52,92.22 386.64,94.34 386.77,96.56 386.89,98.65 387.01,100.38 387.14,101.54 387.26,101.99 387.38,101.69 387.51,100.67 387.63,99.06 387.76,97.06 387.88,94.89 388.00,92.77 388.13,90.88 388.25,89.34 388.37,88.22 388.50,87.49 388.62,87.09 388.75,86.91 388.87,86.86 388.99,86.85 389.12,86.85 389.24,86.87 389.36,86.94 389.49,87.16 389.61,87.59 389.74,88.29 389.86,89.29 389.98,90.55 390.11,91.99 390.23,93.47 390.35,94.85 390.48,95.96 390.60,96.68 390.72,96.91 390.85,96.65 390.97,95.91 391.10,94.80 391.22,93.45 391.34,92.01 391.47,90.61 391.59,89.39 391.71,88.37 391.84,87.54 391.96,86.91 392.09,86.44 392.21,86.08 392.33,85.79 392.46,85.54 392.58,85.31 392.70,85.11 392.83,84.96 392.95,84.82 393.08,84.64 393.20,84.39 393.32,84.07 393.45,83.67 393.57,83.19 393.69,82.66 393.82,82.11 393.94,81.59 394.07,81.15 394.19,80.82 394.31,80.65 394.44,80.64 394.56,80.79 394.68,81.08 394.81,81.46 394.93,81.87 395.06,82.28 395.18,82.62 395.30,82.88 395.43,83.04 395.55,83.11 395.67,83.11 395.80,83.07 395.92,83.01 396.04,82.95 396.17,82.89 396.29,82.80 396.42,82.64 396.54,82.37 396.66,81.93 396.79,81.31 396.91,80.49 397.03,79.50 397.16,78.42 397.28,77.33 397.41,76.34 397.53,75.55 397.65,75.07 397.78,74.93 397.90,75.17 398.02,75.73 398.15,76.57 398.27,77.56 398.40,78.60 398.52,79.57 398.64,80.39 398.77,81.01 398.89,81.42 399.01,81.64 399.14,81.71 399.26,81.70 399.39,81.66 399.51,81.62 399.63,81.56 399.76,81.46 399.88,81.23 400.00,80.81 400.13,80.12 400.25,79.12 400.38,77.81 400.50,76.26 400.62,74.57 400.75,72.89 400.87,71.40 400.99,70.26 401.12,69.61 401.24,69.53 401.37,70.03 401.49,71.03 401.61,72.43 401.74,74.04 401.86,75.69 401.98,77.22 402.11,78.51 402.23,79.47 402.35,80.10 402.48,80.44 402.60,80.58 402.73,80.60 402.85,80.57 402.97,80.53 403.10,80.48 403.22,80.36 403.34,80.07 403.47,79.52 403.59,78.60 403.72,77.28 403.84,75.54 403.96,73.49 404.09,71.27 404.21,69.09 404.33,67.17 404.46,65.73 404.58,64.94 404.71,64.90 404.83,65.61 404.95,66.98 405.08,68.85 405.20,71.00 405.32,73.19 405.45,75.21 405.57,76.90 405.70,78.16 405.82,79.00 405.94,79.46 406.07,79.65 406.19,79.69 406.31,79.67 406.44,79.64 406.56,79.59 406.69,79.45 406.81,79.10 406.93,78.40 407.06,77.25 407.18,75.57 407.30,73.39 407.43,70.80 407.55,68.00 407.67,65.26 407.80,62.86 407.92,61.08 408.05,60.12 408.17,60.10 408.29,61.03 408.42,62.79 408.54,65.17 408.66,67.89 408.79,70.66 408.91,73.20 409.04,75.33 409.16,76.93 409.28,77.98 409.41,78.57 409.53,78.82 409.65,78.88 409.78,78.86 409.90,78.83 410.03,78.77 410.15,78.61 410.27,78.18 410.40,77.33 410.52,75.91 410.64,73.84 410.77,71.16 410.89,67.98 411.02,64.57 411.14,61.23 411.26,58.32 411.39,56.18 411.51,55.06 411.63,55.10 411.76,56.30 411.88,58.50 412.01,61.44 412.13,64.78 412.25,68.15 412.38,71.25 412.50,73.82 412.62,75.74 412.75,77.01 412.87,77.72 413.00,78.02 413.12,78.09 413.24,78.08 413.37,78.05 413.49,78.00 413.61,77.81 413.74,77.32 413.86,76.35 413.98,74.72 414.11,72.37 414.23,69.31 414.36,65.70 414.48,61.84 414.60,58.07 414.73,54.81 414.85,52.42 414.97,51.20 415.10,51.29 415.22,52.68 415.35,55.20 415.47,58.54 415.59,62.33 415.72,66.15 415.84,69.64 415.96,72.54 416.09,74.71 416.21,76.15 416.34,76.95 416.46,77.29 416.58,77.38 416.71,77.37 416.83,77.34 416.95,77.28 417.08,77.08 417.20,76.54 417.33,75.45 417.45,73.64 417.57,71.02 417.70,67.61 417.82,63.60 417.94,59.30 418.07,55.12 418.19,51.50 418.32,48.86 418.44,47.52 418.56,47.64 418.69,49.21 418.81,52.02 418.93,55.75 419.06,59.97 419.18,64.21 419.30,68.10 419.43,71.32 419.55,73.73 419.68,75.32 419.80,76.21 419.92,76.59 420.05,76.69 420.17,76.68 420.29,76.66 420.42,76.59 420.54,76.37 420.67,75.78 420.79,74.58 420.91,72.59 421.04,69.71 421.16,65.96 421.28,61.56 421.41,56.84 421.53,52.26 421.66,48.31 421.78,45.45 421.90,44.01 422.03,44.17 422.15,45.91 422.27,49.02 422.40,53.13 422.52,57.75 422.65,62.40 422.77,66.64 422.89,70.15 423.02,72.77 423.14,74.50 423.26,75.46 423.39,75.88 423.51,75.99 423.64,75.98 423.76,75.95 423.88,75.89 424.01,75.65 424.13,75.01 424.25,73.73 424.38,71.61 424.50,68.53 424.63,64.54 424.75,59.86 424.87,54.85 425.00,50.00 425.12,45.82 425.24,42.80 425.37,41.30 425.49,41.50 425.61,43.37 425.74,46.69 425.86,51.05 425.99,55.96 426.11,60.88 426.23,65.38 426.36,69.09 426.48,71.87 426.60,73.69 426.73,74.71 426.85,75.15 426.98,75.27 427.10,75.26 427.22,75.24 427.35,75.17 427.47,74.92 427.59,74.26 427.72,72.92 427.84,70.69 427.97,67.46 428.09,63.29 428.21,58.39 428.34,53.15 428.46,48.08 428.58,43.73 428.71,40.59 428.83,39.04 428.96,39.26 429.08,41.24 429.20,44.73 429.33,49.30 429.45,54.43 429.57,59.58 429.70,64.28 429.82,68.16 429.95,71.06 430.07,72.97 430.19,74.04 430.32,74.50 430.44,74.63 430.56,74.63 430.69,74.61 430.81,74.55 430.93,74.29 431.06,73.61 431.18,72.23 431.31,69.92 431.43,66.58 431.55,62.25 431.68,57.19 431.80,51.77 431.92,46.54 432.05,42.05 432.17,38.83 432.30,37.25 432.42,37.52 432.54,39.59 432.67,43.22 432.79,47.96 432.91,53.28 433.04,58.61 433.16,63.46 433.29,67.47 433.41,70.46 433.53,72.43 433.66,73.54 433.78,74.02 433.90,74.16 434.03,74.16 434.15,74.14 434.28,74.09 434.40,73.83 434.52,73.14 434.65,71.73 434.77,69.38 434.89,65.99 435.02,61.59 435.14,56.44 435.27,50.94 435.39,45.64 435.51,41.09 435.64,37.83 435.76,36.25 435.88,36.54 436.01,38.67 436.13,42.36 436.26,47.19 436.38,52.59 436.50,58.00 436.63,62.92 436.75,66.99 436.87,70.02 437.00,72.02 437.12,73.14 437.24,73.63 437.37,73.77 437.49,73.77 437.62,73.76 437.74,73.70 437.86,73.45 437.99,72.75 438.11,71.34 438.23,68.97 438.36,65.55 438.48,61.13 438.61,55.94 438.73,50.42 438.85,45.08 438.98,40.52 439.10,37.25 439.22,35.68 439.35,35.99 439.47,38.14 439.60,41.87 439.72,46.74 439.84,52.18 439.97,57.62 440.09,62.57 440.21,66.65 440.34,69.69 440.46,71.69 440.59,72.81 440.71,73.31 440.83,73.45 440.96,73.46 441.08,73.45 441.20,73.40 441.33,73.15 441.45,72.46 441.58,71.06 441.70,68.73 441.82,65.36 441.95,61.00 442.07,55.90 442.19,50.48 442.32,45.26 442.44,40.80 442.57,37.63 442.69,36.11 442.81,36.45 442.94,38.60 443.06,42.28 443.18,47.07 443.31,52.41 443.43,57.74 443.55,62.58 443.68,66.57 443.80,69.54 443.93,71.49 444.05,72.59 444.17,73.07 444.30,73.21 444.42,73.22 444.54,73.21 444.67,73.16 444.79,72.92 444.92,72.26 445.04,70.90 445.16,68.65 445.29,65.39 445.41,61.19 445.53,56.27 445.66,51.05 445.78,46.02 445.91,41.74 446.03,38.70 446.15,37.27 446.28,37.61 446.40,39.69 446.52,43.25 446.65,47.86 446.77,53.00 446.90,58.13 447.02,62.79 447.14,66.62 447.27,69.47 447.39,71.34 447.51,72.39 447.64,72.86 447.76,72.99 447.89,73.00 448.01,72.99 448.13,72.95 448.26,72.72 448.38,72.08 448.50,70.79 448.63,68.63 448.75,65.52 448.87,61.50 449.00,56.81 449.12,51.82 449.25,47.03 449.37,42.95 449.49,40.06 449.62,38.71 449.74,39.06 449.86,41.06 449.99,44.47 450.11,48.88 450.24,53.79 450.36,58.68 450.48,63.12 450.61,66.77 450.73,69.48 450.85,71.26 450.98,72.26 451.10,72.70 451.23,72.83 451.35,72.84 451.47,72.84 451.60,72.80 451.72,72.59 451.84,71.99 451.97,70.78 452.09,68.75 452.22,65.83 452.34,62.06 452.46,57.67 452.59,53.00 452.71,48.52 452.83,44.72 452.96,42.04 453.08,40.79 453.21,41.14 453.33,43.03 453.45,46.23 453.58,50.37 453.70,54.96 453.82,59.55 453.95,63.69 454.07,67.11 454.20,69.64 454.32,71.31 454.44,72.25 454.57,72.67 454.69,72.79 454.81,72.81 454.94,72.81 455.06,72.77 455.18,72.58 455.31,72.03 455.43,70.90 455.56,69.02 455.68,66.30 455.80,62.79 455.93,58.70 456.05,54.36 456.17,50.20 456.30,46.68 456.42,44.19 456.55,43.05 456.67,43.39 456.79,45.16 456.92,48.16 457.04,52.01 457.16,56.29 457.29,60.55 457.41,64.40 457.54,67.57 457.66,69.92 457.78,71.47 457.91,72.34 458.03,72.72 458.15,72.84 458.28,72.86 458.40,72.86 458.53,72.83 458.65,72.65 458.77,72.15 458.90,71.12 459.02,69.40 459.14,66.92 459.27,63.72 459.39,60.00 459.52,56.06 459.64,52.28 459.76,49.09 459.89,46.86 460.01,45.84 460.13,46.17 460.26,47.81 460.38,50.55 460.50,54.06 460.63,57.95 460.75,61.81 460.88,65.30 461.00,68.17 461.12,70.29 461.25,71.69 461.37,72.48 461.49,72.83 461.62,72.93 461.74,72.95 461.87,72.95 461.99,72.93 462.11,72.77 462.24,72.32 462.36,71.40 462.48,69.87 462.61,67.66 462.73,64.81 462.86,61.51 462.98,58.01 463.10,54.68 463.23,51.87 463.35,49.91 463.47,49.04 463.60,49.36 463.72,50.84 463.85,53.28 463.97,56.41 464.09,59.85 464.22,63.27 464.34,66.35 464.46,68.87 464.59,70.74 464.71,71.96 464.84,72.65 464.96,72.95 465.08,73.05 465.21,73.06 465.33,73.07 465.45,73.05 465.58,72.91 465.70,72.53 465.83,71.74 465.95,70.43 466.07,68.54 466.20,66.12 466.32,63.32 466.44,60.36 466.57,57.55 466.69,55.19 466.81,53.57 466.94,52.86 467.06,53.17 467.19,54.44 467.31,56.53 467.43,59.18 467.56,62.10 467.68,64.98 467.80,67.57 467.93,69.69 468.05,71.26 468.18,72.29 468.30,72.87 468.42,73.13 468.55,73.21 468.67,73.23 468.79,73.23 468.92,73.22 469.04,73.11 469.17,72.80 469.29,72.15 469.41,71.07 469.54,69.51 469.66,67.53 469.78,65.23 469.91,62.81 470.03,60.52 470.16,58.61 470.28,57.31 470.40,56.77 470.53,57.06 470.65,58.13 470.77,59.87 470.90,62.05 471.02,64.44 471.15,66.79 471.27,68.89 471.39,70.61 471.52,71.87 471.64,72.69 471.76,73.16 471.89,73.37 472.01,73.43 472.13,73.45 472.26,73.46 472.38,73.45 472.51,73.37 472.63,73.13 472.75,72.64 472.88,71.82 473.00,70.65 473.12,69.16 473.25,67.44 473.37,65.66 473.50,63.99 473.62,62.61 473.74,61.70 473.87,61.36 473.99,61.63 474.11,62.48 474.24,63.79 474.36,65.42 474.49,67.18 474.61,68.90 474.73,70.43 474.86,71.66 474.98,72.57 475.10,73.16 475.23,73.48 475.35,73.63 475.48,73.68 475.60,73.70 475.72,73.71 475.85,73.70 475.97,73.65 476.09,73.49 476.22,73.17 476.34,72.64 476.47,71.88 476.59,70.93 476.71,69.85 476.84,68.74 476.96,67.73 477.08,66.93 477.21,66.44 477.33,66.33 477.46,66.60 477.58,67.22 477.70,68.10 477.83,69.15 477.95,70.24 478.07,71.26 478.20,72.14 478.32,72.83 478.44,73.31 478.57,73.62 478.69,73.79 478.82,73.86 478.94,73.89 479.06,73.90 479.19,73.91 479.31,73.92 479.43,73.91 479.56,73.86 479.68,73.76 479.81,73.59 479.93,73.36 480.05,73.08 480.18,72.77 480.30,72.46 480.42,72.18 480.55,71.98 480.67,71.87 480.80,71.87 480.92,71.99 481.04,72.21 481.17,72.50 481.29,72.84 481.41,73.23 481.54,73.68 481.66,74.15 481.79,74.62 481.91,75.07 482.03,75.95 482.16,76.03 482.28,76.23 482.40,76.47 482.53,76.70 482.65,76.86 482.78,76.96 482.90,77.09 483.02,77.33 483.15,77.77 483.27,78.48 483.39,79.50 483.52,80.83 483.64,82.42 483.76,84.16 483.89,85.89 484.01,87.45 484.14,88.66 484.26,89.38 484.38,89.53 484.51,89.09 484.63,88.12 484.75,86.73 484.88,85.10 485.00,83.42 485.13,81.85 485.25,80.53 485.37,79.54 485.50,78.89 485.62,78.54 485.74,78.40 485.87,78.39 485.99,78.43 486.12,78.48 486.24,78.54 486.36,78.68 486.49,79.00 486.61,79.61 486.73,80.63 486.86,82.09 486.98,84.01 487.11,86.29 487.23,88.77 487.35,91.21 487.48,93.37 487.60,95.00 487.72,95.91 487.85,95.98 487.97,95.22 488.10,93.70 488.22,91.63 488.34,89.24 488.47,86.79 488.59,84.53 488.71,82.64 488.84,81.21 488.96,80.27 489.09,79.75 489.21,79.53 489.33,79.48 489.46,79.50 489.58,79.54 489.70,79.59 489.83,79.75 489.95,80.14 490.07,80.92 490.20,82.23 490.32,84.13 490.45,86.61 490.57,89.55 490.69,92.73 490.82,95.85 490.94,98.58 491.06,100.61 491.19,101.70 491.31,101.71 491.44,100.64 491.56,98.63 491.68,95.91 491.81,92.80 491.93,89.63 492.05,86.72 492.18,84.30 492.30,82.47 492.43,81.26 492.55,80.58 492.67,80.29 492.80,80.22 492.92,80.23 493.04,80.25 493.17,80.30 493.29,80.48 493.42,80.95 493.54,81.90 493.66,83.48 493.79,85.80 493.91,88.81 494.03,92.37 494.16,96.21 494.28,99.96 494.41,103.22 494.53,105.63 494.65,106.89 494.78,106.84 494.90,105.49 495.02,103.01 495.15,99.69 495.27,95.92 495.39,92.10 495.52,88.59 495.64,85.67 495.77,83.48 495.89,82.03 496.01,81.21 496.14,80.86 496.26,80.76 496.38,80.76 496.51,80.78 496.63,80.83 496.76,81.04 496.88,81.58 497.00,82.69 497.13,84.54 497.25,87.23 497.37,90.74 497.50,94.87 497.62,99.32 497.75,103.65 497.87,107.41 497.99,110.17 498.12,111.58 498.24,111.49 498.36,109.89 498.49,106.98 498.61,103.12 498.74,98.74 498.86,94.32 498.98,90.28 499.11,86.91 499.23,84.39 499.35,82.73 499.48,81.79 499.60,81.38 499.73,81.27 499.85,81.28 499.97,81.30 500.10,81.35 500.22,81.59 500.34,82.20 500.47,83.46 500.59,85.55 500.72,88.60 500.84,92.55 500.96,97.21 501.09,102.21 501.21,107.08 501.33,111.28 501.46,114.35 501.58,115.92 501.70,115.78 501.83,113.96 501.95,110.67 502.08,106.33 502.20,101.42 502.32,96.47 502.45,91.94 502.57,88.18 502.69,85.38 502.82,83.52 502.94,82.49 503.07,82.04 503.19,81.92 503.31,81.93 503.44,81.96 503.56,82.03 503.68,82.29 503.81,82.98 503.93,84.36 504.06,86.68 504.18,90.04 504.30,94.39 504.43,99.52 504.55,105.01 504.67,110.34 504.80,114.94 504.92,118.29 505.05,119.98 505.17,119.80 505.29,117.77 505.42,114.16 505.54,109.38 505.66,104.00 505.79,98.58 505.91,93.63 506.04,89.52 506.16,86.46 506.28,84.43 506.41,83.30 506.53,82.81 506.65,82.68 506.78,82.69 506.90,82.72 507.02,82.79 507.15,83.07 507.27,83.81 507.40,85.31 507.52,87.81 507.64,91.43 507.77,96.13 507.89,101.64 508.01,107.55 508.14,113.28 508.26,118.22 508.39,121.79 508.51,123.58 508.63,123.36 508.76,121.16 508.88,117.25 509.00,112.11 509.13,106.31 509.25,100.48 509.38,95.16 509.50,90.76 509.62,87.47 509.75,85.31 509.87,84.09 509.99,83.56 510.12,83.42 510.24,83.43 510.37,83.46 510.49,83.53 510.61,83.83 510.74,84.61 510.86,86.20 510.98,88.86 511.11,92.70 511.23,97.68 511.36,103.53 511.48,109.78 511.60,115.84 511.73,121.06 511.85,124.82 511.97,126.69 512.10,126.44 512.22,124.08 512.35,119.93 512.47,114.47 512.59,108.33 512.72,102.17 512.84,96.55 512.96,91.89 513.09,88.42 513.21,86.14 513.33,84.86 513.46,84.30 513.58,84.15 513.71,84.15 513.83,84.18 513.95,84.26 514.08,84.56 514.20,85.39 514.32,87.05 514.45,89.83 514.57,93.85 514.70,99.06 514.82,105.17 514.94,111.70 515.07,118.02 515.19,123.45 515.31,127.37 515.44,129.30 515.56,129.01 515.69,126.53 515.81,122.18 515.93,116.47 516.06,110.06 516.18,103.63 516.30,97.77 516.43,92.92 516.55,89.31 516.68,86.92 516.80,85.59 516.92,85.01 517.05,84.85 517.17,84.86 517.29,84.88 517.42,84.96 517.54,85.28 517.67,86.13 517.79,87.85 517.91,90.72 518.04,94.88 518.16,100.26 518.28,106.57 518.41,113.30 518.53,119.81 518.65,125.40 518.78,129.43 518.90,131.40 519.03,131.07 519.15,128.50 519.27,124.00 519.40,118.10 519.52,111.49 519.64,104.86 519.77,98.83 519.89,93.84 520.02,90.12 520.14,87.67 520.26,86.30 520.39,85.70 520.51,85.54 520.63,85.54 520.76,85.56 520.88,85.64 521.01,85.96 521.13,86.83 521.25,88.59 521.38,91.53 521.50,95.78 521.62,101.27 521.75,107.71 521.87,114.58 522.00,121.21 522.12,126.90 522.24,130.99 522.37,132.98 522.49,132.63 522.61,129.99 522.74,125.39 522.86,119.37 522.99,112.62 523.11,105.86 523.23,99.72 523.36,94.64 523.48,90.86 523.60,88.37 523.73,86.97 523.85,86.36 523.98,86.20 524.10,86.20 524.22,86.22 524.35,86.30 524.47,86.63 524.59,87.51 524.72,89.29 524.84,92.25 524.96,96.55 525.09,102.10 525.21,108.60 525.34,115.53 525.46,122.22 525.58,127.95 525.71,132.06 525.83,134.05 525.95,133.68 526.08,131.00 526.20,126.34 526.33,120.26 526.45,113.46 526.57,106.64 526.70,100.45 526.82,95.33 526.94,91.52 527.07,89.02"/><polyline class="ln" stroke="#0000ff" points="346.43,106.62 346.56,100.47 346.68,95.39 346.80,91.60 346.93,89.10 347.05,87.69 347.17,87.07 347.30,86.88 347.42,86.85 347.55,86.85 347.67,86.91 347.79,87.21 347.92,88.06 348.04,89.80 348.16,92.71 348.29,96.93 348.41,102.40 348.54,108.79 348.66,115.61 348.78,122.18 348.91,127.80 349.03,131.82 349.15,133.74 349.28,133.33 349.40,130.65 349.52,126.02 349.65,119.99 349.77,113.26 349.90,106.52 350.02,100.40 350.14,95.34 350.27,91.57 350.39,89.09 350.51,87.69 350.64,87.06 350.76,86.88 350.89,86.85 351.01,86.85 351.13,86.91 351.26,87.21 351.38,88.05 351.50,89.77 351.63,92.65 351.75,96.83 351.88,102.22 352.00,108.54 352.12,115.27 352.25,121.76 352.37,127.29 352.49,131.24 352.62,133.12 352.74,132.70 352.87,130.04 352.99,125.45 353.11,119.50 353.24,112.86 353.36,106.21 353.48,100.18 353.61,95.20 353.73,91.49 353.86,89.05 353.98,87.67 354.10,87.06 354.23,86.88 354.35,86.85 354.47,86.85 354.60,86.91 354.72,87.20 354.85,88.02 354.97,89.71 355.09,92.53 355.22,96.61 355.34,101.89 355.46,108.07 355.59,114.64 355.71,120.96 355.83,126.36 355.96,130.19 356.08,132.01 356.21,131.59 356.33,128.97 356.45,124.49 356.58,118.67 356.70,112.19 356.82,105.71 356.95,99.83 357.07,94.98 357.20,91.37 357.32,88.99 357.44,87.65 357.57,87.05 357.69,86.88 357.81,86.85 357.94,86.85 358.06,86.91 358.19,87.19 358.31,87.99 358.43,89.62 358.56,92.35 358.68,96.30 358.80,101.40 358.93,107.37 359.05,113.71 359.18,119.81 359.30,125.01 359.42,128.69 359.55,130.43 359.67,130.00 359.79,127.46 359.92,123.12 360.04,117.50 360.17,111.25 360.29,105.00 360.41,99.34 360.54,94.67 360.66,91.19 360.78,88.90 360.91,87.62 361.03,87.05 361.15,86.87 361.28,86.85 361.40,86.85 361.53,86.90 361.65,87.17 361.77,87.94 361.90,89.50 362.02,92.11 362.14,95.88 362.27,100.75 362.39,106.44 362.52,112.49 362.64,118.30 362.76,123.24 362.89,126.74 363.01,128.37 363.13,127.94 363.26,125.50 363.38,121.36 363.51,116.00 363.63,110.04 363.75,104.09 363.88,98.71 364.00,94.27 364.12,90.97 364.25,88.80 364.37,87.58 364.50,87.04 364.62,86.87 364.74,86.85 364.87,86.85 364.99,86.90 365.11,87.16 365.24,87.88 365.36,89.35 365.49,91.81 365.61,95.37 365.73,99.95 365.86,105.30 365.98,110.98 366.10,116.43 366.23,121.06 366.35,124.33 366.48,125.84 366.60,125.42 366.72,123.11 366.85,119.21 366.97,114.17 367.09,108.57 367.22,102.99 367.34,97.94 367.46,93.79 367.59,90.70 367.71,88.67 367.84,87.53 367.96,87.02 368.08,86.87 368.21,86.85 368.33,86.85 368.45,86.90 368.58,87.14 368.70,87.81 368.83,89.17 368.95,91.46 369.07,94.75 369.20,99.00 369.32,103.95 369.44,109.19 369.57,114.22 369.69,118.49 369.82,121.49 369.94,122.86 370.06,122.45 370.19,120.30 370.31,116.67 370.43,112.01 370.56,106.84 370.68,101.69 370.81,97.04 370.93,93.22 371.05,90.38 371.18,88.52 371.30,87.47 371.42,87.01 371.55,86.87 371.67,86.85 371.80,86.85 371.92,86.89 372.04,87.11 372.17,87.72 372.29,88.97 372.41,91.04 372.54,94.04 372.66,97.90 372.78,102.38 372.91,107.14 373.03,111.68 373.16,115.53 373.28,118.22 373.40,119.44 373.53,119.04 373.65,117.07 373.77,113.78 373.90,109.55 374.02,104.87 374.15,100.22 374.27,96.02 374.39,92.58 374.52,90.02 374.64,88.35 374.76,87.41 374.89,86.99 375.01,86.87 375.14,86.85 375.26,86.85 375.38,86.89 375.51,87.08 375.63,87.63 375.75,88.74 375.88,90.58 376.00,93.24 376.13,96.65 376.25,100.63 376.37,104.82 376.50,108.83 376.62,112.21 376.74,114.56 376.87,115.61 376.99,115.23 377.12,113.46 377.24,110.53 377.36,106.79 377.49,102.66 377.61,98.57 377.73,94.89 377.86,91.86 377.98,89.62 378.11,88.16 378.23,87.34 378.35,86.97 378.48,86.87 378.60,86.85 378.72,86.85 378.85,86.89 378.97,87.05 379.09,87.52 379.22,88.48 379.34,90.07 379.47,92.35 379.59,95.29 379.71,98.69 379.84,102.27 379.96,105.69 380.08,108.55 380.21,110.53 380.33,111.39 380.46,111.03 380.58,109.50 380.70,106.98 380.83,103.78 380.95,100.25 381.07,96.77 381.20,93.64 381.32,91.08 381.45,89.19 381.57,87.95 381.69,87.26 381.82,86.96 381.94,86.86 382.06,86.85 382.19,86.85 382.31,86.88 382.44,87.02 382.56,87.41 382.68,88.20 382.81,89.51 382.93,91.39 383.05,93.80 383.18,96.58 383.30,99.51 383.43,102.28 383.55,104.59 383.67,106.18 383.80,106.84 383.92,106.50 384.04,105.22 384.17,103.14 384.29,100.52 384.41,97.65 384.54,94.83 384.66,92.30 384.79,90.24 384.91,88.72 385.03,87.73 385.16,87.18 385.28,86.93 385.40,86.86 385.53,86.85 385.65,86.85 385.78,86.87 385.90,86.98 386.02,87.29 386.15,87.90 386.27,88.92 386.39,90.37 386.52,92.22 386.64,94.34 386.77,96.56 386.89,98.65 387.01,100.38 387.14,101.54 387.26,101.99 387.38,101.69 387.51,100.67 387.63,99.06 387.76,97.06 387.88,94.89 388.00,92.77 388.13,90.88 388.25,89.34 388.37,88.22 388.50,87.49 388.62,87.09 388.75,86.91 388.87,86.86 388.99,86.85 389.12,86.85 389.24,86.87 389.36,86.94 389.49,87.16 389.61,87.59 389.74,88.29 389.86,89.29 389.98,90.55 390.11,91.99 390.23,93.47 390.35,94.85 390.48,95.96 390.60,96.68 390.72,96.91 390.85,96.65 390.97,95.91 391.10,94.80 391.22,93.45 391.34,92.01 391.47,90.61 391.59,89.39 391.71,88.37 391.84,87.54 391.96,86.91 392.09,86.44 392.21,86.08 392.33,85.79 392.46,85.54 392.58,85.31 392.70,85.11 392.83,84.96 392.95,84.82 393.08,84.64 393.20,84.39 393.32,84.07 393.45,83.67 393.57,83.19 393.69,82.66 393.82,82.11 393.94,81.59 394.07,81.15 394.19,80.82 394.31,80.65 394.44,80.64 394.56,80.79 394.68,81.08 394.81,81.46 394.93,81.87 395.06,82.28 395.18,82.62 395.30,82.88 395.43,83.04 395.55,83.11 395.67,83.11 395.80,83.07 395.92,83.01 396.04,82.95 396.17,82.89 396.29,82.80 396.42,82.64 396.54,82.37 396.66,81.93 396.79,81.31 396.91,80.49 397.03,79.50 397.16,78.42 397.28,77.33 397.41,76.34 397.53,75.55 397.65,75.07 397.78,74.93 397.90,75.17 398.02,75.73 398.15,76.57 398.27,77.56 398.40,78.60 398.52,79.57 398.64,80.39 398.77,81.01 398.89,81.42 399.01,81.64 399.14,81.71 399.26,81.70 399.39,81.66 399.51,81.62 399.63,81.56 399.76,81.46 399.88,81.23 400.00,80.81 400.13,80.12 400.25,79.12 400.38,77.81 400.50,76.26 400.62,74.57 400.75,72.89 400.87,71.40 400.99,70.26 401.12,69.61 401.24,69.53 401.37,70.03 401.49,71.03 401.61,72.43 401.74,74.04 401.86,75.69 401.98,77.22 402.11,78.51 402.23,79.47 402.35,80.10 402.48,80.44 402.60,80.58 402.73,80.60 402.85,80.57 402.97,80.53 403.10,80.48 403.22,80.36 403.34,80.07 403.47,79.52 403.59,78.60 403.72,77.28 403.84,75.54 403.96,73.49 404.09,71.27 404.21,69.09 404.33,67.17 404.46,65.73 404.58,64.94 404.71,64.90 404.83,65.61 404.95,66.98 405.08,68.85 405.20,71.00 405.32,73.19 405.45,75.21 405.57,76.90 405.70,78.16 405.82,79.00 405.94,79.46 406.07,79.65 406.19,79.69 406.31,79.67 406.44,79.64 406.56,79.59 406.69,79.45 406.81,79.10 406.93,78.40 407.06,77.25 407.18,75.57 407.30,73.39 407.43,70.80 407.55,68.00 407.67,65.26 407.80,62.86 407.92,61.08 408.05,60.12 408.17,60.10 408.29,61.03 408.42,62.79 408.54,65.17 408.66,67.89 408.79,70.66 408.91,73.20 409.04,75.33 409.16,76.93 409.28,77.98 409.41,78.57 409.53,78.82 409.65,78.88 409.78,78.86 409.90,78.83 410.03,78.77 410.15,78.61 410.27,78.18 410.40,77.33 410.52,75.91 410.64,73.84 410.77,71.16 410.89,67.98 411.02,64.57 411.14,61.23 411.26,58.32 411.39,56.18 411.51,55.06 411.63,55.10 411.76,56.30 411.88,58.50 412.01,61.44 412.13,64.78 412.25,68.15 412.38,71.25 412.50,73.82 412.62,75.74 412.75,77.01 412.87,77.72 413.00,78.02 413.12,78.09 413.24,78.08 413.37,78.05 413.49,78.00 413.61,77.81 413.74,77.32 413.86,76.35 413.98,74.72 414.11,72.37 414.23,69.31 414.36,65.70 414.48,61.84 414.60,58.07 414.73,54.81 414.85,52.42 414.97,51.20 415.10,51.29 415.22,52.68 415.35,55.20 415.47,58.54 415.59,62.33 415.72,66.15 415.84,69.64 415.96,72.54 416.09,74.71 416.21,76.15 416.34,76.95 416.46,77.29 416.58,77.38 416.71,77.37 416.83,77.34 416.95,77.28 417.08,77.08 417.20,76.54 417.33,75.45 417.45,73.64 417.57,71.02 417.70,67.61 417.82,63.60 417.94,59.30 418.07,55.12 418.19,51.50 418.32,48.86 418.44,47.52 418.56,47.64 418.69,49.21 418.81,52.02 418.93,55.75 419.06,59.97 419.18,64.21 419.30,68.10 419.43,71.32 419.55,73.73 419.68,75.32 419.80,76.21 419.92,76.59 420.05,76.69 420.17,76.68 420.29,76.66 420.42,76.59 420.54,76.37 420.67,75.78 420.79,74.58 420.91,72.59 421.04,69.71 421.16,65.96 421.28,61.56 421.41,56.84 421.53,52.26 421.66,48.31 421.78,45.45 421.90,44.01 422.03,44.17 422.15,45.91 422.27,49.02 422.40,53.13 422.52,57.75 422.65,62.40 422.77,66.64 422.89,70.15 423.02,72.77 423.14,74.50 423.26,75.46 423.39,75.88 423.51,75.99 423.64,75.98 423.76,75.95 423.88,75.89 424.01,75.65 424.13,75.01 424.25,73.73 424.38,71.61 424.50,68.53 424.63,64.54 424.75,59.86 424.87,54.85 425.00,50.00 425.12,45.82 425.24,42.80 425.37,41.30 425.49,41.50 425.61,43.37 425.74,46.69 425.86,51.05 425.99,55.96 426.11,60.88 426.23,65.38 426.36,69.09 426.48,71.87 426.60,73.69 426.73,74.71 426.85,75.15 426.98,75.27 427.10,75.26 427.22,75.24 427.35,75.17 427.47,74.92 427.59,74.26 427.72,72.92 427.84,70.69 427.97,67.46 428.09,63.29 428.21,58.39 428.34,53.15 428.46,48.08 428.58,43.73 428.71,40.59 428.83,39.04 428.96,39.26 429.08,41.24 429.20,44.73 429.33,49.30 429.45,54.43 429.57,59.58 429.70,64.28 429.82,68.16 429.95,71.06 430.07,72.97 430.19,74.04 430.32,74.50 430.44,74.63 430.56,74.63 430.69,74.61 430.81,74.55 430.93,74.29 431.06,73.61 431.18,72.23 431.31,69.92 431.43,66.58 431.55,62.25 431.68,57.19 431.80,51.77 431.92,46.54 432.05,42.05 432.17,38.83 432.30,37.25 432.42,37.52 432.54,39.59 432.67,43.22 432.79,47.96 432.91,53.28 433.04,58.61 433.16,63.46 433.29,67.47 433.41,70.46 433.53,72.43 433.66,73.54 433.78,74.02 433.90,74.16 434.03,74.16 434.15,74.14 434.28,74.09 434.40,73.83 434.52,73.14 434.65,71.73 434.77,69.38 434.89,65.99 435.02,61.59 435.14,56.44 435.27,50.94 435.39,45.64 435.51,41.09 435.64,37.83 435.76,36.25 435.88,36.54 436.01,38.67 436.13,42.36 436.26,47.19 436.38,52.59 436.50,58.00 436.63,62.92 436.75,66.99 436.87,70.02 437.00,72.02 437.12,73.14 437.24,73.63 437.37,73.77 437.49,73.77 437.62,73.76 437.74,73.70 437.86,73.45 437.99,72.75 438.11,71.34 438.23,68.97 438.36,65.55 438.48,61.13 438.61,55.94 438.73,50.42 438.85,45.08 438.98,40.52 439.10,37.25 439.22,35.68 439.35,35.99 439.47,38.14 439.60,41.87 439.72,46.74 439.84,52.18 439.97,57.62 440.09,62.57 440.21,66.65 440.34,69.69 440.46,71.69 440.59,72.81 440.71,73.31 440.83,73.45 440.96,73.46 441.08,73.45 441.20,73.40 441.33,73.15 441.45,72.46 441.58,71.06 441.70,68.73 441.82,65.36 441.95,61.00 442.07,55.90 442.19,50.48 442.32,45.26 442.44,40.80 442.57,37.63 442.69,36.11 442.81,36.45 442.94,38.60 443.06,42.28 443.18,47.07 443.31,52.41 443.43,57.74 443.55,62.58 443.68,66.57 443.80,69.54 443.93,71.49 444.05,72.59 444.17,73.07 444.30,73.21 444.42,73.22 444.54,73.21 444.67,73.16 444.79,72.92 444.92,72.26 445.04,70.90 445.16,68.65 445.29,65.39 445.41,61.19 445.53,56.27 445.66,51.05 445.78,46.02 445.91,41.74 446.03,38.70 446.15,37.27 446.28,37.61 446.40,39.69 446.52,43.25 446.65,47.86 446.77,53.00 446.90,58.13 447.02,62.79 447.14,66.62 447.27,69.47 447.39,71.34 447.51,72.39 447.64,72.86 447.76,72.99 447.89,73.00 448.01,72.99 448.13,72.95 448.26,72.72 448.38,72.08 448.50,70.79 448.63,68.63 448.75,65.52 448.87,61.50 449.00,56.81 449.12,51.82 449.25,47.03 449.37,42.95 449.49,40.06 449.62,38.71 449.74,39.06 449.86,41.06 449.99,44.47 450.11,48.88 450.24,53.79 450.36,58.68 450.48,63.12 450.61,66.77 450.73,69.48 450.85,71.26 450.98,72.26 451.10,72.70 451.23,72.83 451.35,72.84 451.47,72.84 451.60,72.80 451.72,72.59 451.84,71.99 451.97,70.78 452.09,68.75 452.22,65.83 452.34,62.06 452.46,57.67 452.59,53.00 452.71,48.52 452.83,44.72 452.96,42.04 453.08,40.79 453.21,41.14 453.33,43.03 453.45,46.23 453.58,50.37 453.70,54.96 453.82,59.55 453.95,63.69 454.07,67.11 454.20,69.64 454.32,71.31 454.44,72.25 454.57,72.67 454.69,72.79 454.81,72.81 454.94,72.81 455.06,72.77 455.18,72.58 455.31,72.03 455.43,70.90 455.56,69.02 455.68,66.30 455.80,62.79 455.93,58.70 456.05,54.36 456.17,50.20 456.30,46.68 456.42,44.19 456.55,43.05 456.67,43.39 456.79,45.16 456.92,48.16 457.04,52.01 457.16,56.29 457.29,60.55 457.41,64.40 457.54,67.57 457.66,69.92 457.78,71.47 457.91,72.34 458.03,72.72 458.15,72.84 458.28,72.86 458.40,72.86 458.53,72.83 458.65,72.65 458.77,72.15 458.90,71.12 459.02,69.40 459.14,66.92 459.27,63.72 459.39,60.00 459.52,56.06 459.64,52.28 459.76,49.09 459.89,46.86 460.01,45.84 460.13,46.17 460.26,47.81 460.38,50.55 460.50,54.06 460.63,57.95 460.75,61.81 460.88,65.30 461.00,68.17 461.12,70.29 461.25,71.69 461.37,72.48 461.49,72.83 461.62,72.93 461.74,72.95 461.87,72.95 461.99,72.93 462.11,72.77 462.24,72.32 462.36,71.40 462.48,69.87 462.61,67.66 462.73,64.81 462.86,61.51 462.98,58.01 463.10,54.68 463.23,51.87 463.35,49.91 463.47,49.04 463.60,49.36 463.72,50.84 463.85,53.28 463.97,56.41 464.09,59.85 464.22,63.27 464.34,66.35 464.46,68.87 464.59,70.74 464.71,71.96 464.84,72.65 464.96,72.95 465.08,73.05 465.21,73.06 465.33,73.07 465.45,73.05 465.58,72.91 465.70,72.53 465.83,71.74 465.95,70.43 466.07,68.54 466.20,66.12 466.32,63.32 466.44,60.36 466.57,57.55 466.69,55.19 466.81,53.57 466.94,52.86 467.06,53.17 467.19,54.44 467.31,56.53 467.43,59.18 467.56,62.10 467.68,64.98 467.80,67.57 467.93,69.69 468.05,71.26 468.18,72.29 468.30,72.87 468.42,73.13 468.55,73.21 468.67,73.23 468.79,73.23 468.92,73.22 469.04,73.11 469.17,72.80 469.29,72.15 469.41,71.07 469.54,69.51 469.66,67.53 469.78,65.23 469.91,62.81 470.03,60.52 470.16,58.61 470.28,57.31 470.40,56.77 470.53,57.06 470.65,58.13 470.77,59.87 470.90,62.05 471.02,64.44 471.15,66.79 471.27,68.89 471.39,70.61 471.52,71.87 471.64,72.69 471.76,73.16 471.89,73.37 472.01,73.43 472.13,73.45 472.26,73.46 472.38,73.45 472.51,73.37 472.63,73.13 472.75,72.64 472.88,71.82 473.00,70.65 473.12,69.16 473.25,67.44 473.37,65.66 473.50,63.99 473.62,62.61 473.74,61.70 473.87,61.36 473.99,61.63 474.11,62.48 474.24,63.79 474.36,65.42 474.49,67.18 474.61,68.90 474.73,70.43 474.86,71.66 474.98,72.57 475.10,73.16 475.23,73.48 475.35,73.63 475.48,73.68 475.60,73.70 475.72,73.71 475.85,73.70 475.97,73.65 476.09,73.49 476.22,73.17 476.34,72.64 476.47,71.88 476.59,70.93 476.71,69.85 476.84,68.74 476.96,67.73 477.08,66.93 477.21,66.44 477.33,66.33 477.46,66.60 477.58,67.22 477.70,68.10 477.83,69.15 477.95,70.24 478.07,71.26 478.20,72.14 478.32,72.83 478.44,73.31 478.57,73.62 478.69,73.79 478.82,73.86 478.94,73.89 479.06,73.90 479.19,73.91 479.31,73.92 479.43,73.91 479.56,73.86 479.68,73.76 479.81,73.59 479.93,73.36 480.05,73.08 480.18,72.77 480.30,72.46 480.42,72.18 480.55,71.98 480.67,71.87 480.80,71.87 480.92,71.99 481.04,72.21 481.17,72.50 481.29,72.84 481.41,73.23 481.54,73.68 481.66,74.15 481.79,74.62 481.91,75.07 482.03,75.95 482.16,76.03 482.28,76.23 482.40,76.47 482.53,76.70 482.65,76.86 482.78,76.96 482.90,77.09 483.02,77.33 483.15,77.77 483.27,78.48 483.39,79.50 483.52,80.83 483.64,82.42 483.76,84.16 483.89,85.89 484.01,87.45 484.14,88.66 484.26,89.38 484.38,89.53 484.51,89.09 484.63,88.12 484.75,86.73 484.88,85.10 485.00,83.42 485.13,81.85 485.25,80.53 485.37,79.54 485.50,78.89 485.62,78.54 485.74,78.40 485.87,78.39 485.99,78.43 486.12,78.48 486.24,78.54 486.36,78.68 486.49,79.00 486.61,79.61 486.73,80.63 486.86,82.09 486.98,84.01 487.11,86.29 487.23,88.77 487.35,91.21 487.48,93.37 487.60,95.00 487.72,95.91 487.85,95.98 487.97,95.22 488.10,93.70 488.22,91.63 488.34,89.24 488.47,86.79 488.59,84.53 488.71,82.64 488.84,81.21 488.96,80.27 489.09,79.75 489.21,79.53 489.33,79.48 489.46,79.50 489.58,79.54 489.70,79.59 489.83,79.75 489.95,80.14 490.07,80.92 490.20,82.23 490.32,84.13 490.45,86.61 490.57,89.55 490.69,92.73 490.82,95.85 490.94,98.58 491.06,100.61 491.19,101.70 491.31,101.71 491.44,100.64 491.56,98.63 491.68,95.91 491.81,92.80 491.93,89.63 492.05,86.72 492.18,84.30 492.30,82.47 492.43,81.26 492.55,80.58 492.67,80.29 492.80,80.22 492.92,80.23 493.04,80.25 493.17,80.30 493.29,80.48 493.42,80.95 493.54,81.90 493.66,83.48 493.79,85.80 493.91,88.81 494.03,92.37 494.16,96.21 494.28,99.96 494.41,103.22 494.53,105.63 494.65,106.89 494.78,106.84 494.90,105.49 495.02,103.01 495.15,99.69 495.27,95.92 495.39,92.10 495.52,88.59 495.64,85.67 495.77,83.48 495.89,82.03 496.01,81.21 496.14,80.86 496.26,80.76 496.38,80.76 496.51,80.78 496.63,80.83 496.76,81.04 496.88,81.58 497.00,82.69 497.13,84.54 497.25,87.23 497.37,90.74 497.50,94.87 497.62,99.32 497.75,103.65 497.87,107.41 497.99,110.17 498.12,111.58 498.24,111.49 498.36,109.89 498.49,106.98 498.61,103.12 498.74,98.74 498.86,94.32 498.98,90.28 499.11,86.91 499.23,84.39 499.35,82.73 499.48,81.79 499.60,81.38 499.73,81.27 499.85,81.28 499.97,81.30 500.10,81.35 500.22,81.59 500.34,82.20 500.47,83.46 500.59,85.55 500.72,88.60 500.84,92.55 500.96,97.21 501.09,102.21 501.21,107.08 501.33,111.28 501.46,114.35 501.58,115.92 501.70,115.78 501.83,113.96 501.95,110.67 502.08,106.33 502.20,101.42 502.32,96.47 502.45,91.94 502.57,88.18 502.69,85.38 502.82,83.52 502.94,82.49 503.07,82.04 503.19,81.92 503.31,81.93 503.44,81.96 503.56,82.03 503.68,82.29 503.81,82.98 503.93,84.36 504.06,86.68 504.18,90.04 504.30,94.39 504.43,99.52 504.55,105.01 504.67,110.34 504.80,114.94 504.92,118.29 505.05,119.98 505.17,119.80 505.29,117.77 505.42,114.16 505.54,109.38 505.66,104.00 505.79,98.58 505.91,93.63 506.04,89.52 506.16,86.46 506.28,84.43 506.41,83.30 506.53,82.81 506.65,82.68 506.78,82.69 506.90,82.72 507.02,82.79 507.15,83.07 507.27,83.81 507.40,85.31 507.52,87.81 507.64,91.43 507.77,96.13 507.89,101.64 508.01,107.55 508.14,113.28 508.26,118.22 508.39,121.79 508.51,123.58 508.63,123.36 508.76,121.16 508.88,117.25 509.00,112.11 509.13,106.31 509.25,100.48 509.38,95.16 509.50,90.76 509.62,87.47 509.75,85.31 509.87,84.09 509.99,83.56 510.12,83.42 510.24,83.43 510.37,83.46 510.49,83.53 510.61,83.83 510.74,84.61 510.86,86.20 510.98,88.86 511.11,92.70 511.23,97.68 511.36,103.53 511.48,109.78 511.60,115.84 511.73,121.06 511.85,124.82 511.97,126.69 512.10,126.44 512.22,124.08 512.35,119.93 512.47,114.47 512.59,108.33 512.72,102.17 512.84,96.55 512.96,91.89 513.09,88.42 513.21,86.14 513.33,84.86 513.46,84.30 513.58,84.15 513.71,84.15 513.83,84.18 513.95,84.26 514.08,84.56 514.20,85.39 514.32,87.05 514.45,89.83 514.57,93.85 514.70,99.06 514.82,105.17 514.94,111.70 515.07,118.02 515.19,123.45 515.31,127.37 515.44,129.30 515.56,129.01 515.69,126.53 515.81,122.18 515.93,116.47 516.06,110.06 516.18,103.63 516.30,97.77 516.43,92.92 516.55,89.31 516.68,86.92 516.80,85.59 516.92,85.01 517.05,84.85 517.17,84.86 517.29,84.88 517.42,84.96 517.54,85.28 517.67,86.13 517.79,87.85 517.91,90.72 518.04,94.88 518.16,100.26 518.28,106.57 518.41,113.30 518.53,119.81 518.65,125.40 518.78,129.43 518.90,131.40 519.03,131.07 519.15,128.50 519.27,124.00 519.40,118.10 519.52,111.49 519.64,104.86 519.77,98.83 519.89,93.84 520.02,90.12 520.14,87.67 520.26,86.30 520.39,85.70 520.51,85.54 520.63,85.54 520.76,85.56 520.88,85.64 521.01,85.96 521.13,86.83 521.25,88.59 521.38,91.53 521.50,95.78 521.62,101.27 521.75,107.71 521.87,114.58 522.00,121.21 522.12,126.90 522.24,130.99 522.37,132.98 522.49,132.63 522.61,129.99 522.74,125.39 522.86,119.37 522.99,112.62 523.11,105.86 523.23,99.72 523.36,94.64 523.48,90.86 523.60,88.37 523.73,86.97 523.85,86.36 523.98,86.20 524.10,86.20 524.22,86.22 524.35,86.30 524.47,86.63 524.59,87.51 524.72,89.29 524.84,92.25 524.96,96.55 525.09,102.10 525.21,108.60 525.34,115.53 525.46,122.22 525.58,127.95 525.71,132.06 525.83,134.05 525.95,133.68 526.08,131.00 526.20,126.34 526.33,120.26 526.45,113.46 526.57,106.64 526.70,100.45 526.82,95.33 526.94,91.52 527.07,89.02"/>
</g>
<g clip-path="url(#cpc)">
<polyline class="halo" stroke="#ff0000" points="68.75,336.69 68.87,327.39 68.99,319.70 69.12,313.97 69.24,310.18 69.37,308.05 69.49,307.10 69.61,306.82 69.74,306.78 69.86,306.78 69.98,306.87 70.11,307.32 70.23,308.60 70.36,311.24 70.48,315.64 70.60,322.03 70.73,330.30 70.85,339.98 70.98,350.29 71.10,360.24 71.22,368.74 71.35,374.82 71.47,377.72 71.60,377.11 71.72,373.05 71.84,366.04 71.97,356.93 72.09,346.73 72.21,336.54 72.34,327.28 72.46,319.62 72.59,313.92 72.71,310.16 72.83,308.04 72.96,307.10 73.08,306.82 73.21,306.78 73.33,306.78 73.45,306.86 73.58,307.31 73.70,308.59 73.83,311.19 73.95,315.55 74.07,321.87 74.20,330.04 74.32,339.60 74.45,349.78 74.57,359.59 74.69,367.97 74.82,373.94 74.94,376.78 75.06,376.15 75.19,372.12 75.31,365.19 75.44,356.19 75.56,346.13 75.68,336.08 75.81,326.95 75.93,319.42 76.06,313.80 76.18,310.10 76.30,308.02 76.43,307.09 76.55,306.81 76.68,306.78 76.80,306.78 76.92,306.86 77.05,307.30 77.17,308.55 77.30,311.10 77.42,315.37 77.54,321.55 77.67,329.54 77.79,338.88 77.91,348.82 78.04,358.39 78.16,366.56 78.29,372.36 78.41,375.11 78.53,374.47 78.66,370.51 78.78,363.73 78.91,354.93 79.03,345.11 79.15,335.31 79.28,326.41 79.40,319.07 79.53,313.61 79.65,310.01 79.77,307.99 79.90,307.08 80.02,306.81 80.15,306.78 80.27,306.78 80.39,306.86 80.52,307.29 80.64,308.50 80.76,310.97 80.89,315.10 81.01,321.08 81.14,328.80 81.26,337.82 81.38,347.42 81.51,356.65 81.63,364.51 81.76,370.09 81.88,372.72 82.00,372.07 82.13,368.22 82.25,361.66 82.38,353.16 82.50,343.69 82.62,334.24 82.75,325.67 82.87,318.60 83.00,313.35 83.12,309.88 83.24,307.94 83.37,307.07 83.49,306.81 83.61,306.78 83.74,306.78 83.86,306.86 83.99,307.27 84.11,308.42 84.23,310.79 84.36,314.73 84.48,320.45 84.61,327.82 84.73,336.42 84.85,345.57 84.98,354.36 85.10,361.84 85.23,367.13 85.35,369.60 85.47,368.95 85.60,365.27 85.72,358.99 85.85,350.88 85.97,341.86 86.09,332.86 86.22,324.71 86.34,318.00 86.46,313.01 86.59,309.72 86.71,307.88 86.84,307.06 86.96,306.81 87.08,306.78 87.21,306.78 87.33,306.85 87.46,307.24 87.58,308.33 87.70,310.56 87.83,314.28 87.95,319.66 88.08,326.60 88.20,334.70 88.32,343.29 88.45,351.54 88.57,358.54 88.70,363.49 88.82,365.78 88.94,365.14 89.07,361.65 89.19,355.73 89.31,348.11 89.44,339.63 89.56,331.19 89.69,323.56 89.81,317.27 89.93,312.60 90.06,309.53 90.18,307.80 90.31,307.04 90.43,306.81 90.55,306.78 90.68,306.78 90.80,306.85 90.93,307.21 91.05,308.22 91.17,310.29 91.30,313.74 91.42,318.73 91.54,325.15 91.67,332.64 91.79,340.59 91.92,348.20 92.04,354.65 92.16,359.19 92.29,361.27 92.41,360.64 92.54,357.38 92.66,351.90 92.78,344.85 92.91,337.02 93.03,329.24 93.16,322.20 93.28,316.42 93.40,312.12 93.53,309.30 93.65,307.72 93.78,307.02 93.90,306.81 94.02,306.78 94.15,306.78 94.27,306.84 94.39,307.17 94.52,308.09 94.64,309.98 94.77,313.12 94.89,317.66 95.01,323.49 95.14,330.28 95.26,337.47 95.39,344.35 95.51,350.17 95.63,354.25 95.76,356.09 95.88,355.49 96.01,352.50 96.13,347.52 96.25,341.12 96.38,334.04 96.50,327.00 96.63,320.66 96.75,315.44 96.87,311.58 97.00,309.04 97.12,307.62 97.24,306.99 97.37,306.80 97.49,306.78 97.62,306.78 97.74,306.84 97.86,307.13 97.99,307.95 98.11,309.63 98.24,312.42 98.36,316.44 98.48,321.61 98.61,327.62 98.73,333.97 98.86,340.03 98.98,345.14 99.10,348.71 99.23,350.29 99.35,349.71 99.48,347.04 99.60,342.61 99.72,336.96 99.85,330.71 99.97,324.51 100.09,318.93 100.22,314.36 100.34,310.97 100.47,308.75 100.59,307.51 100.71,306.96 100.84,306.80 100.96,306.78 101.09,306.78 101.21,306.83 101.33,307.08 101.46,307.79 101.58,309.24 101.71,311.64 101.83,315.10 101.95,319.54 102.08,324.69 102.20,330.11 102.33,335.28 102.45,339.61 102.57,342.61 102.70,343.92 102.82,343.37 102.94,341.04 103.07,337.23 103.19,332.39 103.32,327.05 103.44,321.78 103.56,317.05 103.69,313.17 103.81,310.31 103.94,308.44 104.06,307.40 104.18,306.93 104.31,306.80 104.43,306.78 104.56,306.78 104.68,306.82 104.80,307.03 104.93,307.62 105.05,308.82 105.18,310.80 105.30,313.65 105.42,317.29 105.55,321.50 105.67,325.93 105.79,330.12 105.92,333.62 106.04,336.02 106.17,337.02 106.29,336.52 106.41,334.57 106.54,331.42 106.66,327.46 106.79,323.12 106.91,318.84 107.03,315.02 107.16,311.90 107.28,309.60 107.41,308.10 107.53,307.27 107.65,306.90 107.78,306.79 107.90,306.78 108.03,306.78 108.15,306.81 108.27,306.98 108.40,307.44 108.52,308.37 108.64,309.90 108.77,312.10 108.89,314.89 109.02,318.11 109.14,321.47 109.26,324.63 109.39,327.25 109.51,329.00 109.64,329.69 109.76,329.23 109.88,327.69 110.01,325.26 110.13,322.23 110.26,318.94 110.38,315.73 110.50,312.87 110.63,310.55 110.75,308.85 110.87,307.75 111.00,307.14 111.12,306.87 111.25,306.79 111.37,306.78 111.49,306.78 111.62,306.80 111.74,306.92 111.87,307.24 111.99,307.89 112.11,308.96 112.24,310.47 112.36,312.37 112.49,314.55 112.61,316.79 112.73,318.87 112.86,320.56 112.98,321.64 113.11,322.00 113.23,321.60 113.35,320.49 113.48,318.81 113.60,316.76 113.72,314.58 113.85,312.47 113.97,310.62 114.10,308.98 114.22,307.49 114.34,306.19 114.47,305.06 114.59,304.07 114.72,303.18 114.84,302.38 114.96,301.70 115.09,301.19 115.21,300.91 115.34,300.72 115.46,300.47 115.58,300.13 115.71,299.67 115.83,299.09 115.96,298.39 116.08,297.62 116.20,296.81 116.33,296.06 116.45,295.41 116.57,294.95 116.70,294.71 116.82,294.73 116.95,294.98 117.07,295.44 117.19,296.04 117.32,296.69 117.44,297.33 117.57,297.88 117.69,298.29 117.81,298.56 117.94,298.69 118.06,298.72 118.19,298.68 118.31,298.62 118.43,298.56 118.56,298.49 118.68,298.38 118.81,298.16 118.93,297.78 119.05,297.15 119.18,296.23 119.30,295.01 119.42,293.56 119.55,291.94 119.67,290.32 119.80,288.85 119.92,287.69 120.04,286.98 120.17,286.81 120.29,287.19 120.42,288.08 120.54,289.37 120.66,290.91 120.79,292.51 120.91,294.02 121.04,295.29 121.16,296.27 121.28,296.91 121.41,297.27 121.53,297.42 121.66,297.45 121.78,297.42 121.90,297.39 122.03,297.34 122.15,297.22 122.27,296.91 122.40,296.31 122.52,295.30 122.65,293.82 122.77,291.87 122.89,289.55 123.02,287.02 123.14,284.51 123.27,282.28 123.39,280.59 123.51,279.64 123.64,279.55 123.76,280.32 123.89,281.87 124.01,284.00 124.13,286.46 124.26,288.99 124.38,291.32 124.51,293.28 124.63,294.75 124.75,295.73 124.88,296.26 125.00,296.48 125.12,296.52 125.25,296.49 125.37,296.45 125.50,296.39 125.62,296.22 125.74,295.80 125.87,294.97 125.99,293.60 126.12,291.60 126.24,288.99 126.36,285.90 126.49,282.56 126.61,279.27 126.74,276.37 126.86,274.21 126.98,273.03 127.11,272.98 127.23,274.07 127.36,276.16 127.48,279.00 127.60,282.26 127.73,285.59 127.85,288.66 127.97,291.22 128.10,293.15 128.22,294.43 128.35,295.14 128.47,295.45 128.59,295.52 128.72,295.50 128.84,295.47 128.97,295.40 129.09,295.20 129.21,294.69 129.34,293.65 129.46,291.92 129.59,289.39 129.71,286.10 129.83,282.20 129.96,277.98 130.08,273.85 130.20,270.23 130.33,267.54 130.45,266.10 130.58,266.09 130.70,267.51 130.82,270.19 130.95,273.80 131.07,277.93 131.20,282.13 131.32,286.00 131.44,289.23 131.57,291.66 131.69,293.27 131.82,294.18 131.94,294.57 132.06,294.67 132.19,294.65 132.31,294.62 132.44,294.56 132.56,294.32 132.68,293.68 132.81,292.41 132.93,290.27 133.05,287.16 133.18,283.11 133.30,278.32 133.43,273.16 133.55,268.12 133.67,263.74 133.80,260.51 133.92,258.83 134.05,258.91 134.17,260.73 134.29,264.07 134.42,268.53 134.54,273.59 134.67,278.71 134.79,283.40 134.91,287.30 135.04,290.22 135.16,292.15 135.29,293.23 135.41,293.70 135.53,293.82 135.66,293.81 135.78,293.77 135.90,293.70 136.03,293.42 136.15,292.69 136.28,291.22 136.40,288.77 136.52,285.22 136.65,280.59 136.77,275.15 136.90,269.30 137.02,263.61 137.14,258.68 137.27,255.08 137.39,253.23 137.52,253.37 137.64,255.48 137.76,259.30 137.89,264.37 138.01,270.10 138.14,275.89 138.26,281.18 138.38,285.58 138.51,288.87 138.63,291.04 138.75,292.26 138.88,292.79 139.00,292.92 139.13,292.91 139.25,292.88 139.37,292.80 139.50,292.49 139.62,291.68 139.75,290.04 139.87,287.31 139.99,283.35 140.12,278.20 140.24,272.13 140.37,265.63 140.49,259.31 140.61,253.84 140.74,249.86 140.86,247.84 140.99,248.02 141.11,250.40 141.23,254.67 141.36,260.31 141.48,266.70 141.60,273.13 141.73,279.02 141.85,283.90 141.98,287.55 142.10,289.97 142.22,291.32 142.35,291.91 142.47,292.07 142.60,292.06 142.72,292.03 142.84,291.95 142.97,291.62 143.09,290.73 143.22,288.94 143.34,285.93 143.46,281.58 143.59,275.92 143.71,269.27 143.84,262.14 143.96,255.23 144.08,249.26 144.21,244.93 144.33,242.77 144.45,243.03 144.58,245.68 144.70,250.40 144.83,256.62 144.95,263.63 145.07,270.68 145.20,277.11 145.32,282.44 145.45,286.43 145.57,289.06 145.69,290.53 145.82,291.18 145.94,291.36 146.07,291.36 146.19,291.34 146.31,291.25 146.44,290.91 146.56,289.96 146.69,288.05 146.81,284.85 146.93,280.20 147.06,274.18 147.18,267.12 147.30,259.56 147.43,252.23 147.55,245.93 147.68,241.38 147.80,239.12 147.92,239.44 148.05,242.30 148.17,247.33 148.30,253.95 148.42,261.39 148.54,268.87 148.67,275.68 148.79,281.33 148.92,285.54 149.04,288.32 149.16,289.88 149.29,290.57 149.41,290.76 149.53,290.77 149.66,290.75 149.78,290.67 149.91,290.31 150.03,289.32 150.15,287.31 150.28,283.96 150.40,279.09 150.53,272.79 150.65,265.39 150.77,257.49 150.90,249.84 151.02,243.26 151.15,238.52 151.27,236.19 151.39,236.55 151.52,239.56 151.64,244.85 151.77,251.78 151.89,259.56 152.01,267.38 152.14,274.50 152.26,280.39 152.38,284.79 152.51,287.69 152.63,289.32 152.76,290.04 152.88,290.25 153.00,290.26 153.13,290.24 153.25,290.16 153.38,289.79 153.50,288.76 153.62,286.68 153.75,283.20 153.87,278.16 154.00,271.63 154.12,263.97 154.24,255.79 154.37,247.88 154.49,241.10 154.62,236.23 154.74,233.85 154.86,234.27 154.99,237.41 155.11,242.91 155.23,250.09 155.36,258.15 155.48,266.23 155.61,273.57 155.73,279.65 155.85,284.18 155.98,287.17 156.10,288.85 156.23,289.59 156.35,289.80 156.47,289.81 156.60,289.80 156.72,289.72 156.85,289.34 156.97,288.30 157.09,286.18 157.22,282.63 157.34,277.50 157.47,270.85 157.59,263.06 157.71,254.76 157.84,246.74 157.96,239.86 158.08,234.94 158.21,232.55 158.33,233.00 158.46,236.22 158.58,241.82 158.70,249.12 158.83,257.30 158.95,265.50 159.08,272.95 159.20,279.11 159.32,283.70 159.45,286.73 159.57,288.43 159.70,289.18 159.82,289.40 159.94,289.41 160.07,289.40 160.19,289.32 160.32,288.94 160.44,287.89 160.56,285.75 160.69,282.18 160.81,277.01 160.93,270.32 161.06,262.48 161.18,254.12 161.31,246.06 161.43,239.16 161.55,234.22 161.68,231.84 161.80,232.31 161.93,235.58 162.05,241.23 162.17,248.60 162.30,256.84 162.42,265.08 162.55,272.57 162.67,278.75 162.79,283.36 162.92,286.39 163.04,288.09 163.17,288.85 163.29,289.06 163.41,289.08 163.54,289.07 163.66,288.99 163.78,288.62 163.91,287.58 164.03,285.47 164.16,281.95 164.28,276.85 164.40,270.26 164.53,262.56 164.65,254.35 164.78,246.46 164.90,239.72 165.02,234.91 165.15,232.63 165.27,233.15 165.40,236.40 165.52,241.98 165.64,249.22 165.77,257.30 165.89,265.38 166.02,272.70 166.14,278.75 166.26,283.24 166.39,286.20 166.51,287.86 166.63,288.59 166.76,288.81 166.88,288.83 167.01,288.81 167.13,288.74 167.25,288.38 167.38,287.38 167.50,285.34 167.63,281.93 167.75,277.00 167.87,270.64 168.00,263.21 168.12,255.31 168.25,247.71 168.37,241.23 168.49,236.64 168.62,234.47 168.74,234.99 168.87,238.15 168.99,243.53 169.11,250.52 169.24,258.30 169.36,266.07 169.48,273.11 169.61,278.91 169.73,283.23 169.86,286.07 169.98,287.66 170.10,288.37 170.23,288.57 170.35,288.59 170.48,288.58 170.60,288.52 170.72,288.17 170.85,287.21 170.97,285.26 171.10,282.00 171.22,277.29 171.34,271.22 171.47,264.12 171.59,256.58 171.71,249.33 171.84,243.17 171.96,238.80 172.09,236.75 172.21,237.28 172.33,240.32 172.46,245.48 172.58,252.16 172.71,259.59 172.83,267.00 172.95,273.71 173.08,279.23 173.20,283.34 173.33,286.04 173.45,287.56 173.57,288.23 173.70,288.43 173.82,288.46 173.95,288.45 174.07,288.39 174.19,288.07 174.32,287.17 174.44,285.34 174.56,282.28 174.69,277.86 174.81,272.17 174.94,265.52 175.06,258.46 175.18,251.69 175.31,245.94 175.43,241.88 175.56,240.00 175.68,240.52 175.80,243.38 175.93,248.23 176.05,254.49 176.18,261.45 176.30,268.38 176.42,274.66 176.55,279.82 176.67,283.66 176.80,286.19 176.92,287.60 177.04,288.23 177.17,288.42 177.29,288.45 177.41,288.44 177.54,288.39 177.66,288.09 177.79,287.26 177.91,285.55 178.03,282.70 178.16,278.58 178.28,273.28 178.41,267.09 178.53,260.52 178.65,254.22 178.78,248.88 178.90,245.12 179.03,243.39 179.15,243.89 179.27,246.58 179.40,251.11 179.52,256.94 179.65,263.41 179.77,269.85 179.89,275.68 180.02,280.47 180.14,284.02 180.26,286.36 180.39,287.67 180.51,288.25 180.64,288.42 180.76,288.45 180.88,288.44 181.01,288.39 181.13,288.12 181.26,287.36 181.38,285.79 181.50,283.19 181.63,279.42 181.75,274.58 181.88,268.95 182.00,262.98 182.12,257.26 182.25,252.43 182.37,249.04 182.50,247.50 182.62,248.00 182.74,250.47 182.87,254.61 182.99,259.92 183.11,265.80 183.24,271.64 183.36,276.91 183.49,281.24 183.61,284.46 183.73,286.56 183.86,287.75 183.98,288.27 184.11,288.43 184.23,288.45 184.35,288.44 184.48,288.40 184.60,288.16 184.73,287.47 184.85,286.07 184.97,283.75 185.10,280.40 185.22,276.09 185.35,271.08 185.47,265.79 185.59,260.74 185.72,256.48 185.84,253.51 185.96,252.19 186.09,252.67 186.21,254.90 186.34,258.60 186.46,263.32 186.58,268.53 186.71,273.69 186.83,278.35 186.96,282.16 187.08,284.98 187.20,286.83 187.33,287.87 187.45,288.33 187.58,288.47 187.70,288.49 187.82,288.49 187.95,288.45 188.07,288.25 188.20,287.66 188.32,286.47 188.44,284.48 188.57,281.62 188.69,277.96 188.81,273.71 188.94,269.23 189.06,264.97 189.19,261.40 189.31,258.93 189.43,257.86 189.56,258.32 189.68,260.25 189.81,263.40 189.93,267.41 190.05,271.82 190.18,276.18 190.30,280.09 190.43,283.30 190.55,285.67 190.67,287.22 190.80,288.09 190.92,288.47 191.04,288.59 191.17,288.61 191.29,288.62 191.42,288.59 191.54,288.42 191.66,287.94 191.79,286.95 191.91,285.31 192.04,282.96 192.16,279.94 192.28,276.46 192.41,272.79 192.53,269.32 192.66,266.43 192.78,264.45 192.90,263.63 193.03,264.06 193.15,265.68 193.28,268.30 193.40,271.60 193.52,275.20 193.65,278.75 193.77,281.93 193.89,284.51 194.02,286.42 194.14,287.66 194.27,288.35 194.39,288.66 194.51,288.76 194.64,288.77 194.76,288.78 194.89,288.76 195.01,288.63 195.13,288.26 195.26,287.51 195.38,286.26 195.51,284.48 195.63,282.21 195.75,279.61 195.88,276.90 196.00,274.36 196.13,272.28 196.25,270.89 196.37,270.36 196.50,270.76 196.62,272.04 196.74,274.02 196.87,276.47 196.99,279.13 197.12,281.71 197.24,284.01 197.36,285.87 197.49,287.23 197.61,288.11 197.74,288.60 197.86,288.82 197.98,288.88 198.11,288.89 198.23,288.90 198.36,288.89 198.48,288.80 198.60,288.55 198.73,288.06 198.85,287.24 198.98,286.09 199.10,284.64 199.22,283.01 199.35,281.33 199.47,279.80 199.59,278.59 199.72,277.84 199.84,277.66 199.97,278.07 200.09,279.01 200.21,280.35 200.34,281.92 200.46,283.57 200.59,285.11 200.71,286.44 200.83,287.48 200.96,288.21 201.08,288.68 201.21,288.93 201.33,289.04 201.45,289.08 201.58,289.09 201.70,289.11 201.83,289.11 201.95,289.09 202.07,289.01 202.20,288.85 202.32,288.59 202.44,288.24 202.57,287.80 202.69,287.33 202.82,286.85 202.94,286.42 203.06,286.09 203.19,285.92 203.31,285.92 203.44,286.08 203.56,286.40 203.68,286.82 203.81,287.31 203.93,287.89 204.06,288.58 204.18,289.32 204.30,290.06 204.43,290.78 204.55,292.15 204.68,292.31 204.80,292.65 204.92,293.05 205.05,293.42 205.17,293.68 205.29,293.83 205.42,294.02 205.54,294.38 205.67,295.04 205.79,296.10 205.91,297.63 206.04,299.63 206.16,302.02 206.29,304.63 206.41,307.24 206.53,309.58 206.66,311.39 206.78,312.47 206.91,312.67 207.03,311.98 207.15,310.48 207.28,308.36 207.40,305.87 207.53,303.30 207.65,300.90 207.77,298.88 207.90,297.35 208.02,296.33 208.14,295.77 208.27,295.54 208.39,295.49 208.52,295.53 208.64,295.57 208.76,295.63 208.89,295.81 209.01,296.26 209.14,297.16 209.26,298.66 209.38,300.85 209.51,303.72 209.63,307.14 209.76,310.85 209.88,314.52 210.00,317.76 210.13,320.19 210.25,321.54 210.37,321.63 210.50,320.44 210.62,318.12 210.75,314.96 210.87,311.31 210.99,307.59 211.12,304.14 211.24,301.25 211.37,299.07 211.49,297.63 211.61,296.81 211.74,296.46 211.86,296.38 211.99,296.39 212.11,296.43 212.23,296.49 212.36,296.72 212.48,297.30 212.61,298.48 212.73,300.44 212.85,303.32 212.98,307.07 213.10,311.51 213.22,316.32 213.35,321.04 213.47,325.17 213.60,328.24 213.72,329.89 213.84,329.91 213.97,328.30 214.09,325.25 214.22,321.13 214.34,316.43 214.46,311.65 214.59,307.25 214.71,303.58 214.84,300.83 214.96,299.00 215.08,297.98 215.21,297.55 215.33,297.44 215.46,297.46 215.58,297.50 215.70,297.59 215.83,297.86 215.95,298.58 216.07,300.02 216.20,302.43 216.32,305.94 216.45,310.51 216.57,315.91 216.69,321.72 216.82,327.41 216.94,332.36 217.07,336.01 217.19,337.92 217.31,337.86 217.44,335.83 217.56,332.08 217.69,327.07 217.81,321.37 217.93,315.60 218.06,310.30 218.18,305.89 218.31,302.59 218.43,300.40 218.55,299.18 218.68,298.65 218.80,298.51 218.92,298.53 219.05,298.57 219.17,298.65 219.30,298.97 219.42,299.80 219.54,301.49 219.67,304.30 219.79,308.38 219.92,313.70 220.04,319.96 220.16,326.70 220.29,333.27 220.41,338.96 220.54,343.14 220.66,345.29 220.78,345.15 220.91,342.74 221.03,338.35 221.16,332.52 221.28,325.90 221.40,319.22 221.53,313.10 221.65,308.02 221.77,304.21 221.90,301.70 222.02,300.29 222.15,299.67 222.27,299.51 222.39,299.52 222.52,299.56 222.64,299.65 222.77,300.00 222.89,300.94 223.01,302.84 223.14,306.01 223.26,310.62 223.39,316.61 223.51,323.66 223.63,331.22 223.76,338.59 223.88,344.95 224.01,349.60 224.13,351.96 224.25,351.75 224.38,348.99 224.50,344.02 224.62,337.44 224.75,330.01 224.87,322.51 225.00,315.65 225.12,309.96 225.24,305.71 225.37,302.90 225.49,301.32 225.62,300.63 225.74,300.45 225.86,300.45 225.99,300.49 226.11,300.58 226.24,300.97 226.36,302.00 226.48,304.09 226.61,307.58 226.73,312.65 226.86,319.24 226.98,326.98 227.10,335.28 227.23,343.34 227.35,350.30 227.47,355.35 227.60,357.89 227.72,357.61 227.85,354.54 227.97,349.06 228.09,341.83 228.22,333.67 228.34,325.46 228.47,317.96 228.59,311.74 228.71,307.09 228.84,304.02 228.96,302.30 229.09,301.54 229.21,301.34 229.33,301.34 229.46,301.38 229.58,301.48 229.70,301.89 229.83,303.00 229.95,305.26 230.08,309.03 230.20,314.50 230.32,321.60 230.45,329.94 230.57,338.87 230.70,347.53 230.82,354.99 230.94,360.40 231.07,363.09 231.19,362.75 231.32,359.41 231.44,353.49 231.56,345.69 231.69,336.91 231.81,328.08 231.94,320.03 232.06,313.35 232.18,308.37 232.31,305.08 232.43,303.24 232.55,302.43 232.68,302.21 232.80,302.21 232.93,302.24 233.05,302.34 233.17,302.78 233.30,303.96 233.42,306.36 233.55,310.36 233.67,316.17 233.79,323.70 233.92,332.54 234.04,341.99 234.17,351.15 234.29,359.03 234.41,364.72 234.54,367.54 234.66,367.14 234.79,363.58 234.91,357.28 235.03,349.01 235.16,339.71 235.28,330.37 235.40,321.86 235.53,314.81 235.65,309.55 235.78,306.08 235.90,304.13 236.02,303.28 236.15,303.04 236.27,303.04 236.40,303.07 236.52,303.18 236.64,303.63 236.77,304.87 236.89,307.38 237.02,311.57 237.14,317.65 237.26,325.52 237.39,334.76 237.51,344.63 237.64,354.19 237.76,362.40 237.88,368.31 238.01,371.22 238.13,370.77 238.25,367.02 238.38,360.42 238.50,351.77 238.63,342.06 238.75,332.32 238.87,323.44 239.00,316.10 239.12,310.62 239.25,307.00 239.37,304.98 239.49,304.09 239.62,303.84 239.74,303.84 239.87,303.87 239.99,303.97 240.11,304.44 240.24,305.72 240.36,308.32 240.49,312.65 240.61,318.93 240.73,327.06 240.86,336.60 240.98,346.78 241.10,356.63 241.23,365.08 241.35,371.15 241.48,374.12 241.60,373.63 241.72,369.73 241.85,362.90 241.97,353.97 242.10,343.95 242.22,333.91 242.34,324.77 242.47,317.21 242.59,311.57 242.72,307.86 242.84,305.77 242.96,304.86 243.09,304.60 243.21,304.59 243.34,304.62 243.46,304.73 243.58,305.21 243.71,306.51 243.83,309.17 243.95,313.60 244.08,320.01 244.20,328.32 244.33,338.05 244.45,348.43 244.57,358.47 244.70,367.06 244.82,373.24 244.95,376.24 245.07,375.70 245.19,371.70 245.32,364.72 245.44,355.60 245.57,345.38 245.69,335.15 245.81,325.84 245.94,318.14 246.06,312.41 246.19,308.63 246.31,306.51 246.43,305.57 246.56,305.31 246.68,305.30 246.80,305.33 246.93,305.44 247.05,305.92 247.18,307.24 247.30,309.92 247.42,314.40 247.55,320.89 247.67,329.28 247.80,339.10 247.92,349.58 248.04,359.70 248.17,368.36 248.29,374.56 248.42,377.56 248.54,376.99 248.66,372.92 248.79,365.86 248.91,356.65 249.03,346.34 249.16,336.02 249.28,326.64 249.41,318.89 249.53,313.11 249.65,309.31"/><polyline class="ln" stroke="#ff0000" points="68.75,336.69 68.87,327.39 68.99,319.70 69.12,313.97 69.24,310.18 69.37,308.05 69.49,307.10 69.61,306.82 69.74,306.78 69.86,306.78 69.98,306.87 70.11,307.32 70.23,308.60 70.36,311.24 70.48,315.64 70.60,322.03 70.73,330.30 70.85,339.98 70.98,350.29 71.10,360.24 71.22,368.74 71.35,374.82 71.47,377.72 71.60,377.11 71.72,373.05 71.84,366.04 71.97,356.93 72.09,346.73 72.21,336.54 72.34,327.28 72.46,319.62 72.59,313.92 72.71,310.16 72.83,308.04 72.96,307.10 73.08,306.82 73.21,306.78 73.33,306.78 73.45,306.86 73.58,307.31 73.70,308.59 73.83,311.19 73.95,315.55 74.07,321.87 74.20,330.04 74.32,339.60 74.45,349.78 74.57,359.59 74.69,367.97 74.82,373.94 74.94,376.78 75.06,376.15 75.19,372.12 75.31,365.19 75.44,356.19 75.56,346.13 75.68,336.08 75.81,326.95 75.93,319.42 76.06,313.80 76.18,310.10 76.30,308.02 76.43,307.09 76.55,306.81 76.68,306.78 76.80,306.78 76.92,306.86 77.05,307.30 77.17,308.55 77.30,311.10 77.42,315.37 77.54,321.55 77.67,329.54 77.79,338.88 77.91,348.82 78.04,358.39 78.16,366.56 78.29,372.36 78.41,375.11 78.53,374.47 78.66,370.51 78.78,363.73 78.91,354.93 79.03,345.11 79.15,335.31 79.28,326.41 79.40,319.07 79.53,313.61 79.65,310.01 79.77,307.99 79.90,307.08 80.02,306.81 80.15,306.78 80.27,306.78 80.39,306.86 80.52,307.29 80.64,308.50 80.76,310.97 80.89,315.10 81.01,321.08 81.14,328.80 81.26,337.82 81.38,347.42 81.51,356.65 81.63,364.51 81.76,370.09 81.88,372.72 82.00,372.07 82.13,368.22 82.25,361.66 82.38,353.16 82.50,343.69 82.62,334.24 82.75,325.67 82.87,318.60 83.00,313.35 83.12,309.88 83.24,307.94 83.37,307.07 83.49,306.81 83.61,306.78 83.74,306.78 83.86,306.86 83.99,307.27 84.11,308.42 84.23,310.79 84.36,314.73 84.48,320.45 84.61,327.82 84.73,336.42 84.85,345.57 84.98,354.36 85.10,361.84 85.23,367.13 85.35,369.60 85.47,368.95 85.60,365.27 85.72,358.99 85.85,350.88 85.97,341.86 86.09,332.86 86.22,324.71 86.34,318.00 86.46,313.01 86.59,309.72 86.71,307.88 86.84,307.06 86.96,306.81 87.08,306.78 87.21,306.78 87.33,306.85 87.46,307.24 87.58,308.33 87.70,310.56 87.83,314.28 87.95,319.66 88.08,326.60 88.20,334.70 88.32,343.29 88.45,351.54 88.57,358.54 88.70,363.49 88.82,365.78 88.94,365.14 89.07,361.65 89.19,355.73 89.31,348.11 89.44,339.63 89.56,331.19 89.69,323.56 89.81,317.27 89.93,312.60 90.06,309.53 90.18,307.80 90.31,307.04 90.43,306.81 90.55,306.78 90.68,306.78 90.80,306.85 90.93,307.21 91.05,308.22 91.17,310.29 91.30,313.74 91.42,318.73 91.54,325.15 91.67,332.64 91.79,340.59 91.92,348.20 92.04,354.65 92.16,359.19 92.29,361.27 92.41,360.64 92.54,357.38 92.66,351.90 92.78,344.85 92.91,337.02 93.03,329.24 93.16,322.20 93.28,316.42 93.40,312.12 93.53,309.30 93.65,307.72 93.78,307.02 93.90,306.81 94.02,306.78 94.15,306.78 94.27,306.84 94.39,307.17 94.52,308.09 94.64,309.98 94.77,313.12 94.89,317.66 95.01,323.49 95.14,330.28 95.26,337.47 95.39,344.35 95.51,350.17 95.63,354.25 95.76,356.09 95.88,355.49 96.01,352.50 96.13,347.52 96.25,341.12 96.38,334.04 96.50,327.00 96.63,320.66 96.75,315.44 96.87,311.58 97.00,309.04 97.12,307.62 97.24,306.99 97.37,306.80 97.49,306.78 97.62,306.78 97.74,306.84 97.86,307.13 97.99,307.95 98.11,309.63 98.24,312.42 98.36,316.44 98.48,321.61 98.61,327.62 98.73,333.97 98.86,340.03 98.98,345.14 99.10,348.71 99.23,350.29 99.35,349.71 99.48,347.04 99.60,342.61 99.72,336.96 99.85,330.71 99.97,324.51 100.09,318.93 100.22,314.36 100.34,310.97 100.47,308.75 100.59,307.51 100.71,306.96 100.84,306.80 100.96,306.78 101.09,306.78 101.21,306.83 101.33,307.08 101.46,307.79 101.58,309.24 101.71,311.64 101.83,315.10 101.95,319.54 102.08,324.69 102.20,330.11 102.33,335.28 102.45,339.61 102.57,342.61 102.70,343.92 102.82,343.37 102.94,341.04 103.07,337.23 103.19,332.39 103.32,327.05 103.44,321.78 103.56,317.05 103.69,313.17 103.81,310.31 103.94,308.44 104.06,307.40 104.18,306.93 104.31,306.80 104.43,306.78 104.56,306.78 104.68,306.82 104.80,307.03 104.93,307.62 105.05,308.82 105.18,310.80 105.30,313.65 105.42,317.29 105.55,321.50 105.67,325.93 105.79,330.12 105.92,333.62 106.04,336.02 106.17,337.02 106.29,336.52 106.41,334.57 106.54,331.42 106.66,327.46 106.79,323.12 106.91,318.84 107.03,315.02 107.16,311.90 107.28,309.60 107.41,308.10 107.53,307.27 107.65,306.90 107.78,306.79 107.90,306.78 108.03,306.78 108.15,306.81 108.27,306.98 108.40,307.44 108.52,308.37 108.64,309.90 108.77,312.10 108.89,314.89 109.02,318.11 109.14,321.47 109.26,324.63 109.39,327.25 109.51,329.00 109.64,329.69 109.76,329.23 109.88,327.69 110.01,325.26 110.13,322.23 110.26,318.94 110.38,315.73 110.50,312.87 110.63,310.55 110.75,308.85 110.87,307.75 111.00,307.14 111.12,306.87 111.25,306.79 111.37,306.78 111.49,306.78 111.62,306.80 111.74,306.92 111.87,307.24 111.99,307.89 112.11,308.96 112.24,310.47 112.36,312.37 112.49,314.55 112.61,316.79 112.73,318.87 112.86,320.56 112.98,321.64 113.11,322.00 113.23,321.60 113.35,320.49 113.48,318.81 113.60,316.76 113.72,314.58 113.85,312.47 113.97,310.62 114.10,308.98 114.22,307.49 114.34,306.19 114.47,305.06 114.59,304.07 114.72,303.18 114.84,302.38 114.96,301.70 115.09,301.19 115.21,300.91 115.34,300.72 115.46,300.47 115.58,300.13 115.71,299.67 115.83,299.09 115.96,298.39 116.08,297.62 116.20,296.81 116.33,296.06 116.45,295.41 116.57,294.95 116.70,294.71 116.82,294.73 116.95,294.98 117.07,295.44 117.19,296.04 117.32,296.69 117.44,297.33 117.57,297.88 117.69,298.29 117.81,298.56 117.94,298.69 118.06,298.72 118.19,298.68 118.31,298.62 118.43,298.56 118.56,298.49 118.68,298.38 118.81,298.16 118.93,297.78 119.05,297.15 119.18,296.23 119.30,295.01 119.42,293.56 119.55,291.94 119.67,290.32 119.80,288.85 119.92,287.69 120.04,286.98 120.17,286.81 120.29,287.19 120.42,288.08 120.54,289.37 120.66,290.91 120.79,292.51 120.91,294.02 121.04,295.29 121.16,296.27 121.28,296.91 121.41,297.27 121.53,297.42 121.66,297.45 121.78,297.42 121.90,297.39 122.03,297.34 122.15,297.22 122.27,296.91 122.40,296.31 122.52,295.30 122.65,293.82 122.77,291.87 122.89,289.55 123.02,287.02 123.14,284.51 123.27,282.28 123.39,280.59 123.51,279.64 123.64,279.55 123.76,280.32 123.89,281.87 124.01,284.00 124.13,286.46 124.26,288.99 124.38,291.32 124.51,293.28 124.63,294.75 124.75,295.73 124.88,296.26 125.00,296.48 125.12,296.52 125.25,296.49 125.37,296.45 125.50,296.39 125.62,296.22 125.74,295.80 125.87,294.97 125.99,293.60 126.12,291.60 126.24,288.99 126.36,285.90 126.49,282.56 126.61,279.27 126.74,276.37 126.86,274.21 126.98,273.03 127.11,272.98 127.23,274.07 127.36,276.16 127.48,279.00 127.60,282.26 127.73,285.59 127.85,288.66 127.97,291.22 128.10,293.15 128.22,294.43 128.35,295.14 128.47,295.45 128.59,295.52 128.72,295.50 128.84,295.47 128.97,295.40 129.09,295.20 129.21,294.69 129.34,293.65 129.46,291.92 129.59,289.39 129.71,286.10 129.83,282.20 129.96,277.98 130.08,273.85 130.20,270.23 130.33,267.54 130.45,266.10 130.58,266.09 130.70,267.51 130.82,270.19 130.95,273.80 131.07,277.93 131.20,282.13 131.32,286.00 131.44,289.23 131.57,291.66 131.69,293.27 131.82,294.18 131.94,294.57 132.06,294.67 132.19,294.65 132.31,294.62 132.44,294.56 132.56,294.32 132.68,293.68 132.81,292.41 132.93,290.27 133.05,287.16 133.18,283.11 133.30,278.32 133.43,273.16 133.55,268.12 133.67,263.74 133.80,260.51 133.92,258.83 134.05,258.91 134.17,260.73 134.29,264.07 134.42,268.53 134.54,273.59 134.67,278.71 134.79,283.40 134.91,287.30 135.04,290.22 135.16,292.15 135.29,293.23 135.41,293.70 135.53,293.82 135.66,293.81 135.78,293.77 135.90,293.70 136.03,293.42 136.15,292.69 136.28,291.22 136.40,288.77 136.52,285.22 136.65,280.59 136.77,275.15 136.90,269.30 137.02,263.61 137.14,258.68 137.27,255.08 137.39,253.23 137.52,253.37 137.64,255.48 137.76,259.30 137.89,264.37 138.01,270.10 138.14,275.89 138.26,281.18 138.38,285.58 138.51,288.87 138.63,291.04 138.75,292.26 138.88,292.79 139.00,292.92 139.13,292.91 139.25,292.88 139.37,292.80 139.50,292.49 139.62,291.68 139.75,290.04 139.87,287.31 139.99,283.35 140.12,278.20 140.24,272.13 140.37,265.63 140.49,259.31 140.61,253.84 140.74,249.86 140.86,247.84 140.99,248.02 141.11,250.40 141.23,254.67 141.36,260.31 141.48,266.70 141.60,273.13 141.73,279.02 141.85,283.90 141.98,287.55 142.10,289.97 142.22,291.32 142.35,291.91 142.47,292.07 142.60,292.06 142.72,292.03 142.84,291.95 142.97,291.62 143.09,290.73 143.22,288.94 143.34,285.93 143.46,281.58 143.59,275.92 143.71,269.27 143.84,262.14 143.96,255.23 144.08,249.26 144.21,244.93 144.33,242.77 144.45,243.03 144.58,245.68 144.70,250.40 144.83,256.62 144.95,263.63 145.07,270.68 145.20,277.11 145.32,282.44 145.45,286.43 145.57,289.06 145.69,290.53 145.82,291.18 145.94,291.36 146.07,291.36 146.19,291.34 146.31,291.25 146.44,290.91 146.56,289.96 146.69,288.05 146.81,284.85 146.93,280.20 147.06,274.18 147.18,267.12 147.30,259.56 147.43,252.23 147.55,245.93 147.68,241.38 147.80,239.12 147.92,239.44 148.05,242.30 148.17,247.33 148.30,253.95 148.42,261.39 148.54,268.87 148.67,275.68 148.79,281.33 148.92,285.54 149.04,288.32 149.16,289.88 149.29,290.57 149.41,290.76 149.53,290.77 149.66,290.75 149.78,290.67 149.91,290.31 150.03,289.32 150.15,287.31 150.28,283.96 150.40,279.09 150.53,272.79 150.65,265.39 150.77,257.49 150.90,249.84 151.02,243.26 151.15,238.52 151.27,236.19 151.39,236.55 151.52,239.56 151.64,244.85 151.77,251.78 151.89,259.56 152.01,267.38 152.14,274.50 152.26,280.39 152.38,284.79 152.51,287.69 152.63,289.32 152.76,290.04 152.88,290.25 153.00,290.26 153.13,290.24 153.25,290.16 153.38,289.79 153.50,288.76 153.62,286.68 153.75,283.20 153.87,278.16 154.00,271.63 154.12,263.97 154.24,255.79 154.37,247.88 154.49,241.10 154.62,236.23 154.74,233.85 154.86,234.27 154.99,237.41 155.11,242.91 155.23,250.09 155.36,258.15 155.48,266.23 155.61,273.57 155.73,279.65 155.85,284.18 155.98,287.17 156.10,288.85 156.23,289.59 156.35,289.80 156.47,289.81 156.60,289.80 156.72,289.72 156.85,289.34 156.97,288.30 157.09,286.18 157.22,282.63 157.34,277.50 157.47,270.85 157.59,263.06 157.71,254.76 157.84,246.74 157.96,239.86 158.08,234.94 158.21,232.55 158.33,233.00 158.46,236.22 158.58,241.82 158.70,249.12 158.83,257.30 158.95,265.50 159.08,272.95 159.20,279.11 159.32,283.70 159.45,286.73 159.57,288.43 159.70,289.18 159.82,289.40 159.94,289.41 160.07,289.40 160.19,289.32 160.32,288.94 160.44,287.89 160.56,285.75 160.69,282.18 160.81,277.01 160.93,270.32 161.06,262.48 161.18,254.12 161.31,246.06 161.43,239.16 161.55,234.22 161.68,231.84 161.80,232.31 161.93,235.58 162.05,241.23 162.17,248.60 162.30,256.84 162.42,265.08 162.55,272.57 162.67,278.75 162.79,283.36 162.92,286.39 163.04,288.09 163.17,288.85 163.29,289.06 163.41,289.08 163.54,289.07 163.66,288.99 163.78,288.62 163.91,287.58 164.03,285.47 164.16,281.95 164.28,276.85 164.40,270.26 164.53,262.56 164.65,254.35 164.78,246.46 164.90,239.72 165.02,234.91 165.15,232.63 165.27,233.15 165.40,236.40 165.52,241.98 165.64,249.22 165.77,257.30 165.89,265.38 166.02,272.70 166.14,278.75 166.26,283.24 166.39,286.20 166.51,287.86 166.63,288.59 166.76,288.81 166.88,288.83 167.01,288.81 167.13,288.74 167.25,288.38 167.38,287.38 167.50,285.34 167.63,281.93 167.75,277.00 167.87,270.64 168.00,263.21 168.12,255.31 168.25,247.71 168.37,241.23 168.49,236.64 168.62,234.47 168.74,234.99 168.87,238.15 168.99,243.53 169.11,250.52 169.24,258.30 169.36,266.07 169.48,273.11 169.61,278.91 169.73,283.23 169.86,286.07 169.98,287.66 170.10,288.37 170.23,288.57 170.35,288.59 170.48,288.58 170.60,288.52 170.72,288.17 170.85,287.21 170.97,285.26 171.10,282.00 171.22,277.29 171.34,271.22 171.47,264.12 171.59,256.58 171.71,249.33 171.84,243.17 171.96,238.80 172.09,236.75 172.21,237.28 172.33,240.32 172.46,245.48 172.58,252.16 172.71,259.59 172.83,267.00 172.95,273.71 173.08,279.23 173.20,283.34 173.33,286.04 173.45,287.56 173.57,288.23 173.70,288.43 173.82,288.46 173.95,288.45 174.07,288.39 174.19,288.07 174.32,287.17 174.44,285.34 174.56,282.28 174.69,277.86 174.81,272.17 174.94,265.52 175.06,258.46 175.18,251.69 175.31,245.94 175.43,241.88 175.56,240.00 175.68,240.52 175.80,243.38 175.93,248.23 176.05,254.49 176.18,261.45 176.30,268.38 176.42,274.66 176.55,279.82 176.67,283.66 176.80,286.19 176.92,287.60 177.04,288.23 177.17,288.42 177.29,288.45 177.41,288.44 177.54,288.39 177.66,288.09 177.79,287.26 177.91,285.55 178.03,282.70 178.16,278.58 178.28,273.28 178.41,267.09 178.53,260.52 178.65,254.22 178.78,248.88 178.90,245.12 179.03,243.39 179.15,243.89 179.27,246.58 179.40,251.11 179.52,256.94 179.65,263.41 179.77,269.85 179.89,275.68 180.02,280.47 180.14,284.02 180.26,286.36 180.39,287.67 180.51,288.25 180.64,288.42 180.76,288.45 180.88,288.44 181.01,288.39 181.13,288.12 181.26,287.36 181.38,285.79 181.50,283.19 181.63,279.42 181.75,274.58 181.88,268.95 182.00,262.98 182.12,257.26 182.25,252.43 182.37,249.04 182.50,247.50 182.62,248.00 182.74,250.47 182.87,254.61 182.99,259.92 183.11,265.80 183.24,271.64 183.36,276.91 183.49,281.24 183.61,284.46 183.73,286.56 183.86,287.75 183.98,288.27 184.11,288.43 184.23,288.45 184.35,288.44 184.48,288.40 184.60,288.16 184.73,287.47 184.85,286.07 184.97,283.75 185.10,280.40 185.22,276.09 185.35,271.08 185.47,265.79 185.59,260.74 185.72,256.48 185.84,253.51 185.96,252.19 186.09,252.67 186.21,254.90 186.34,258.60 186.46,263.32 186.58,268.53 186.71,273.69 186.83,278.35 186.96,282.16 187.08,284.98 187.20,286.83 187.33,287.87 187.45,288.33 187.58,288.47 187.70,288.49 187.82,288.49 187.95,288.45 188.07,288.25 188.20,287.66 188.32,286.47 188.44,284.48 188.57,281.62 188.69,277.96 188.81,273.71 188.94,269.23 189.06,264.97 189.19,261.40 189.31,258.93 189.43,257.86 189.56,258.32 189.68,260.25 189.81,263.40 189.93,267.41 190.05,271.82 190.18,276.18 190.30,280.09 190.43,283.30 190.55,285.67 190.67,287.22 190.80,288.09 190.92,288.47 191.04,288.59 191.17,288.61 191.29,288.62 191.42,288.59 191.54,288.42 191.66,287.94 191.79,286.95 191.91,285.31 192.04,282.96 192.16,279.94 192.28,276.46 192.41,272.79 192.53,269.32 192.66,266.43 192.78,264.45 192.90,263.63 193.03,264.06 193.15,265.68 193.28,268.30 193.40,271.60 193.52,275.20 193.65,278.75 193.77,281.93 193.89,284.51 194.02,286.42 194.14,287.66 194.27,288.35 194.39,288.66 194.51,288.76 194.64,288.77 194.76,288.78 194.89,288.76 195.01,288.63 195.13,288.26 195.26,287.51 195.38,286.26 195.51,284.48 195.63,282.21 195.75,279.61 195.88,276.90 196.00,274.36 196.13,272.28 196.25,270.89 196.37,270.36 196.50,270.76 196.62,272.04 196.74,274.02 196.87,276.47 196.99,279.13 197.12,281.71 197.24,284.01 197.36,285.87 197.49,287.23 197.61,288.11 197.74,288.60 197.86,288.82 197.98,288.88 198.11,288.89 198.23,288.90 198.36,288.89 198.48,288.80 198.60,288.55 198.73,288.06 198.85,287.24 198.98,286.09 199.10,284.64 199.22,283.01 199.35,281.33 199.47,279.80 199.59,278.59 199.72,277.84 199.84,277.66 199.97,278.07 200.09,279.01 200.21,280.35 200.34,281.92 200.46,283.57 200.59,285.11 200.71,286.44 200.83,287.48 200.96,288.21 201.08,288.68 201.21,288.93 201.33,289.04 201.45,289.08 201.58,289.09 201.70,289.11 201.83,289.11 201.95,289.09 202.07,289.01 202.20,288.85 202.32,288.59 202.44,288.24 202.57,287.80 202.69,287.33 202.82,286.85 202.94,286.42 203.06,286.09 203.19,285.92 203.31,285.92 203.44,286.08 203.56,286.40 203.68,286.82 203.81,287.31 203.93,287.89 204.06,288.58 204.18,289.32 204.30,290.06 204.43,290.78 204.55,292.15 204.68,292.31 204.80,292.65 204.92,293.05 205.05,293.42 205.17,293.68 205.29,293.83 205.42,294.02 205.54,294.38 205.67,295.04 205.79,296.10 205.91,297.63 206.04,299.63 206.16,302.02 206.29,304.63 206.41,307.24 206.53,309.58 206.66,311.39 206.78,312.47 206.91,312.67 207.03,311.98 207.15,310.48 207.28,308.36 207.40,305.87 207.53,303.30 207.65,300.90 207.77,298.88 207.90,297.35 208.02,296.33 208.14,295.77 208.27,295.54 208.39,295.49 208.52,295.53 208.64,295.57 208.76,295.63 208.89,295.81 209.01,296.26 209.14,297.16 209.26,298.66 209.38,300.85 209.51,303.72 209.63,307.14 209.76,310.85 209.88,314.52 210.00,317.76 210.13,320.19 210.25,321.54 210.37,321.63 210.50,320.44 210.62,318.12 210.75,314.96 210.87,311.31 210.99,307.59 211.12,304.14 211.24,301.25 211.37,299.07 211.49,297.63 211.61,296.81 211.74,296.46 211.86,296.38 211.99,296.39 212.11,296.43 212.23,296.49 212.36,296.72 212.48,297.30 212.61,298.48 212.73,300.44 212.85,303.32 212.98,307.07 213.10,311.51 213.22,316.32 213.35,321.04 213.47,325.17 213.60,328.24 213.72,329.89 213.84,329.91 213.97,328.30 214.09,325.25 214.22,321.13 214.34,316.43 214.46,311.65 214.59,307.25 214.71,303.58 214.84,300.83 214.96,299.00 215.08,297.98 215.21,297.55 215.33,297.44 215.46,297.46 215.58,297.50 215.70,297.59 215.83,297.86 215.95,298.58 216.07,300.02 216.20,302.43 216.32,305.94 216.45,310.51 216.57,315.91 216.69,321.72 216.82,327.41 216.94,332.36 217.07,336.01 217.19,337.92 217.31,337.86 217.44,335.83 217.56,332.08 217.69,327.07 217.81,321.37 217.93,315.60 218.06,310.30 218.18,305.89 218.31,302.59 218.43,300.40 218.55,299.18 218.68,298.65 218.80,298.51 218.92,298.53 219.05,298.57 219.17,298.65 219.30,298.97 219.42,299.80 219.54,301.49 219.67,304.30 219.79,308.38 219.92,313.70 220.04,319.96 220.16,326.70 220.29,333.27 220.41,338.96 220.54,343.14 220.66,345.29 220.78,345.15 220.91,342.74 221.03,338.35 221.16,332.52 221.28,325.90 221.40,319.22 221.53,313.10 221.65,308.02 221.77,304.21 221.90,301.70 222.02,300.29 222.15,299.67 222.27,299.51 222.39,299.52 222.52,299.56 222.64,299.65 222.77,300.00 222.89,300.94 223.01,302.84 223.14,306.01 223.26,310.62 223.39,316.61 223.51,323.66 223.63,331.22 223.76,338.59 223.88,344.95 224.01,349.60 224.13,351.96 224.25,351.75 224.38,348.99 224.50,344.02 224.62,337.44 224.75,330.01 224.87,322.51 225.00,315.65 225.12,309.96 225.24,305.71 225.37,302.90 225.49,301.32 225.62,300.63 225.74,300.45 225.86,300.45 225.99,300.49 226.11,300.58 226.24,300.97 226.36,302.00 226.48,304.09 226.61,307.58 226.73,312.65 226.86,319.24 226.98,326.98 227.10,335.28 227.23,343.34 227.35,350.30 227.47,355.35 227.60,357.89 227.72,357.61 227.85,354.54 227.97,349.06 228.09,341.83 228.22,333.67 228.34,325.46 228.47,317.96 228.59,311.74 228.71,307.09 228.84,304.02 228.96,302.30 229.09,301.54 229.21,301.34 229.33,301.34 229.46,301.38 229.58,301.48 229.70,301.89 229.83,303.00 229.95,305.26 230.08,309.03 230.20,314.50 230.32,321.60 230.45,329.94 230.57,338.87 230.70,347.53 230.82,354.99 230.94,360.40 231.07,363.09 231.19,362.75 231.32,359.41 231.44,353.49 231.56,345.69 231.69,336.91 231.81,328.08 231.94,320.03 232.06,313.35 232.18,308.37 232.31,305.08 232.43,303.24 232.55,302.43 232.68,302.21 232.80,302.21 232.93,302.24 233.05,302.34 233.17,302.78 233.30,303.96 233.42,306.36 233.55,310.36 233.67,316.17 233.79,323.70 233.92,332.54 234.04,341.99 234.17,351.15 234.29,359.03 234.41,364.72 234.54,367.54 234.66,367.14 234.79,363.58 234.91,357.28 235.03,349.01 235.16,339.71 235.28,330.37 235.40,321.86 235.53,314.81 235.65,309.55 235.78,306.08 235.90,304.13 236.02,303.28 236.15,303.04 236.27,303.04 236.40,303.07 236.52,303.18 236.64,303.63 236.77,304.87 236.89,307.38 237.02,311.57 237.14,317.65 237.26,325.52 237.39,334.76 237.51,344.63 237.64,354.19 237.76,362.40 237.88,368.31 238.01,371.22 238.13,370.77 238.25,367.02 238.38,360.42 238.50,351.77 238.63,342.06 238.75,332.32 238.87,323.44 239.00,316.10 239.12,310.62 239.25,307.00 239.37,304.98 239.49,304.09 239.62,303.84 239.74,303.84 239.87,303.87 239.99,303.97 240.11,304.44 240.24,305.72 240.36,308.32 240.49,312.65 240.61,318.93 240.73,327.06 240.86,336.60 240.98,346.78 241.10,356.63 241.23,365.08 241.35,371.15 241.48,374.12 241.60,373.63 241.72,369.73 241.85,362.90 241.97,353.97 242.10,343.95 242.22,333.91 242.34,324.77 242.47,317.21 242.59,311.57 242.72,307.86 242.84,305.77 242.96,304.86 243.09,304.60 243.21,304.59 243.34,304.62 243.46,304.73 243.58,305.21 243.71,306.51 243.83,309.17 243.95,313.60 244.08,320.01 244.20,328.32 244.33,338.05 244.45,348.43 244.57,358.47 244.70,367.06 244.82,373.24 244.95,376.24 245.07,375.70 245.19,371.70 245.32,364.72 245.44,355.60 245.57,345.38 245.69,335.15 245.81,325.84 245.94,318.14 246.06,312.41 246.19,308.63 246.31,306.51 246.43,305.57 246.56,305.31 246.68,305.30 246.80,305.33 246.93,305.44 247.05,305.92 247.18,307.24 247.30,309.92 247.42,314.40 247.55,320.89 247.67,329.28 247.80,339.10 247.92,349.58 248.04,359.70 248.17,368.36 248.29,374.56 248.42,377.56 248.54,376.99 248.66,372.92 248.79,365.86 248.91,356.65 249.03,346.34 249.16,336.02 249.28,326.64 249.41,318.89 249.53,313.11 249.65,309.31"/>
</g>
<g clip-path="url(#cpd)">
<polyline class="halo" stroke="#0000ff" points="346.43,336.69 346.56,327.39 346.68,319.70 346.80,313.97 346.93,310.18 347.05,308.05 347.17,307.10 347.30,306.82 347.42,306.78 347.55,306.78 347.67,306.87 347.79,307.32 347.92,308.60 348.04,311.24 348.16,315.64 348.29,322.03 348.41,330.30 348.54,339.98 348.66,350.29 348.78,360.24 348.91,368.74 349.03,374.82 349.15,377.72 349.28,377.11 349.40,373.05 349.52,366.04 349.65,356.93 349.77,346.73 349.90,336.54 350.02,327.28 350.14,319.62 350.27,313.92 350.39,310.16 350.51,308.04 350.64,307.10 350.76,306.82 350.89,306.78 351.01,306.78 351.13,306.86 351.26,307.31 351.38,308.59 351.50,311.19 351.63,315.55 351.75,321.87 351.88,330.04 352.00,339.60 352.12,349.78 352.25,359.59 352.37,367.97 352.49,373.94 352.62,376.78 352.74,376.15 352.87,372.12 352.99,365.19 353.11,356.19 353.24,346.13 353.36,336.08 353.48,326.95 353.61,319.42 353.73,313.80 353.86,310.10 353.98,308.02 354.10,307.09 354.23,306.81 354.35,306.78 354.47,306.78 354.60,306.86 354.72,307.30 354.85,308.55 354.97,311.10 355.09,315.37 355.22,321.55 355.34,329.54 355.46,338.88 355.59,348.82 355.71,358.39 355.83,366.56 355.96,372.36 356.08,375.11 356.21,374.47 356.33,370.51 356.45,363.73 356.58,354.93 356.70,345.11 356.82,335.31 356.95,326.41 357.07,319.07 357.20,313.61 357.32,310.01 357.44,307.99 357.57,307.08 357.69,306.81 357.81,306.78 357.94,306.78 358.06,306.86 358.19,307.29 358.31,308.50 358.43,310.97 358.56,315.10 358.68,321.08 358.80,328.80 358.93,337.82 359.05,347.42 359.18,356.65 359.30,364.51 359.42,370.09 359.55,372.72 359.67,372.07 359.79,368.22 359.92,361.66 360.04,353.16 360.17,343.69 360.29,334.24 360.41,325.67 360.54,318.60 360.66,313.35 360.78,309.88 360.91,307.94 361.03,307.07 361.15,306.81 361.28,306.78 361.40,306.78 361.53,306.86 361.65,307.27 361.77,308.42 361.90,310.79 362.02,314.73 362.14,320.45 362.27,327.82 362.39,336.42 362.52,345.57 362.64,354.36 362.76,361.84 362.89,367.13 363.01,369.60 363.13,368.95 363.26,365.27 363.38,358.99 363.51,350.88 363.63,341.86 363.75,332.86 363.88,324.71 364.00,318.00 364.12,313.01 364.25,309.72 364.37,307.88 364.50,307.06 364.62,306.81 364.74,306.78 364.87,306.78 364.99,306.85 365.11,307.24 365.24,308.33 365.36,310.56 365.49,314.28 365.61,319.66 365.73,326.60 365.86,334.70 365.98,343.29 366.10,351.54 366.23,358.54 366.35,363.49 366.48,365.78 366.60,365.14 366.72,361.65 366.85,355.73 366.97,348.11 367.09,339.63 367.22,331.19 367.34,323.56 367.46,317.27 367.59,312.60 367.71,309.53 367.84,307.80 367.96,307.04 368.08,306.81 368.21,306.78 368.33,306.78 368.45,306.85 368.58,307.21 368.70,308.22 368.83,310.29 368.95,313.74 369.07,318.73 369.20,325.15 369.32,332.64 369.44,340.59 369.57,348.20 369.69,354.65 369.82,359.19 369.94,361.27 370.06,360.64 370.19,357.38 370.31,351.90 370.43,344.85 370.56,337.02 370.68,329.24 370.81,322.20 370.93,316.42 371.05,312.12 371.18,309.30 371.30,307.72 371.42,307.02 371.55,306.81 371.67,306.78 371.80,306.78 371.92,306.84 372.04,307.17 372.17,308.09 372.29,309.98 372.41,313.12 372.54,317.66 372.66,323.49 372.78,330.28 372.91,337.47 373.03,344.35 373.16,350.17 373.28,354.25 373.40,356.09 373.53,355.49 373.65,352.50 373.77,347.52 373.90,341.12 374.02,334.04 374.15,327.00 374.27,320.66 374.39,315.44 374.52,311.58 374.64,309.04 374.76,307.62 374.89,306.99 375.01,306.80 375.14,306.78 375.26,306.78 375.38,306.84 375.51,307.13 375.63,307.95 375.75,309.63 375.88,312.42 376.00,316.44 376.13,321.61 376.25,327.62 376.37,333.97 376.50,340.03 376.62,345.14 376.74,348.71 376.87,350.29 376.99,349.71 377.12,347.04 377.24,342.61 377.36,336.96 377.49,330.71 377.61,324.51 377.73,318.93 377.86,314.36 377.98,310.97 378.11,308.75 378.23,307.51 378.35,306.96 378.48,306.80 378.60,306.78 378.72,306.78 378.85,306.83 378.97,307.08 379.09,307.79 379.22,309.24 379.34,311.64 379.47,315.10 379.59,319.54 379.71,324.69 379.84,330.11 379.96,335.28 380.08,339.61 380.21,342.61 380.33,343.92 380.46,343.37 380.58,341.04 380.70,337.23 380.83,332.39 380.95,327.05 381.07,321.78 381.20,317.05 381.32,313.17 381.45,310.31 381.57,308.44 381.69,307.40 381.82,306.93 381.94,306.80 382.06,306.78 382.19,306.78 382.31,306.82 382.44,307.03 382.56,307.62 382.68,308.82 382.81,310.80 382.93,313.65 383.05,317.29 383.18,321.50 383.30,325.93 383.43,330.12 383.55,333.62 383.67,336.02 383.80,337.02 383.92,336.52 384.04,334.57 384.17,331.42 384.29,327.46 384.41,323.12 384.54,318.84 384.66,315.02 384.79,311.90 384.91,309.60 385.03,308.10 385.16,307.27 385.28,306.90 385.40,306.79 385.53,306.78 385.65,306.78 385.78,306.81 385.90,306.98 386.02,307.44 386.15,308.37 386.27,309.90 386.39,312.10 386.52,314.89 386.64,318.11 386.77,321.47 386.89,324.63 387.01,327.25 387.14,329.00 387.26,329.69 387.38,329.23 387.51,327.69 387.63,325.26 387.76,322.23 387.88,318.94 388.00,315.73 388.13,312.87 388.25,310.55 388.37,308.85 388.50,307.75 388.62,307.14 388.75,306.87 388.87,306.79 388.99,306.78 389.12,306.78 389.24,306.80 389.36,306.92 389.49,307.24 389.61,307.89 389.74,308.96 389.86,310.47 389.98,312.37 390.11,314.55 390.23,316.79 390.35,318.87 390.48,320.56 390.60,321.64 390.72,322.00 390.85,321.60 390.97,320.49 391.10,318.81 391.22,316.76 391.34,314.58 391.47,312.47 391.59,310.62 391.71,308.98 391.84,307.49 391.96,306.19 392.09,305.06 392.21,304.07 392.33,303.18 392.46,302.38 392.58,301.70 392.70,301.19 392.83,300.91 392.95,300.72 393.08,300.47 393.20,300.13 393.32,299.67 393.45,299.09 393.57,298.39 393.69,297.62 393.82,296.81 393.94,296.06 394.07,295.41 394.19,294.95 394.31,294.71 394.44,294.73 394.56,294.98 394.68,295.44 394.81,296.04 394.93,296.69 395.06,297.33 395.18,297.88 395.30,298.29 395.43,298.56 395.55,298.69 395.67,298.72 395.80,298.68 395.92,298.62 396.04,298.56 396.17,298.49 396.29,298.38 396.42,298.16 396.54,297.78 396.66,297.15 396.79,296.23 396.91,295.01 397.03,293.56 397.16,291.94 397.28,290.32 397.41,288.85 397.53,287.69 397.65,286.98 397.78,286.81 397.90,287.19 398.02,288.08 398.15,289.37 398.27,290.91 398.40,292.51 398.52,294.02 398.64,295.29 398.77,296.27 398.89,296.91 399.01,297.27 399.14,297.42 399.26,297.45 399.39,297.42 399.51,297.39 399.63,297.34 399.76,297.22 399.88,296.91 400.00,296.31 400.13,295.30 400.25,293.82 400.38,291.87 400.50,289.55 400.62,287.02 400.75,284.51 400.87,282.28 400.99,280.59 401.12,279.64 401.24,279.55 401.37,280.32 401.49,281.87 401.61,284.00 401.74,286.46 401.86,288.99 401.98,291.32 402.11,293.28 402.23,294.75 402.35,295.73 402.48,296.26 402.60,296.48 402.73,296.52 402.85,296.49 402.97,296.45 403.10,296.39 403.22,296.22 403.34,295.80 403.47,294.97 403.59,293.60 403.72,291.60 403.84,288.99 403.96,285.90 404.09,282.56 404.21,279.27 404.33,276.37 404.46,274.21 404.58,273.03 404.71,272.98 404.83,274.07 404.95,276.16 405.08,279.00 405.20,282.26 405.32,285.59 405.45,288.66 405.57,291.22 405.70,293.15 405.82,294.43 405.94,295.14 406.07,295.45 406.19,295.52 406.31,295.50 406.44,295.47 406.56,295.40 406.69,295.20 406.81,294.69 406.93,293.65 407.06,291.92 407.18,289.39 407.30,286.10 407.43,282.20 407.55,277.98 407.67,273.85 407.80,270.23 407.92,267.54 408.05,266.10 408.17,266.09 408.29,267.51 408.42,270.19 408.54,273.80 408.66,277.93 408.79,282.13 408.91,286.00 409.04,289.23 409.16,291.66 409.28,293.27 409.41,294.18 409.53,294.57 409.65,294.67 409.78,294.65 409.90,294.62 410.03,294.56 410.15,294.32 410.27,293.68 410.40,292.41 410.52,290.27 410.64,287.16 410.77,283.11 410.89,278.32 411.02,273.16 411.14,268.12 411.26,263.74 411.39,260.51 411.51,258.83 411.63,258.91 411.76,260.73 411.88,264.07 412.01,268.53 412.13,273.59 412.25,278.71 412.38,283.40 412.50,287.30 412.62,290.22 412.75,292.15 412.87,293.23 413.00,293.70 413.12,293.82 413.24,293.81 413.37,293.77 413.49,293.70 413.61,293.42 413.74,292.69 413.86,291.22 413.98,288.77 414.11,285.22 414.23,280.59 414.36,275.15 414.48,269.30 414.60,263.61 414.73,258.68 414.85,255.08 414.97,253.23 415.10,253.37 415.22,255.48 415.35,259.30 415.47,264.37 415.59,270.10 415.72,275.89 415.84,281.18 415.96,285.58 416.09,288.87 416.21,291.04 416.34,292.26 416.46,292.79 416.58,292.92 416.71,292.91 416.83,292.88 416.95,292.80 417.08,292.49 417.20,291.68 417.33,290.04 417.45,287.31 417.57,283.35 417.70,278.20 417.82,272.13 417.94,265.63 418.07,259.31 418.19,253.84 418.32,249.86 418.44,247.84 418.56,248.02 418.69,250.40 418.81,254.67 418.93,260.31 419.06,266.70 419.18,273.13 419.30,279.02 419.43,283.90 419.55,287.55 419.68,289.97 419.80,291.32 419.92,291.91 420.05,292.07 420.17,292.06 420.29,292.03 420.42,291.95 420.54,291.62 420.67,290.73 420.79,288.94 420.91,285.93 421.04,281.58 421.16,275.92 421.28,269.27 421.41,262.14 421.53,255.23 421.66,249.26 421.78,244.93 421.90,242.77 422.03,243.03 422.15,245.68 422.27,250.40 422.40,256.62 422.52,263.63 422.65,270.68 422.77,277.11 422.89,282.44 423.02,286.43 423.14,289.06 423.26,290.53 423.39,291.18 423.51,291.36 423.64,291.36 423.76,291.34 423.88,291.25 424.01,290.91 424.13,289.96 424.25,288.05 424.38,284.85 424.50,280.20 424.63,274.18 424.75,267.12 424.87,259.56 425.00,252.23 425.12,245.93 425.24,241.38 425.37,239.12 425.49,239.44 425.61,242.30 425.74,247.33 425.86,253.95 425.99,261.39 426.11,268.87 426.23,275.68 426.36,281.33 426.48,285.54 426.60,288.32 426.73,289.88 426.85,290.57 426.98,290.76 427.10,290.77 427.22,290.75 427.35,290.67 427.47,290.31 427.59,289.32 427.72,287.31 427.84,283.96 427.97,279.09 428.09,272.79 428.21,265.39 428.34,257.49 428.46,249.84 428.58,243.26 428.71,238.52 428.83,236.19 428.96,236.55 429.08,239.56 429.20,244.85 429.33,251.78 429.45,259.56 429.57,267.38 429.70,274.50 429.82,280.39 429.95,284.79 430.07,287.69 430.19,289.32 430.32,290.04 430.44,290.25 430.56,290.26 430.69,290.24 430.81,290.16 430.93,289.79 431.06,288.76 431.18,286.68 431.31,283.20 431.43,278.16 431.55,271.63 431.68,263.97 431.80,255.79 431.92,247.88 432.05,241.10 432.17,236.23 432.30,233.85 432.42,234.27 432.54,237.41 432.67,242.91 432.79,250.09 432.91,258.15 433.04,266.23 433.16,273.57 433.29,279.65 433.41,284.18 433.53,287.17 433.66,288.85 433.78,289.59 433.90,289.80 434.03,289.81 434.15,289.80 434.28,289.72 434.40,289.34 434.52,288.30 434.65,286.18 434.77,282.63 434.89,277.50 435.02,270.85 435.14,263.06 435.27,254.76 435.39,246.74 435.51,239.86 435.64,234.94 435.76,232.55 435.88,233.00 436.01,236.22 436.13,241.82 436.26,249.12 436.38,257.30 436.50,265.50 436.63,272.95 436.75,279.11 436.87,283.70 437.00,286.73 437.12,288.43 437.24,289.18 437.37,289.40 437.49,289.41 437.62,289.40 437.74,289.32 437.86,288.94 437.99,287.89 438.11,285.75 438.23,282.18 438.36,277.01 438.48,270.32 438.61,262.48 438.73,254.12 438.85,246.06 438.98,239.16 439.10,234.22 439.22,231.84 439.35,232.31 439.47,235.58 439.60,241.23 439.72,248.60 439.84,256.84 439.97,265.08 440.09,272.57 440.21,278.75 440.34,283.36 440.46,286.39 440.59,288.09 440.71,288.85 440.83,289.06 440.96,289.08 441.08,289.07 441.20,288.99 441.33,288.62 441.45,287.58 441.58,285.47 441.70,281.95 441.82,276.85 441.95,270.26 442.07,262.56 442.19,254.35 442.32,246.46 442.44,239.72 442.57,234.91 442.69,232.63 442.81,233.15 442.94,236.40 443.06,241.98 443.18,249.22 443.31,257.30 443.43,265.38 443.55,272.70 443.68,278.75 443.80,283.24 443.93,286.20 444.05,287.86 444.17,288.59 444.30,288.81 444.42,288.83 444.54,288.81 444.67,288.74 444.79,288.38 444.92,287.38 445.04,285.34 445.16,281.93 445.29,277.00 445.41,270.64 445.53,263.21 445.66,255.31 445.78,247.71 445.91,241.23 446.03,236.64 446.15,234.47 446.28,234.99 446.40,238.15 446.52,243.53 446.65,250.52 446.77,258.30 446.90,266.07 447.02,273.11 447.14,278.91 447.27,283.23 447.39,286.07 447.51,287.66 447.64,288.37 447.76,288.57 447.89,288.59 448.01,288.58 448.13,288.52 448.26,288.17 448.38,287.21 448.50,285.26 448.63,282.00 448.75,277.29 448.87,271.22 449.00,264.12 449.12,256.58 449.25,249.33 449.37,243.17 449.49,238.80 449.62,236.75 449.74,237.28 449.86,240.32 449.99,245.48 450.11,252.16 450.24,259.59 450.36,267.00 450.48,273.71 450.61,279.23 450.73,283.34 450.85,286.04 450.98,287.56 451.10,288.23 451.23,288.43 451.35,288.46 451.47,288.45 451.60,288.39 451.72,288.07 451.84,287.17 451.97,285.34 452.09,282.28 452.22,277.86 452.34,272.17 452.46,265.52 452.59,258.46 452.71,251.69 452.83,245.94 452.96,241.88 453.08,240.00 453.21,240.52 453.33,243.38 453.45,248.23 453.58,254.49 453.70,261.45 453.82,268.38 453.95,274.66 454.07,279.82 454.20,283.66 454.32,286.19 454.44,287.60 454.57,288.23 454.69,288.42 454.81,288.45 454.94,288.44 455.06,288.39 455.18,288.09 455.31,287.26 455.43,285.55 455.56,282.70 455.68,278.58 455.80,273.28 455.93,267.09 456.05,260.52 456.17,254.22 456.30,248.88 456.42,245.12 456.55,243.39 456.67,243.89 456.79,246.58 456.92,251.11 457.04,256.94 457.16,263.41 457.29,269.85 457.41,275.68 457.54,280.47 457.66,284.02 457.78,286.36 457.91,287.67 458.03,288.25 458.15,288.42 458.28,288.45 458.40,288.44 458.53,288.39 458.65,288.12 458.77,287.36 458.90,285.79 459.02,283.19 459.14,279.42 459.27,274.58 459.39,268.95 459.52,262.98 459.64,257.26 459.76,252.43 459.89,249.04 460.01,247.50 460.13,248.00 460.26,250.47 460.38,254.61 460.50,259.92 460.63,265.80 460.75,271.64 460.88,276.91 461.00,281.24 461.12,284.46 461.25,286.56 461.37,287.75 461.49,288.27 461.62,288.43 461.74,288.45 461.87,288.44 461.99,288.40 462.11,288.16 462.24,287.47 462.36,286.07 462.48,283.75 462.61,280.40 462.73,276.09 462.86,271.08 462.98,265.79 463.10,260.74 463.23,256.48 463.35,253.51 463.47,252.19 463.60,252.67 463.72,254.90 463.85,258.60 463.97,263.32 464.09,268.53 464.22,273.69 464.34,278.35 464.46,282.16 464.59,284.98 464.71,286.83 464.84,287.87 464.96,288.33 465.08,288.47 465.21,288.49 465.33,288.49 465.45,288.45 465.58,288.25 465.70,287.66 465.83,286.47 465.95,284.48 466.07,281.62 466.20,277.96 466.32,273.71 466.44,269.23 466.57,264.97 466.69,261.40 466.81,258.93 466.94,257.86 467.06,258.32 467.19,260.25 467.31,263.40 467.43,267.41 467.56,271.82 467.68,276.18 467.80,280.09 467.93,283.30 468.05,285.67 468.18,287.22 468.30,288.09 468.42,288.47 468.55,288.59 468.67,288.61 468.79,288.62 468.92,288.59 469.04,288.42 469.17,287.94 469.29,286.95 469.41,285.31 469.54,282.96 469.66,279.94 469.78,276.46 469.91,272.79 470.03,269.32 470.16,266.43 470.28,264.45 470.40,263.63 470.53,264.06 470.65,265.68 470.77,268.30 470.90,271.60 471.02,275.20 471.15,278.75 471.27,281.93 471.39,284.51 471.52,286.42 471.64,287.66 471.76,288.35 471.89,288.66 472.01,288.76 472.13,288.77 472.26,288.78 472.38,288.76 472.51,288.63 472.63,288.26 472.75,287.51 472.88,286.26 473.00,284.48 473.12,282.21 473.25,279.61 473.37,276.90 473.50,274.36 473.62,272.28 473.74,270.89 473.87,270.36 473.99,270.76 474.11,272.04 474.24,274.02 474.36,276.47 474.49,279.13 474.61,281.71 474.73,284.01 474.86,285.87 474.98,287.23 475.10,288.11 475.23,288.60 475.35,288.82 475.48,288.88 475.60,288.89 475.72,288.90 475.85,288.89 475.97,288.80 476.09,288.55 476.22,288.06 476.34,287.24 476.47,286.09 476.59,284.64 476.71,283.01 476.84,281.33 476.96,279.80 477.08,278.59 477.21,277.84 477.33,277.66 477.46,278.07 477.58,279.01 477.70,280.35 477.83,281.92 477.95,283.57 478.07,285.11 478.20,286.44 478.32,287.48 478.44,288.21 478.57,288.68 478.69,288.93 478.82,289.04 478.94,289.08 479.06,289.09 479.19,289.11 479.31,289.11 479.43,289.09 479.56,289.01 479.68,288.85 479.81,288.59 479.93,288.24 480.05,287.80 480.18,287.33 480.30,286.85 480.42,286.42 480.55,286.09 480.67,285.92 480.80,285.92 480.92,286.08 481.04,286.40 481.17,286.82 481.29,287.31 481.41,287.89 481.54,288.58 481.66,289.32 481.79,290.06 481.91,290.78 482.03,292.15 482.16,292.31 482.28,292.65 482.40,293.05 482.53,293.42 482.65,293.68 482.78,293.83 482.90,294.02 483.02,294.38 483.15,295.04 483.27,296.10 483.39,297.63 483.52,299.63 483.64,302.02 483.76,304.63 483.89,307.24 484.01,309.58 484.14,311.39 484.26,312.47 484.38,312.67 484.51,311.98 484.63,310.48 484.75,308.36 484.88,305.87 485.00,303.30 485.13,300.90 485.25,298.88 485.37,297.35 485.50,296.33 485.62,295.77 485.74,295.54 485.87,295.49 485.99,295.53 486.12,295.57 486.24,295.63 486.36,295.81 486.49,296.26 486.61,297.16 486.73,298.66 486.86,300.85 486.98,303.72 487.11,307.14 487.23,310.85 487.35,314.52 487.48,317.76 487.60,320.19 487.72,321.54 487.85,321.63 487.97,320.44 488.10,318.12 488.22,314.96 488.34,311.31 488.47,307.59 488.59,304.14 488.71,301.25 488.84,299.07 488.96,297.63 489.09,296.81 489.21,296.46 489.33,296.38 489.46,296.39 489.58,296.43 489.70,296.49 489.83,296.72 489.95,297.30 490.07,298.48 490.20,300.44 490.32,303.32 490.45,307.07 490.57,311.51 490.69,316.32 490.82,321.04 490.94,325.17 491.06,328.24 491.19,329.89 491.31,329.91 491.44,328.30 491.56,325.25 491.68,321.13 491.81,316.43 491.93,311.65 492.05,307.25 492.18,303.58 492.30,300.83 492.43,299.00 492.55,297.98 492.67,297.55 492.80,297.44 492.92,297.46 493.04,297.50 493.17,297.59 493.29,297.86 493.42,298.58 493.54,300.02 493.66,302.43 493.79,305.94 493.91,310.51 494.03,315.91 494.16,321.72 494.28,327.41 494.41,332.36 494.53,336.01 494.65,337.92 494.78,337.86 494.90,335.83 495.02,332.08 495.15,327.07 495.27,321.37 495.39,315.60 495.52,310.30 495.64,305.89 495.77,302.59 495.89,300.40 496.01,299.18 496.14,298.65 496.26,298.51 496.38,298.53 496.51,298.57 496.63,298.65 496.76,298.97 496.88,299.80 497.00,301.49 497.13,304.30 497.25,308.38 497.37,313.70 497.50,319.96 497.62,326.70 497.75,333.27 497.87,338.96 497.99,343.14 498.12,345.29 498.24,345.15 498.36,342.74 498.49,338.35 498.61,332.52 498.74,325.90 498.86,319.22 498.98,313.10 499.11,308.02 499.23,304.21 499.35,301.70 499.48,300.29 499.60,299.67 499.73,299.51 499.85,299.52 499.97,299.56 500.10,299.65 500.22,300.00 500.34,300.94 500.47,302.84 500.59,306.01 500.72,310.62 500.84,316.61 500.96,323.66 501.09,331.22 501.21,338.59 501.33,344.95 501.46,349.60 501.58,351.96 501.70,351.75 501.83,348.99 501.95,344.02 502.08,337.44 502.20,330.01 502.32,322.51 502.45,315.65 502.57,309.96 502.69,305.71 502.82,302.90 502.94,301.32 503.07,300.63 503.19,300.45 503.31,300.45 503.44,300.49 503.56,300.58 503.68,300.97 503.81,302.00 503.93,304.09 504.06,307.58 504.18,312.65 504.30,319.24 504.43,326.98 504.55,335.28 504.67,343.34 504.80,350.30 504.92,355.35 505.05,357.89 505.17,357.61 505.29,354.54 505.42,349.06 505.54,341.83 505.66,333.67 505.79,325.46 505.91,317.96 506.04,311.74 506.16,307.09 506.28,304.02 506.41,302.30 506.53,301.54 506.65,301.34 506.78,301.34 506.90,301.38 507.02,301.48 507.15,301.89 507.27,303.00 507.40,305.26 507.52,309.03 507.64,314.50 507.77,321.60 507.89,329.94 508.01,338.87 508.14,347.53 508.26,354.99 508.39,360.40 508.51,363.09 508.63,362.75 508.76,359.41 508.88,353.49 509.00,345.69 509.13,336.91 509.25,328.08 509.38,320.03 509.50,313.35 509.62,308.37 509.75,305.08 509.87,303.24 509.99,302.43 510.12,302.21 510.24,302.21 510.37,302.24 510.49,302.34 510.61,302.78 510.74,303.96 510.86,306.36 510.98,310.36 511.11,316.17 511.23,323.70 511.36,332.54 511.48,341.99 511.60,351.15 511.73,359.03 511.85,364.72 511.97,367.54 512.10,367.14 512.22,363.58 512.35,357.28 512.47,349.01 512.59,339.71 512.72,330.37 512.84,321.86 512.96,314.81 513.09,309.55 513.21,306.08 513.33,304.13 513.46,303.28 513.58,303.04 513.71,303.04 513.83,303.07 513.95,303.18 514.08,303.63 514.20,304.87 514.32,307.38 514.45,311.57 514.57,317.65 514.70,325.52 514.82,334.76 514.94,344.63 515.07,354.19 515.19,362.40 515.31,368.31 515.44,371.22 515.56,370.77 515.69,367.02 515.81,360.42 515.93,351.77 516.06,342.06 516.18,332.32 516.30,323.44 516.43,316.10 516.55,310.62 516.68,307.00 516.80,304.98 516.92,304.09 517.05,303.84 517.17,303.84 517.29,303.87 517.42,303.97 517.54,304.44 517.67,305.72 517.79,308.32 517.91,312.65 518.04,318.93 518.16,327.06 518.28,336.60 518.41,346.78 518.53,356.63 518.65,365.08 518.78,371.15 518.90,374.12 519.03,373.63 519.15,369.73 519.27,362.90 519.40,353.97 519.52,343.95 519.64,333.91 519.77,324.77 519.89,317.21 520.02,311.57 520.14,307.86 520.26,305.77 520.39,304.86 520.51,304.60 520.63,304.59 520.76,304.62 520.88,304.73 521.01,305.21 521.13,306.51 521.25,309.17 521.38,313.60 521.50,320.01 521.62,328.32 521.75,338.05 521.87,348.43 522.00,358.47 522.12,367.06 522.24,373.24 522.37,376.24 522.49,375.70 522.61,371.70 522.74,364.72 522.86,355.60 522.99,345.38 523.11,335.15 523.23,325.84 523.36,318.14 523.48,312.41 523.60,308.63 523.73,306.51 523.85,305.57 523.98,305.31 524.10,305.30 524.22,305.33 524.35,305.44 524.47,305.92 524.59,307.24 524.72,309.92 524.84,314.40 524.96,320.89 525.09,329.28 525.21,339.10 525.34,349.58 525.46,359.70 525.58,368.36 525.71,374.56 525.83,377.56 525.95,376.99 526.08,372.92 526.20,365.86 526.33,356.65 526.45,346.34 526.57,336.02 526.70,326.64 526.82,318.89 526.94,313.11 527.07,309.31"/><polyline class="ln" stroke="#0000ff" points="346.43,336.69 346.56,327.39 346.68,319.70 346.80,313.97 346.93,310.18 347.05,308.05 347.17,307.10 347.30,306.82 347.42,306.78 347.55,306.78 347.67,306.87 347.79,307.32 347.92,308.60 348.04,311.24 348.16,315.64 348.29,322.03 348.41,330.30 348.54,339.98 348.66,350.29 348.78,360.24 348.91,368.74 349.03,374.82 349.15,377.72 349.28,377.11 349.40,373.05 349.52,366.04 349.65,356.93 349.77,346.73 349.90,336.54 350.02,327.28 350.14,319.62 350.27,313.92 350.39,310.16 350.51,308.04 350.64,307.10 350.76,306.82 350.89,306.78 351.01,306.78 351.13,306.86 351.26,307.31 351.38,308.59 351.50,311.19 351.63,315.55 351.75,321.87 351.88,330.04 352.00,339.60 352.12,349.78 352.25,359.59 352.37,367.97 352.49,373.94 352.62,376.78 352.74,376.15 352.87,372.12 352.99,365.19 353.11,356.19 353.24,346.13 353.36,336.08 353.48,326.95 353.61,319.42 353.73,313.80 353.86,310.10 353.98,308.02 354.10,307.09 354.23,306.81 354.35,306.78 354.47,306.78 354.60,306.86 354.72,307.30 354.85,308.55 354.97,311.10 355.09,315.37 355.22,321.55 355.34,329.54 355.46,338.88 355.59,348.82 355.71,358.39 355.83,366.56 355.96,372.36 356.08,375.11 356.21,374.47 356.33,370.51 356.45,363.73 356.58,354.93 356.70,345.11 356.82,335.31 356.95,326.41 357.07,319.07 357.20,313.61 357.32,310.01 357.44,307.99 357.57,307.08 357.69,306.81 357.81,306.78 357.94,306.78 358.06,306.86 358.19,307.29 358.31,308.50 358.43,310.97 358.56,315.10 358.68,321.08 358.80,328.80 358.93,337.82 359.05,347.42 359.18,356.65 359.30,364.51 359.42,370.09 359.55,372.72 359.67,372.07 359.79,368.22 359.92,361.66 360.04,353.16 360.17,343.69 360.29,334.24 360.41,325.67 360.54,318.60 360.66,313.35 360.78,309.88 360.91,307.94 361.03,307.07 361.15,306.81 361.28,306.78 361.40,306.78 361.53,306.86 361.65,307.27 361.77,308.42 361.90,310.79 362.02,314.73 362.14,320.45 362.27,327.82 362.39,336.42 362.52,345.57 362.64,354.36 362.76,361.84 362.89,367.13 363.01,369.60 363.13,368.95 363.26,365.27 363.38,358.99 363.51,350.88 363.63,341.86 363.75,332.86 363.88,324.71 364.00,318.00 364.12,313.01 364.25,309.72 364.37,307.88 364.50,307.06 364.62,306.81 364.74,306.78 364.87,306.78 364.99,306.85 365.11,307.24 365.24,308.33 365.36,310.56 365.49,314.28 365.61,319.66 365.73,326.60 365.86,334.70 365.98,343.29 366.10,351.54 366.23,358.54 366.35,363.49 366.48,365.78 366.60,365.14 366.72,361.65 366.85,355.73 366.97,348.11 367.09,339.63 367.22,331.19 367.34,323.56 367.46,317.27 367.59,312.60 367.71,309.53 367.84,307.80 367.96,307.04 368.08,306.81 368.21,306.78 368.33,306.78 368.45,306.85 368.58,307.21 368.70,308.22 368.83,310.29 368.95,313.74 369.07,318.73 369.20,325.15 369.32,332.64 369.44,340.59 369.57,348.20 369.69,354.65 369.82,359.19 369.94,361.27 370.06,360.64 370.19,357.38 370.31,351.90 370.43,344.85 370.56,337.02 370.68,329.24 370.81,322.20 370.93,316.42 371.05,312.12 371.18,309.30 371.30,307.72 371.42,307.02 371.55,306.81 371.67,306.78 371.80,306.78 371.92,306.84 372.04,307.17 372.17,308.09 372.29,309.98 372.41,313.12 372.54,317.66 372.66,323.49 372.78,330.28 372.91,337.47 373.03,344.35 373.16,350.17 373.28,354.25 373.40,356.09 373.53,355.49 373.65,352.50 373.77,347.52 373.90,341.12 374.02,334.04 374.15,327.00 374.27,320.66 374.39,315.44 374.52,311.58 374.64,309.04 374.76,307.62 374.89,306.99 375.01,306.80 375.14,306.78 375.26,306.78 375.38,306.84 375.51,307.13 375.63,307.95 375.75,309.63 375.88,312.42 376.00,316.44 376.13,321.61 376.25,327.62 376.37,333.97 376.50,340.03 376.62,345.14 376.74,348.71 376.87,350.29 376.99,349.71 377.12,347.04 377.24,342.61 377.36,336.96 377.49,330.71 377.61,324.51 377.73,318.93 377.86,314.36 377.98,310.97 378.11,308.75 378.23,307.51 378.35,306.96 378.48,306.80 378.60,306.78 378.72,306.78 378.85,306.83 378.97,307.08 379.09,307.79 379.22,309.24 379.34,311.64 379.47,315.10 379.59,319.54 379.71,324.69 379.84,330.11 379.96,335.28 380.08,339.61 380.21,342.61 380.33,343.92 380.46,343.37 380.58,341.04 380.70,337.23 380.83,332.39 380.95,327.05 381.07,321.78 381.20,317.05 381.32,313.17 381.45,310.31 381.57,308.44 381.69,307.40 381.82,306.93 381.94,306.80 382.06,306.78 382.19,306.78 382.31,306.82 382.44,307.03 382.56,307.62 382.68,308.82 382.81,310.80 382.93,313.65 383.05,317.29 383.18,321.50 383.30,325.93 383.43,330.12 383.55,333.62 383.67,336.02 383.80,337.02 383.92,336.52 384.04,334.57 384.17,331.42 384.29,327.46 384.41,323.12 384.54,318.84 384.66,315.02 384.79,311.90 384.91,309.60 385.03,308.10 385.16,307.27 385.28,306.90 385.40,306.79 385.53,306.78 385.65,306.78 385.78,306.81 385.90,306.98 386.02,307.44 386.15,308.37 386.27,309.90 386.39,312.10 386.52,314.89 386.64,318.11 386.77,321.47 386.89,324.63 387.01,327.25 387.14,329.00 387.26,329.69 387.38,329.23 387.51,327.69 387.63,325.26 387.76,322.23 387.88,318.94 388.00,315.73 388.13,312.87 388.25,310.55 388.37,308.85 388.50,307.75 388.62,307.14 388.75,306.87 388.87,306.79 388.99,306.78 389.12,306.78 389.24,306.80 389.36,306.92 389.49,307.24 389.61,307.89 389.74,308.96 389.86,310.47 389.98,312.37 390.11,314.55 390.23,316.79 390.35,318.87 390.48,320.56 390.60,321.64 390.72,322.00 390.85,321.60 390.97,320.49 391.10,318.81 391.22,316.76 391.34,314.58 391.47,312.47 391.59,310.62 391.71,308.98 391.84,307.49 391.96,306.19 392.09,305.06 392.21,304.07 392.33,303.18 392.46,302.38 392.58,301.70 392.70,301.19 392.83,300.91 392.95,300.72 393.08,300.47 393.20,300.13 393.32,299.67 393.45,299.09 393.57,298.39 393.69,297.62 393.82,296.81 393.94,296.06 394.07,295.41 394.19,294.95 394.31,294.71 394.44,294.73 394.56,294.98 394.68,295.44 394.81,296.04 394.93,296.69 395.06,297.33 395.18,297.88 395.30,298.29 395.43,298.56 395.55,298.69 395.67,298.72 395.80,298.68 395.92,298.62 396.04,298.56 396.17,298.49 396.29,298.38 396.42,298.16 396.54,297.78 396.66,297.15 396.79,296.23 396.91,295.01 397.03,293.56 397.16,291.94 397.28,290.32 397.41,288.85 397.53,287.69 397.65,286.98 397.78,286.81 397.90,287.19 398.02,288.08 398.15,289.37 398.27,290.91 398.40,292.51 398.52,294.02 398.64,295.29 398.77,296.27 398.89,296.91 399.01,297.27 399.14,297.42 399.26,297.45 399.39,297.42 399.51,297.39 399.63,297.34 399.76,297.22 399.88,296.91 400.00,296.31 400.13,295.30 400.25,293.82 400.38,291.87 400.50,289.55 400.62,287.02 400.75,284.51 400.87,282.28 400.99,280.59 401.12,279.64 401.24,279.55 401.37,280.32 401.49,281.87 401.61,284.00 401.74,286.46 401.86,288.99 401.98,291.32 402.11,293.28 402.23,294.75 402.35,295.73 402.48,296.26 402.60,296.48 402.73,296.52 402.85,296.49 402.97,296.45 403.10,296.39 403.22,296.22 403.34,295.80 403.47,294.97 403.59,293.60 403.72,291.60 403.84,288.99 403.96,285.90 404.09,282.56 404.21,279.27 404.33,276.37 404.46,274.21 404.58,273.03 404.71,272.98 404.83,274.07 404.95,276.16 405.08,279.00 405.20,282.26 405.32,285.59 405.45,288.66 405.57,291.22 405.70,293.15 405.82,294.43 405.94,295.14 406.07,295.45 406.19,295.52 406.31,295.50 406.44,295.47 406.56,295.40 406.69,295.20 406.81,294.69 406.93,293.65 407.06,291.92 407.18,289.39 407.30,286.10 407.43,282.20 407.55,277.98 407.67,273.85 407.80,270.23 407.92,267.54 408.05,266.10 408.17,266.09 408.29,267.51 408.42,270.19 408.54,273.80 408.66,277.93 408.79,282.13 408.91,286.00 409.04,289.23 409.16,291.66 409.28,293.27 409.41,294.18 409.53,294.57 409.65,294.67 409.78,294.65 409.90,294.62 410.03,294.56 410.15,294.32 410.27,293.68 410.40,292.41 410.52,290.27 410.64,287.16 410.77,283.11 410.89,278.32 411.02,273.16 411.14,268.12 411.26,263.74 411.39,260.51 411.51,258.83 411.63,258.91 411.76,260.73 411.88,264.07 412.01,268.53 412.13,273.59 412.25,278.71 412.38,283.40 412.50,287.30 412.62,290.22 412.75,292.15 412.87,293.23 413.00,293.70 413.12,293.82 413.24,293.81 413.37,293.77 413.49,293.70 413.61,293.42 413.74,292.69 413.86,291.22 413.98,288.77 414.11,285.22 414.23,280.59 414.36,275.15 414.48,269.30 414.60,263.61 414.73,258.68 414.85,255.08 414.97,253.23 415.10,253.37 415.22,255.48 415.35,259.30 415.47,264.37 415.59,270.10 415.72,275.89 415.84,281.18 415.96,285.58 416.09,288.87 416.21,291.04 416.34,292.26 416.46,292.79 416.58,292.92 416.71,292.91 416.83,292.88 416.95,292.80 417.08,292.49 417.20,291.68 417.33,290.04 417.45,287.31 417.57,283.35 417.70,278.20 417.82,272.13 417.94,265.63 418.07,259.31 418.19,253.84 418.32,249.86 418.44,247.84 418.56,248.02 418.69,250.40 418.81,254.67 418.93,260.31 419.06,266.70 419.18,273.13 419.30,279.02 419.43,283.90 419.55,287.55 419.68,289.97 419.80,291.32 419.92,291.91 420.05,292.07 420.17,292.06 420.29,292.03 420.42,291.95 420.54,291.62 420.67,290.73 420.79,288.94 420.91,285.93 421.04,281.58 421.16,275.92 421.28,269.27 421.41,262.14 421.53,255.23 421.66,249.26 421.78,244.93 421.90,242.77 422.03,243.03 422.15,245.68 422.27,250.40 422.40,256.62 422.52,263.63 422.65,270.68 422.77,277.11 422.89,282.44 423.02,286.43 423.14,289.06 423.26,290.53 423.39,291.18 423.51,291.36 423.64,291.36 423.76,291.34 423.88,291.25 424.01,290.91 424.13,289.96 424.25,288.05 424.38,284.85 424.50,280.20 424.63,274.18 424.75,267.12 424.87,259.56 425.00,252.23 425.12,245.93 425.24,241.38 425.37,239.12 425.49,239.44 425.61,242.30 425.74,247.33 425.86,253.95 425.99,261.39 426.11,268.87 426.23,275.68 426.36,281.33 426.48,285.54 426.60,288.32 426.73,289.88 426.85,290.57 426.98,290.76 427.10,290.77 427.22,290.75 427.35,290.67 427.47,290.31 427.59,289.32 427.72,287.31 427.84,283.96 427.97,279.09 428.09,272.79 428.21,265.39 428.34,257.49 428.46,249.84 428.58,243.26 428.71,238.52 428.83,236.19 428.96,236.55 429.08,239.56 429.20,244.85 429.33,251.78 429.45,259.56 429.57,267.38 429.70,274.50 429.82,280.39 429.95,284.79 430.07,287.69 430.19,289.32 430.32,290.04 430.44,290.25 430.56,290.26 430.69,290.24 430.81,290.16 430.93,289.79 431.06,288.76 431.18,286.68 431.31,283.20 431.43,278.16 431.55,271.63 431.68,263.97 431.80,255.79 431.92,247.88 432.05,241.10 432.17,236.23 432.30,233.85 432.42,234.27 432.54,237.41 432.67,242.91 432.79,250.09 432.91,258.15 433.04,266.23 433.16,273.57 433.29,279.65 433.41,284.18 433.53,287.17 433.66,288.85 433.78,289.59 433.90,289.80 434.03,289.81 434.15,289.80 434.28,289.72 434.40,289.34 434.52,288.30 434.65,286.18 434.77,282.63 434.89,277.50 435.02,270.85 435.14,263.06 435.27,254.76 435.39,246.74 435.51,239.86 435.64,234.94 435.76,232.55 435.88,233.00 436.01,236.22 436.13,241.82 436.26,249.12 436.38,257.30 436.50,265.50 436.63,272.95 436.75,279.11 436.87,283.70 437.00,286.73 437.12,288.43 437.24,289.18 437.37,289.40 437.49,289.41 437.62,289.40 437.74,289.32 437.86,288.94 437.99,287.89 438.11,285.75 438.23,282.18 438.36,277.01 438.48,270.32 438.61,262.48 438.73,254.12 438.85,246.06 438.98,239.16 439.10,234.22 439.22,231.84 439.35,232.31 439.47,235.58 439.60,241.23 439.72,248.60 439.84,256.84 439.97,265.08 440.09,272.57 440.21,278.75 440.34,283.36 440.46,286.39 440.59,288.09 440.71,288.85 440.83,289.06 440.96,289.08 441.08,289.07 441.20,288.99 441.33,288.62 441.45,287.58 441.58,285.47 441.70,281.95 441.82,276.85 441.95,270.26 442.07,262.56 442.19,254.35 442.32,246.46 442.44,239.72 442.57,234.91 442.69,232.63 442.81,233.15 442.94,236.40 443.06,241.98 443.18,249.22 443.31,257.30 443.43,265.38 443.55,272.70 443.68,278.75 443.80,283.24 443.93,286.20 444.05,287.86 444.17,288.59 444.30,288.81 444.42,288.83 444.54,288.81 444.67,288.74 444.79,288.38 444.92,287.38 445.04,285.34 445.16,281.93 445.29,277.00 445.41,270.64 445.53,263.21 445.66,255.31 445.78,247.71 445.91,241.23 446.03,236.64 446.15,234.47 446.28,234.99 446.40,238.15 446.52,243.53 446.65,250.52 446.77,258.30 446.90,266.07 447.02,273.11 447.14,278.91 447.27,283.23 447.39,286.07 447.51,287.66 447.64,288.37 447.76,288.57 447.89,288.59 448.01,288.58 448.13,288.52 448.26,288.17 448.38,287.21 448.50,285.26 448.63,282.00 448.75,277.29 448.87,271.22 449.00,264.12 449.12,256.58 449.25,249.33 449.37,243.17 449.49,238.80 449.62,236.75 449.74,237.28 449.86,240.32 449.99,245.48 450.11,252.16 450.24,259.59 450.36,267.00 450.48,273.71 450.61,279.23 450.73,283.34 450.85,286.04 450.98,287.56 451.10,288.23 451.23,288.43 451.35,288.46 451.47,288.45 451.60,288.39 451.72,288.07 451.84,287.17 451.97,285.34 452.09,282.28 452.22,277.86 452.34,272.17 452.46,265.52 452.59,258.46 452.71,251.69 452.83,245.94 452.96,241.88 453.08,240.00 453.21,240.52 453.33,243.38 453.45,248.23 453.58,254.49 453.70,261.45 453.82,268.38 453.95,274.66 454.07,279.82 454.20,283.66 454.32,286.19 454.44,287.60 454.57,288.23 454.69,288.42 454.81,288.45 454.94,288.44 455.06,288.39 455.18,288.09 455.31,287.26 455.43,285.55 455.56,282.70 455.68,278.58 455.80,273.28 455.93,267.09 456.05,260.52 456.17,254.22 456.30,248.88 456.42,245.12 456.55,243.39 456.67,243.89 456.79,246.58 456.92,251.11 457.04,256.94 457.16,263.41 457.29,269.85 457.41,275.68 457.54,280.47 457.66,284.02 457.78,286.36 457.91,287.67 458.03,288.25 458.15,288.42 458.28,288.45 458.40,288.44 458.53,288.39 458.65,288.12 458.77,287.36 458.90,285.79 459.02,283.19 459.14,279.42 459.27,274.58 459.39,268.95 459.52,262.98 459.64,257.26 459.76,252.43 459.89,249.04 460.01,247.50 460.13,248.00 460.26,250.47 460.38,254.61 460.50,259.92 460.63,265.80 460.75,271.64 460.88,276.91 461.00,281.24 461.12,284.46 461.25,286.56 461.37,287.75 461.49,288.27 461.62,288.43 461.74,288.45 461.87,288.44 461.99,288.40 462.11,288.16 462.24,287.47 462.36,286.07 462.48,283.75 462.61,280.40 462.73,276.09 462.86,271.08 462.98,265.79 463.10,260.74 463.23,256.48 463.35,253.51 463.47,252.19 463.60,252.67 463.72,254.90 463.85,258.60 463.97,263.32 464.09,268.53 464.22,273.69 464.34,278.35 464.46,282.16 464.59,284.98 464.71,286.83 464.84,287.87 464.96,288.33 465.08,288.47 465.21,288.49 465.33,288.49 465.45,288.45 465.58,288.25 465.70,287.66 465.83,286.47 465.95,284.48 466.07,281.62 466.20,277.96 466.32,273.71 466.44,269.23 466.57,264.97 466.69,261.40 466.81,258.93 466.94,257.86 467.06,258.32 467.19,260.25 467.31,263.40 467.43,267.41 467.56,271.82 467.68,276.18 467.80,280.09 467.93,283.30 468.05,285.67 468.18,287.22 468.30,288.09 468.42,288.47 468.55,288.59 468.67,288.61 468.79,288.62 468.92,288.59 469.04,288.42 469.17,287.94 469.29,286.95 469.41,285.31 469.54,282.96 469.66,279.94 469.78,276.46 469.91,272.79 470.03,269.32 470.16,266.43 470.28,264.45 470.40,263.63 470.53,264.06 470.65,265.68 470.77,268.30 470.90,271.60 471.02,275.20 471.15,278.75 471.27,281.93 471.39,284.51 471.52,286.42 471.64,287.66 471.76,288.35 471.89,288.66 472.01,288.76 472.13,288.77 472.26,288.78 472.38,288.76 472.51,288.63 472.63,288.26 472.75,287.51 472.88,286.26 473.00,284.48 473.12,282.21 473.25,279.61 473.37,276.90 473.50,274.36 473.62,272.28 473.74,270.89 473.87,270.36 473.99,270.76 474.11,272.04 474.24,274.02 474.36,276.47 474.49,279.13 474.61,281.71 474.73,284.01 474.86,285.87 474.98,287.23 475.10,288.11 475.23,288.60 475.35,288.82 475.48,288.88 475.60,288.89 475.72,288.90 475.85,288.89 475.97,288.80 476.09,288.55 476.22,288.06 476.34,287.24 476.47,286.09 476.59,284.64 476.71,283.01 476.84,281.33 476.96,279.80 477.08,278.59 477.21,277.84 477.33,277.66 477.46,278.07 477.58,279.01 477.70,280.35 477.83,281.92 477.95,283.57 478.07,285.11 478.20,286.44 478.32,287.48 478.44,288.21 478.57,288.68 478.69,288.93 478.82,289.04 478.94,289.08 479.06,289.09 479.19,289.11 479.31,289.11 479.43,289.09 479.56,289.01 479.68,288.85 479.81,288.59 479.93,288.24 480.05,287.80 480.18,287.33 480.30,286.85 480.42,286.42 480.55,286.09 480.67,285.92 480.80,285.92 480.92,286.08 481.04,286.40 481.17,286.82 481.29,287.31 481.41,287.89 481.54,288.58 481.66,289.32 481.79,290.06 481.91,290.78 482.03,292.15 482.16,292.31 482.28,292.65 482.40,293.05 482.53,293.42 482.65,293.68 482.78,293.83 482.90,294.02 483.02,294.38 483.15,295.04 483.27,296.10 483.39,297.63 483.52,299.63 483.64,302.02 483.76,304.63 483.89,307.24 484.01,309.58 484.14,311.39 484.26,312.47 484.38,312.67 484.51,311.98 484.63,310.48 484.75,308.36 484.88,305.87 485.00,303.30 485.13,300.90 485.25,298.88 485.37,297.35 485.50,296.33 485.62,295.77 485.74,295.54 485.87,295.49 485.99,295.53 486.12,295.57 486.24,295.63 486.36,295.81 486.49,296.26 486.61,297.16 486.73,298.66 486.86,300.85 486.98,303.72 487.11,307.14 487.23,310.85 487.35,314.52 487.48,317.76 487.60,320.19 487.72,321.54 487.85,321.63 487.97,320.44 488.10,318.12 488.22,314.96 488.34,311.31 488.47,307.59 488.59,304.14 488.71,301.25 488.84,299.07 488.96,297.63 489.09,296.81 489.21,296.46 489.33,296.38 489.46,296.39 489.58,296.43 489.70,296.49 489.83,296.72 489.95,297.30 490.07,298.48 490.20,300.44 490.32,303.32 490.45,307.07 490.57,311.51 490.69,316.32 490.82,321.04 490.94,325.17 491.06,328.24 491.19,329.89 491.31,329.91 491.44,328.30 491.56,325.25 491.68,321.13 491.81,316.43 491.93,311.65 492.05,307.25 492.18,303.58 492.30,300.83 492.43,299.00 492.55,297.98 492.67,297.55 492.80,297.44 492.92,297.46 493.04,297.50 493.17,297.59 493.29,297.86 493.42,298.58 493.54,300.02 493.66,302.43 493.79,305.94 493.91,310.51 494.03,315.91 494.16,321.72 494.28,327.41 494.41,332.36 494.53,336.01 494.65,337.92 494.78,337.86 494.90,335.83 495.02,332.08 495.15,327.07 495.27,321.37 495.39,315.60 495.52,310.30 495.64,305.89 495.77,302.59 495.89,300.40 496.01,299.18 496.14,298.65 496.26,298.51 496.38,298.53 496.51,298.57 496.63,298.65 496.76,298.97 496.88,299.80 497.00,301.49 497.13,304.30 497.25,308.38 497.37,313.70 497.50,319.96 497.62,326.70 497.75,333.27 497.87,338.96 497.99,343.14 498.12,345.29 498.24,345.15 498.36,342.74 498.49,338.35 498.61,332.52 498.74,325.90 498.86,319.22 498.98,313.10 499.11,308.02 499.23,304.21 499.35,301.70 499.48,300.29 499.60,299.67 499.73,299.51 499.85,299.52 499.97,299.56 500.10,299.65 500.22,300.00 500.34,300.94 500.47,302.84 500.59,306.01 500.72,310.62 500.84,316.61 500.96,323.66 501.09,331.22 501.21,338.59 501.33,344.95 501.46,349.60 501.58,351.96 501.70,351.75 501.83,348.99 501.95,344.02 502.08,337.44 502.20,330.01 502.32,322.51 502.45,315.65 502.57,309.96 502.69,305.71 502.82,302.90 502.94,301.32 503.07,300.63 503.19,300.45 503.31,300.45 503.44,300.49 503.56,300.58 503.68,300.97 503.81,302.00 503.93,304.09 504.06,307.58 504.18,312.65 504.30,319.24 504.43,326.98 504.55,335.28 504.67,343.34 504.80,350.30 504.92,355.35 505.05,357.89 505.17,357.61 505.29,354.54 505.42,349.06 505.54,341.83 505.66,333.67 505.79,325.46 505.91,317.96 506.04,311.74 506.16,307.09 506.28,304.02 506.41,302.30 506.53,301.54 506.65,301.34 506.78,301.34 506.90,301.38 507.02,301.48 507.15,301.89 507.27,303.00 507.40,305.26 507.52,309.03 507.64,314.50 507.77,321.60 507.89,329.94 508.01,338.87 508.14,347.53 508.26,354.99 508.39,360.40 508.51,363.09 508.63,362.75 508.76,359.41 508.88,353.49 509.00,345.69 509.13,336.91 509.25,328.08 509.38,320.03 509.50,313.35 509.62,308.37 509.75,305.08 509.87,303.24 509.99,302.43 510.12,302.21 510.24,302.21 510.37,302.24 510.49,302.34 510.61,302.78 510.74,303.96 510.86,306.36 510.98,310.36 511.11,316.17 511.23,323.70 511.36,332.54 511.48,341.99 511.60,351.15 511.73,359.03 511.85,364.72 511.97,367.54 512.10,367.14 512.22,363.58 512.35,357.28 512.47,349.01 512.59,339.71 512.72,330.37 512.84,321.86 512.96,314.81 513.09,309.55 513.21,306.08 513.33,304.13 513.46,303.28 513.58,303.04 513.71,303.04 513.83,303.07 513.95,303.18 514.08,303.63 514.20,304.87 514.32,307.38 514.45,311.57 514.57,317.65 514.70,325.52 514.82,334.76 514.94,344.63 515.07,354.19 515.19,362.40 515.31,368.31 515.44,371.22 515.56,370.77 515.69,367.02 515.81,360.42 515.93,351.77 516.06,342.06 516.18,332.32 516.30,323.44 516.43,316.10 516.55,310.62 516.68,307.00 516.80,304.98 516.92,304.09 517.05,303.84 517.17,303.84 517.29,303.87 517.42,303.97 517.54,304.44 517.67,305.72 517.79,308.32 517.91,312.65 518.04,318.93 518.16,327.06 518.28,336.60 518.41,346.78 518.53,356.63 518.65,365.08 518.78,371.15 518.90,374.12 519.03,373.63 519.15,369.73 519.27,362.90 519.40,353.97 519.52,343.95 519.64,333.91 519.77,324.77 519.89,317.21 520.02,311.57 520.14,307.86 520.26,305.77 520.39,304.86 520.51,304.60 520.63,304.59 520.76,304.62 520.88,304.73 521.01,305.21 521.13,306.51 521.25,309.17 521.38,313.60 521.50,320.01 521.62,328.32 521.75,338.05 521.87,348.43 522.00,358.47 522.12,367.06 522.24,373.24 522.37,376.24 522.49,375.70 522.61,371.70 522.74,364.72 522.86,355.60 522.99,345.38 523.11,335.15 523.23,325.84 523.36,318.14 523.48,312.41 523.60,308.63 523.73,306.51 523.85,305.57 523.98,305.31 524.10,305.30 524.22,305.33 524.35,305.44 524.47,305.92 524.59,307.24 524.72,309.92 524.84,314.40 524.96,320.89 525.09,329.28 525.21,339.10 525.34,349.58 525.46,359.70 525.58,368.36 525.71,374.56 525.83,377.56 525.95,376.99 526.08,372.92 526.20,365.86 526.33,356.65 526.45,346.34 526.57,336.02 526.70,326.64 526.82,318.89 526.94,313.11 527.07,309.31"/>
</g>
<path class="tk" d="M61.53 168.20v-2.90M61.53 6.20v2.90M71.86 168.20v-2.90M71.86 6.20v2.90M82.20 168.20v-2.90M82.20 6.20v2.90M92.53 168.20v-5.50M92.53 6.20v5.50M102.87 168.20v-2.90M102.87 6.20v2.90M113.21 168.20v-2.90M113.21 6.20v2.90M123.54 168.20v-2.90M123.54 6.20v2.90M133.88 168.20v-2.90M133.88 6.20v2.90M144.22 168.20v-5.50M144.22 6.20v5.50M154.55 168.20v-2.90M154.55 6.20v2.90M164.89 168.20v-2.90M164.89 6.20v2.90M175.22 168.20v-2.90M175.22 6.20v2.90M185.56 168.20v-2.90M185.56 6.20v2.90M195.90 168.20v-5.50M195.90 6.20v5.50M206.23 168.20v-2.90M206.23 6.20v2.90M216.57 168.20v-2.90M216.57 6.20v2.90M226.91 168.20v-2.90M226.91 6.20v2.90M237.24 168.20v-2.90M237.24 6.20v2.90M247.58 168.20v-5.50M247.58 6.20v5.50M257.91 168.20v-2.90M257.91 6.20v2.90M59.50 126.92h5.50M258.70 126.92h-5.50M59.50 84.95h5.50M258.70 84.95h-5.50M59.50 42.97h5.50M258.70 42.97h-5.50M59.50 160.50h2.90M258.70 160.50h-2.90M59.50 152.11h2.90M258.70 152.11h-2.90M59.50 143.71h2.90M258.70 143.71h-2.90M59.50 135.32h2.90M258.70 135.32h-2.90M59.50 118.53h2.90M258.70 118.53h-2.90M59.50 110.13h2.90M258.70 110.13h-2.90M59.50 101.74h2.90M258.70 101.74h-2.90M59.50 93.34h2.90M258.70 93.34h-2.90M59.50 76.55h2.90M258.70 76.55h-2.90M59.50 68.16h2.90M258.70 68.16h-2.90M59.50 59.76h2.90M258.70 59.76h-2.90M59.50 51.37h2.90M258.70 51.37h-2.90M59.50 34.58h2.90M258.70 34.58h-2.90M59.50 26.18h2.90M258.70 26.18h-2.90M59.50 17.79h2.90M258.70 17.79h-2.90M59.50 9.39h2.90M258.70 9.39h-2.90"/>
<rect class="fr" x="59.50" y="6.20" width="199.20" height="162.00"/>
<text x="92.13" y="183.70" text-anchor="middle">80,<tspan dx="2.8">000</tspan></text>
<text x="143.82" y="183.70" text-anchor="middle">82,<tspan dx="2.8">500</tspan></text>
<text x="195.50" y="183.70" text-anchor="middle">85,<tspan dx="2.8">000</tspan></text>
<text x="247.18" y="183.70" text-anchor="middle">87,<tspan dx="2.8">500</tspan></text>
<text x="144.80" y="202.00"><tspan class="i">t</tspan><tspan x="154.90" letter-spacing="0.4">(h)</tspan></text>
<text x="53.80" y="132.22" text-anchor="end">5</text>
<text x="53.80" y="90.25" text-anchor="end">10</text>
<text x="53.80" y="48.27" text-anchor="end">15</text>
<text transform="translate(31.80 109.60) rotate(-90) scale(1.2 1)" class="i" style="font-size:14.5px">T</text>
<text transform="translate(31.80 93.90) rotate(-90)" letter-spacing="0.35" style="font-size:14.5px">(°C)</text>
<path class="tk" d="M339.42 168.20v-2.90M339.42 6.20v2.90M349.73 168.20v-2.90M349.73 6.20v2.90M360.04 168.20v-2.90M360.04 6.20v2.90M370.35 168.20v-5.50M370.35 6.20v5.50M380.66 168.20v-2.90M380.66 6.20v2.90M390.97 168.20v-2.90M390.97 6.20v2.90M401.28 168.20v-2.90M401.28 6.20v2.90M411.59 168.20v-2.90M411.59 6.20v2.90M421.90 168.20v-5.50M421.90 6.20v5.50M432.21 168.20v-2.90M432.21 6.20v2.90M442.52 168.20v-2.90M442.52 6.20v2.90M452.83 168.20v-2.90M452.83 6.20v2.90M463.14 168.20v-2.90M463.14 6.20v2.90M473.45 168.20v-5.50M473.45 6.20v5.50M483.76 168.20v-2.90M483.76 6.20v2.90M494.08 168.20v-2.90M494.08 6.20v2.90M504.39 168.20v-2.90M504.39 6.20v2.90M514.70 168.20v-2.90M514.70 6.20v2.90M525.01 168.20v-5.50M525.01 6.20v5.50M535.32 168.20v-2.90M535.32 6.20v2.90M337.40 165.36h5.50M536.10 165.36h-5.50M337.40 124.84h5.50M536.10 124.84h-5.50M337.40 84.32h5.50M536.10 84.32h-5.50M337.40 43.80h5.50M536.10 43.80h-5.50M337.40 157.26h2.90M536.10 157.26h-2.90M337.40 149.16h2.90M536.10 149.16h-2.90M337.40 141.05h2.90M536.10 141.05h-2.90M337.40 132.95h2.90M536.10 132.95h-2.90M337.40 116.74h2.90M536.10 116.74h-2.90M337.40 108.64h2.90M536.10 108.64h-2.90M337.40 100.53h2.90M536.10 100.53h-2.90M337.40 92.43h2.90M536.10 92.43h-2.90M337.40 76.22h2.90M536.10 76.22h-2.90M337.40 68.11h2.90M536.10 68.11h-2.90M337.40 60.01h2.90M536.10 60.01h-2.90M337.40 51.91h2.90M536.10 51.91h-2.90M337.40 35.70h2.90M536.10 35.70h-2.90M337.40 27.59h2.90M536.10 27.59h-2.90M337.40 19.49h2.90M536.10 19.49h-2.90M337.40 11.39h2.90M536.10 11.39h-2.90"/>
<rect class="fr" x="337.40" y="6.20" width="198.70" height="162.00"/>
<text x="369.95" y="183.70" text-anchor="middle">80,<tspan dx="2.8">000</tspan></text>
<text x="421.50" y="183.70" text-anchor="middle">82,<tspan dx="2.8">500</tspan></text>
<text x="473.05" y="183.70" text-anchor="middle">85,<tspan dx="2.8">000</tspan></text>
<text x="524.61" y="183.70" text-anchor="middle">87,<tspan dx="2.8">500</tspan></text>
<text x="422.45" y="202.00"><tspan class="i">t</tspan><tspan x="432.55" letter-spacing="0.4">(h)</tspan></text>
<text x="331.70" y="170.66" text-anchor="end">0</text>
<text x="331.70" y="130.14" text-anchor="end">5</text>
<text x="331.70" y="89.62" text-anchor="end">10</text>
<text x="331.70" y="49.10" text-anchor="end">15</text>
<text transform="translate(309.30 109.60) rotate(-90) scale(1.2 1)" class="i" style="font-size:14.5px">T</text>
<text transform="translate(309.30 93.90) rotate(-90)" letter-spacing="0.35" style="font-size:14.5px">(°C)</text>
<path class="tk" d="M61.72 386.10v-2.90M61.72 224.60v2.90M72.05 386.10v-2.90M72.05 224.60v2.90M82.38 386.10v-2.90M82.38 224.60v2.90M92.70 386.10v-5.50M92.70 224.60v5.50M103.03 386.10v-2.90M103.03 224.60v2.90M113.35 386.10v-2.90M113.35 224.60v2.90M123.68 386.10v-2.90M123.68 224.60v2.90M134.00 386.10v-2.90M134.00 224.60v2.90M144.33 386.10v-5.50M144.33 224.60v5.50M154.66 386.10v-2.90M154.66 224.60v2.90M164.98 386.10v-2.90M164.98 224.60v2.90M175.31 386.10v-2.90M175.31 224.60v2.90M185.63 386.10v-2.90M185.63 224.60v2.90M195.96 386.10v-5.50M195.96 224.60v5.50M206.29 386.10v-2.90M206.29 224.60v2.90M216.61 386.10v-2.90M216.61 224.60v2.90M226.94 386.10v-2.90M226.94 224.60v2.90M237.26 386.10v-2.90M237.26 224.60v2.90M247.59 386.10v-5.50M247.59 224.60v5.50M257.92 386.10v-2.90M257.92 224.60v2.90M59.70 381.55h5.50M258.70 381.55h-5.50M59.70 329.54h5.50M258.70 329.54h-5.50M59.70 277.52h5.50M258.70 277.52h-5.50M59.70 225.51h5.50M258.70 225.51h-5.50M59.70 368.55h2.90M258.70 368.55h-2.90M59.70 355.54h2.90M258.70 355.54h-2.90M59.70 342.54h2.90M258.70 342.54h-2.90M59.70 316.53h2.90M258.70 316.53h-2.90M59.70 303.53h2.90M258.70 303.53h-2.90M59.70 290.53h2.90M258.70 290.53h-2.90M59.70 264.52h2.90M258.70 264.52h-2.90M59.70 251.52h2.90M258.70 251.52h-2.90M59.70 238.51h2.90M258.70 238.51h-2.90"/>
<rect class="fr" x="59.70" y="224.60" width="199.00" height="161.50"/>
<text x="92.30" y="402.00" text-anchor="middle">80,<tspan dx="2.8">000</tspan></text>
<text x="143.93" y="402.00" text-anchor="middle">82,<tspan dx="2.8">500</tspan></text>
<text x="195.56" y="402.00" text-anchor="middle">85,<tspan dx="2.8">000</tspan></text>
<text x="247.19" y="402.00" text-anchor="middle">87,<tspan dx="2.8">500</tspan></text>
<text x="144.90" y="419.90"><tspan class="i">t</tspan><tspan x="155.00" letter-spacing="0.4">(h)</tspan></text>
<text x="54.00" y="386.85" text-anchor="end">0.4</text>
<text transform="translate(25.60 386.85) scale(1.32 1)">−</text>
<text x="54.00" y="334.84" text-anchor="end">0.2</text>
<text transform="translate(25.60 334.84) scale(1.32 1)">−</text>
<text x="54.00" y="282.82" text-anchor="end">0.0</text>
<text x="54.00" y="230.81" text-anchor="end">0.2</text>
<text transform="translate(16.20 327.75) rotate(-90) scale(1.2 1)" class="i" style="font-size:14.5px">T</text>
<text transform="translate(16.20 312.05) rotate(-90)" letter-spacing="0.35" style="font-size:14.5px">(°C)</text>
<path class="tk" d="M339.42 386.10v-2.90M339.42 224.60v2.90M349.73 386.10v-2.90M349.73 224.60v2.90M360.04 386.10v-2.90M360.04 224.60v2.90M370.35 386.10v-5.50M370.35 224.60v5.50M380.66 386.10v-2.90M380.66 224.60v2.90M390.97 386.10v-2.90M390.97 224.60v2.90M401.28 386.10v-2.90M401.28 224.60v2.90M411.59 386.10v-2.90M411.59 224.60v2.90M421.90 386.10v-5.50M421.90 224.60v5.50M432.21 386.10v-2.90M432.21 224.60v2.90M442.52 386.10v-2.90M442.52 224.60v2.90M452.83 386.10v-2.90M452.83 224.60v2.90M463.14 386.10v-2.90M463.14 224.60v2.90M473.45 386.10v-5.50M473.45 224.60v5.50M483.76 386.10v-2.90M483.76 224.60v2.90M494.08 386.10v-2.90M494.08 224.60v2.90M504.39 386.10v-2.90M504.39 224.60v2.90M514.70 386.10v-2.90M514.70 224.60v2.90M525.01 386.10v-5.50M525.01 224.60v5.50M535.32 386.10v-2.90M535.32 224.60v2.90M337.40 381.55h5.50M536.10 381.55h-5.50M337.40 329.54h5.50M536.10 329.54h-5.50M337.40 277.52h5.50M536.10 277.52h-5.50M337.40 225.51h5.50M536.10 225.51h-5.50M337.40 368.55h2.90M536.10 368.55h-2.90M337.40 355.54h2.90M536.10 355.54h-2.90M337.40 342.54h2.90M536.10 342.54h-2.90M337.40 316.53h2.90M536.10 316.53h-2.90M337.40 303.53h2.90M536.10 303.53h-2.90M337.40 290.53h2.90M536.10 290.53h-2.90M337.40 264.52h2.90M536.10 264.52h-2.90M337.40 251.52h2.90M536.10 251.52h-2.90M337.40 238.51h2.90M536.10 238.51h-2.90"/>
<rect class="fr" x="337.40" y="224.60" width="198.70" height="161.50"/>
<text x="369.95" y="402.00" text-anchor="middle">80,<tspan dx="2.8">000</tspan></text>
<text x="421.50" y="402.00" text-anchor="middle">82,<tspan dx="2.8">500</tspan></text>
<text x="473.05" y="402.00" text-anchor="middle">85,<tspan dx="2.8">000</tspan></text>
<text x="524.61" y="402.00" text-anchor="middle">87,<tspan dx="2.8">500</tspan></text>
<text x="422.45" y="419.90"><tspan class="i">t</tspan><tspan x="432.55" letter-spacing="0.4">(h)</tspan></text>
<text x="331.70" y="386.85" text-anchor="end">0.4</text>
<text transform="translate(303.30 386.85) scale(1.32 1)">−</text>
<text x="331.70" y="334.84" text-anchor="end">0.2</text>
<text transform="translate(303.30 334.84) scale(1.32 1)">−</text>
<text x="331.70" y="282.82" text-anchor="end">0.0</text>
<text x="331.70" y="230.81" text-anchor="end">0.2</text>
<text transform="translate(294.00 327.75) rotate(-90) scale(1.2 1)" class="i" style="font-size:14.5px">T</text>
<text transform="translate(294.00 312.05) rotate(-90)" letter-spacing="0.35" style="font-size:14.5px">(°C)</text>
<text x="242.50" y="34.80" text-anchor="middle" letter-spacing="0.3">(a)</text>
<text x="520.40" y="34.80" text-anchor="middle" letter-spacing="0.3">(b)</text>
<text x="242.70" y="253.20" text-anchor="middle" letter-spacing="0.3">(c)</text>
<text x="520.40" y="253.20" text-anchor="middle" letter-spacing="0.3">(d)</text>
<path d="M125.80 128.10h30.2" stroke="#ff0000" stroke-width="2" fill="none"/>
<text transform="translate(165.50 133.30) scale(1.25 1)" style="font-size:14.5px" class="i">T</text>
<text transform="translate(174.10 135.30) scale(1.42 1)" style="font-size:9.8px" class="i">in</text>
<path d="M125.80 147.90h30.2" stroke="#0000ff" stroke-width="2" fill="none"/>
<text transform="translate(165.50 153.10) scale(1.25 1)" style="font-size:14.5px" class="i">T</text>
<text transform="translate(174.10 155.10) scale(1.3 1)" style="font-size:9.8px" class="i">out</text>
<path d="M403.60 128.10h30.2" stroke="#ff0000" stroke-width="2" fill="none"/>
<text transform="translate(443.30 133.30) scale(1.25 1)" style="font-size:14.5px" class="i">T</text>
<text transform="translate(451.90 135.30) scale(1.42 1)" style="font-size:9.8px" class="i">in</text>
<path d="M403.60 147.90h30.2" stroke="#0000ff" stroke-width="2" fill="none"/>
<text transform="translate(443.30 153.10) scale(1.25 1)" style="font-size:14.5px" class="i">T</text>
<text transform="translate(451.90 155.10) scale(1.3 1)" style="font-size:9.8px" class="i">out</text>
<path d="M122.90 365.90h30.2" stroke="#ff0000" stroke-width="2" fill="none"/>
<text transform="translate(163.30 371.10) scale(1.3 1)" style="font-size:14.5px">Δ</text>
<text transform="translate(173.80 371.10) scale(1.25 1)" style="font-size:14.5px" class="i">T</text>
<text transform="translate(182.40 373.10) scale(1.42 1)" style="font-size:9.8px" class="i">in</text>
<path d="M397.90 365.90h30.2" stroke="#0000ff" stroke-width="2" fill="none"/>
<text transform="translate(438.30 371.10) scale(1.3 1)" style="font-size:14.5px">Δ</text>
<text transform="translate(448.80 371.10) scale(1.25 1)" style="font-size:14.5px" class="i">T</text>
<text transform="translate(457.40 373.10) scale(1.3 1)" style="font-size:9.8px" class="i">out</text>
</svg></body></html>
